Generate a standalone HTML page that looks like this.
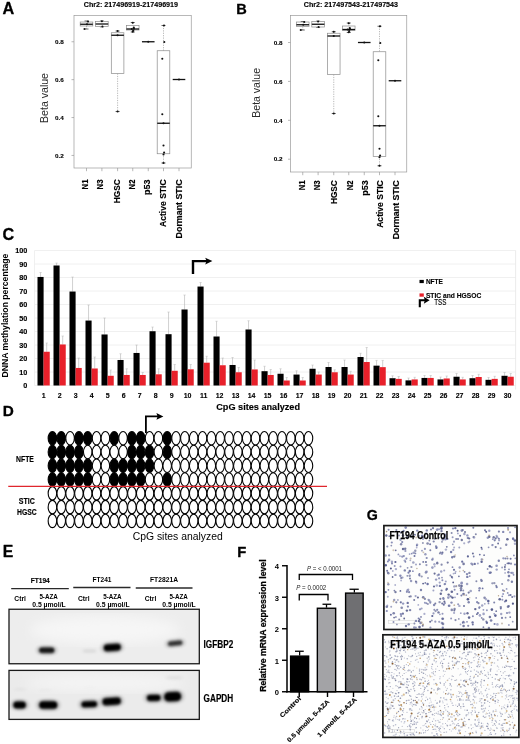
<!DOCTYPE html>
<html lang="en"><head><meta charset="utf-8"><title>Figure</title>
<style>html,body{margin:0;padding:0;background:#fff}svg{display:block}text{font-family:"Liberation Sans",sans-serif}</style></head><body>
<svg width="520" height="744" viewBox="0 0 520 744">
<defs>
<filter id="b1" x="-30%" y="-100%" width="160%" height="300%"><feGaussianBlur stdDeviation="1.1 0.9"/></filter>
<filter id="b2" x="-30%" y="-100%" width="160%" height="300%"><feGaussianBlur stdDeviation="2 1.5"/></filter>
<filter id="b3" x="-10%" y="-10%" width="120%" height="120%"><feGaussianBlur stdDeviation="6"/></filter>
</defs>
<rect width="520" height="744" fill="#fff"/>
<text x="2.60" y="14.45" font-size="16.2" font-weight="bold" text-anchor="start" fill="#000" stroke="#000" stroke-width="0.3" stroke-linejoin="round">A</text>
<text x="236.30" y="13.50" font-size="14.6" font-weight="bold" text-anchor="start" fill="#000" stroke="#000" stroke-width="0.3" stroke-linejoin="round">B</text>
<text x="2.60" y="239.80" font-size="16.2" font-weight="bold" text-anchor="start" fill="#000" stroke="#000" stroke-width="0.3" stroke-linejoin="round">C</text>
<text x="2.75" y="415.90" font-size="15.3" font-weight="bold" text-anchor="start" fill="#000" stroke="#000" stroke-width="0.3" stroke-linejoin="round">D</text>
<text x="2.70" y="557.20" font-size="15.8" font-weight="bold" text-anchor="start" fill="#000" stroke="#000" stroke-width="0.3" stroke-linejoin="round">E</text>
<text x="237.30" y="556.90" font-size="14.8" font-weight="bold" text-anchor="start" fill="#000" stroke="#000" stroke-width="0.3" stroke-linejoin="round">F</text>
<text x="366.70" y="519.50" font-size="14.2" font-weight="bold" text-anchor="start" fill="#000" stroke="#000" stroke-width="0.3" stroke-linejoin="round">G</text>
<rect x="74.00" y="15.50" width="117.25" height="152.50" fill="none" stroke="#9a9a9a" stroke-width="0.7" />
<text x="83.75" y="6.51" font-size="7.0" font-weight="bold" text-anchor="start" fill="#000" textLength="94.25" lengthAdjust="spacingAndGlyphs" stroke="#000" stroke-width="0.12" stroke-linejoin="round">Chr2: 217496919-217496919</text>
<line x1="71.50" y1="41.75" x2="74.00" y2="41.75" stroke="#9a9a9a" stroke-width="0.7" />
<text x="63.90" y="43.97" font-size="6.2" font-weight="bold" text-anchor="end" fill="#000" textLength="8.8" lengthAdjust="spacingAndGlyphs" stroke="#000" stroke-width="0.12" stroke-linejoin="round">0.8</text>
<line x1="71.50" y1="79.65" x2="74.00" y2="79.65" stroke="#9a9a9a" stroke-width="0.7" />
<text x="63.90" y="81.87" font-size="6.2" font-weight="bold" text-anchor="end" fill="#000" textLength="8.8" lengthAdjust="spacingAndGlyphs" stroke="#000" stroke-width="0.12" stroke-linejoin="round">0.6</text>
<line x1="71.50" y1="117.55" x2="74.00" y2="117.55" stroke="#9a9a9a" stroke-width="0.7" />
<text x="63.90" y="119.77" font-size="6.2" font-weight="bold" text-anchor="end" fill="#000" textLength="8.8" lengthAdjust="spacingAndGlyphs" stroke="#000" stroke-width="0.12" stroke-linejoin="round">0.4</text>
<line x1="71.50" y1="155.45" x2="74.00" y2="155.45" stroke="#9a9a9a" stroke-width="0.7" />
<text x="63.90" y="157.67" font-size="6.2" font-weight="bold" text-anchor="end" fill="#000" textLength="8.8" lengthAdjust="spacingAndGlyphs" stroke="#000" stroke-width="0.12" stroke-linejoin="round">0.2</text>
<text transform="translate(44.70 98.00) rotate(-90)" x="0" y="3.79" font-size="10.6" font-weight="normal" text-anchor="middle" fill="#2a2a2a" textLength="50" lengthAdjust="spacingAndGlyphs">Beta value</text>
<line x1="86.50" y1="168.00" x2="86.50" y2="171.20" stroke="#9a9a9a" stroke-width="0.7" />
<text transform="translate(85.20 179.40) rotate(-90)" x="0" y="2.94" font-size="8.2" font-weight="bold" text-anchor="end" fill="#000" textLength="10" lengthAdjust="spacingAndGlyphs" stroke="#000" stroke-width="0.15" stroke-linejoin="round">N1</text>
<line x1="101.90" y1="168.00" x2="101.90" y2="171.20" stroke="#9a9a9a" stroke-width="0.7" />
<text transform="translate(100.40 179.40) rotate(-90)" x="0" y="2.94" font-size="8.2" font-weight="bold" text-anchor="end" fill="#000" textLength="10" lengthAdjust="spacingAndGlyphs" stroke="#000" stroke-width="0.15" stroke-linejoin="round">N3</text>
<line x1="117.60" y1="168.00" x2="117.60" y2="171.20" stroke="#9a9a9a" stroke-width="0.7" />
<text transform="translate(116.80 179.40) rotate(-90)" x="0" y="2.94" font-size="8.2" font-weight="bold" text-anchor="end" fill="#000" textLength="23.75" lengthAdjust="spacingAndGlyphs" stroke="#000" stroke-width="0.15" stroke-linejoin="round">HGSC</text>
<line x1="132.75" y1="168.00" x2="132.75" y2="171.20" stroke="#9a9a9a" stroke-width="0.7" />
<text transform="translate(131.95 179.40) rotate(-90)" x="0" y="2.94" font-size="8.2" font-weight="bold" text-anchor="end" fill="#000" textLength="10" lengthAdjust="spacingAndGlyphs" stroke="#000" stroke-width="0.15" stroke-linejoin="round">N2</text>
<line x1="148.25" y1="168.00" x2="148.25" y2="171.20" stroke="#9a9a9a" stroke-width="0.7" />
<text transform="translate(147.25 179.40) rotate(-90)" x="0" y="2.94" font-size="8.2" font-weight="bold" text-anchor="end" fill="#000" textLength="15.5" lengthAdjust="spacingAndGlyphs" stroke="#000" stroke-width="0.15" stroke-linejoin="round">p53</text>
<line x1="163.50" y1="168.00" x2="163.50" y2="171.20" stroke="#9a9a9a" stroke-width="0.7" />
<text transform="translate(163.20 179.40) rotate(-90)" x="0" y="2.94" font-size="8.2" font-weight="bold" text-anchor="end" fill="#000" textLength="47.5" lengthAdjust="spacingAndGlyphs" stroke="#000" stroke-width="0.15" stroke-linejoin="round">Active STIC</text>
<line x1="179.00" y1="168.00" x2="179.00" y2="171.20" stroke="#9a9a9a" stroke-width="0.7" />
<text transform="translate(179.00 179.40) rotate(-90)" x="0" y="2.94" font-size="8.2" font-weight="bold" text-anchor="end" fill="#000" textLength="59" lengthAdjust="spacingAndGlyphs" stroke="#000" stroke-width="0.15" stroke-linejoin="round">Dormant STIC</text>
<line x1="86.50" y1="21.00" x2="86.50" y2="22.00" stroke="#888" stroke-width="0.6" stroke-dasharray="1.2 1.2"/>
<line x1="84.50" y1="21.00" x2="88.50" y2="21.00" stroke="#222" stroke-width="0.7" />
<line x1="86.50" y1="26.00" x2="86.50" y2="29.00" stroke="#888" stroke-width="0.6" stroke-dasharray="1.2 1.2"/>
<line x1="84.50" y1="29.00" x2="88.50" y2="29.00" stroke="#222" stroke-width="0.7" />
<rect x="80.20" y="22.00" width="12.60" height="4.00" fill="#fff" stroke="#8a8a8a" stroke-width="0.7" />
<line x1="80.20" y1="24.25" x2="92.80" y2="24.25" stroke="#111" stroke-width="1.3" />
<circle cx="88.00" cy="21.50" r="1.05" fill="#111"/>
<circle cx="87.00" cy="24.20" r="1.05" fill="#111"/>
<circle cx="84.50" cy="29.00" r="1.05" fill="#111"/>
<line x1="101.90" y1="21.00" x2="101.90" y2="21.50" stroke="#888" stroke-width="0.6" stroke-dasharray="1.2 1.2"/>
<line x1="99.90" y1="21.00" x2="103.90" y2="21.00" stroke="#222" stroke-width="0.7" />
<line x1="101.90" y1="26.50" x2="101.90" y2="26.80" stroke="#888" stroke-width="0.6" stroke-dasharray="1.2 1.2"/>
<line x1="99.90" y1="26.80" x2="103.90" y2="26.80" stroke="#222" stroke-width="0.7" />
<rect x="95.60" y="21.50" width="12.60" height="5.00" fill="#fff" stroke="#8a8a8a" stroke-width="0.7" />
<line x1="95.60" y1="24.00" x2="108.20" y2="24.00" stroke="#111" stroke-width="1.3" />
<circle cx="101.90" cy="21.20" r="1.05" fill="#111"/>
<circle cx="102.40" cy="26.50" r="1.05" fill="#111"/>
<line x1="117.60" y1="31.00" x2="117.60" y2="32.75" stroke="#888" stroke-width="0.6" stroke-dasharray="1.2 1.2"/>
<line x1="115.60" y1="31.00" x2="119.60" y2="31.00" stroke="#222" stroke-width="0.7" />
<line x1="117.60" y1="73.50" x2="117.60" y2="111.50" stroke="#888" stroke-width="0.6" stroke-dasharray="1.2 1.2"/>
<line x1="115.60" y1="111.50" x2="119.60" y2="111.50" stroke="#222" stroke-width="0.7" />
<rect x="111.30" y="32.75" width="12.60" height="40.75" fill="#fff" stroke="#8a8a8a" stroke-width="0.7" />
<line x1="111.30" y1="35.25" x2="123.90" y2="35.25" stroke="#111" stroke-width="1.3" />
<circle cx="117.60" cy="31.00" r="1.05" fill="#111"/>
<circle cx="117.60" cy="35.30" r="1.05" fill="#111"/>
<circle cx="117.60" cy="111.50" r="1.05" fill="#111"/>
<line x1="132.75" y1="22.50" x2="132.75" y2="25.50" stroke="#888" stroke-width="0.6" stroke-dasharray="1.2 1.2"/>
<line x1="130.75" y1="22.50" x2="134.75" y2="22.50" stroke="#222" stroke-width="0.7" />
<line x1="132.75" y1="30.00" x2="132.75" y2="32.00" stroke="#888" stroke-width="0.6" stroke-dasharray="1.2 1.2"/>
<line x1="130.75" y1="32.00" x2="134.75" y2="32.00" stroke="#222" stroke-width="0.7" />
<rect x="126.45" y="25.50" width="12.60" height="4.50" fill="#fff" stroke="#8a8a8a" stroke-width="0.7" />
<line x1="126.45" y1="29.00" x2="139.05" y2="29.00" stroke="#111" stroke-width="1.3" />
<circle cx="132.75" cy="22.80" r="1.05" fill="#111"/>
<circle cx="133.75" cy="27.50" r="1.05" fill="#111"/>
<circle cx="131.75" cy="29.00" r="1.05" fill="#111"/>
<circle cx="133.25" cy="30.50" r="1.05" fill="#111"/>
<circle cx="132.75" cy="31.80" r="1.05" fill="#111"/>
<circle cx="133.95" cy="28.60" r="1.05" fill="#111"/>
<line x1="141.95" y1="41.75" x2="154.55" y2="41.75" stroke="#111" stroke-width="1.3" />
<circle cx="148.25" cy="41.75" r="1.05" fill="#111"/>
<line x1="163.50" y1="25.50" x2="163.50" y2="50.75" stroke="#888" stroke-width="0.6" stroke-dasharray="1.2 1.2"/>
<line x1="161.50" y1="25.50" x2="165.50" y2="25.50" stroke="#222" stroke-width="0.7" />
<line x1="163.50" y1="153.75" x2="163.50" y2="163.00" stroke="#888" stroke-width="0.6" stroke-dasharray="1.2 1.2"/>
<line x1="161.50" y1="163.00" x2="165.50" y2="163.00" stroke="#222" stroke-width="0.7" />
<rect x="157.20" y="50.75" width="12.60" height="103.00" fill="#fff" stroke="#8a8a8a" stroke-width="0.7" />
<line x1="157.20" y1="123.25" x2="169.80" y2="123.25" stroke="#111" stroke-width="1.3" />
<circle cx="164.00" cy="25.50" r="1.05" fill="#111"/>
<circle cx="164.30" cy="42.00" r="1.05" fill="#111"/>
<circle cx="162.30" cy="58.75" r="1.05" fill="#111"/>
<circle cx="162.30" cy="114.25" r="1.05" fill="#111"/>
<circle cx="163.50" cy="123.25" r="1.05" fill="#111"/>
<circle cx="163.50" cy="145.50" r="1.05" fill="#111"/>
<circle cx="164.10" cy="152.50" r="1.05" fill="#111"/>
<circle cx="163.50" cy="154.50" r="1.05" fill="#111"/>
<circle cx="163.50" cy="163.00" r="1.05" fill="#111"/>
<line x1="172.70" y1="79.50" x2="185.30" y2="79.50" stroke="#111" stroke-width="1.3" />
<circle cx="179.00" cy="79.50" r="1.05" fill="#111"/>
<rect x="290.50" y="15.50" width="116.25" height="156.50" fill="none" stroke="#9a9a9a" stroke-width="0.7" />
<text x="303.75" y="6.61" font-size="7.0" font-weight="bold" text-anchor="start" fill="#000" textLength="94.25" lengthAdjust="spacingAndGlyphs" stroke="#000" stroke-width="0.12" stroke-linejoin="round">Chr2: 217497543-217497543</text>
<line x1="288.00" y1="42.50" x2="290.50" y2="42.50" stroke="#9a9a9a" stroke-width="0.7" />
<text x="282.50" y="44.72" font-size="6.2" font-weight="bold" text-anchor="end" fill="#000" textLength="8.8" lengthAdjust="spacingAndGlyphs" stroke="#000" stroke-width="0.12" stroke-linejoin="round">0.8</text>
<line x1="288.00" y1="81.40" x2="290.50" y2="81.40" stroke="#9a9a9a" stroke-width="0.7" />
<text x="282.50" y="83.62" font-size="6.2" font-weight="bold" text-anchor="end" fill="#000" textLength="8.8" lengthAdjust="spacingAndGlyphs" stroke="#000" stroke-width="0.12" stroke-linejoin="round">0.6</text>
<line x1="288.00" y1="120.30" x2="290.50" y2="120.30" stroke="#9a9a9a" stroke-width="0.7" />
<text x="282.50" y="122.52" font-size="6.2" font-weight="bold" text-anchor="end" fill="#000" textLength="8.8" lengthAdjust="spacingAndGlyphs" stroke="#000" stroke-width="0.12" stroke-linejoin="round">0.4</text>
<line x1="288.00" y1="159.20" x2="290.50" y2="159.20" stroke="#9a9a9a" stroke-width="0.7" />
<text x="282.50" y="161.42" font-size="6.2" font-weight="bold" text-anchor="end" fill="#000" textLength="8.8" lengthAdjust="spacingAndGlyphs" stroke="#000" stroke-width="0.12" stroke-linejoin="round">0.2</text>
<text transform="translate(256.40 92.85) rotate(-90)" x="0" y="3.79" font-size="10.6" font-weight="normal" text-anchor="middle" fill="#2a2a2a" textLength="49.7" lengthAdjust="spacingAndGlyphs">Beta value</text>
<line x1="302.75" y1="172.00" x2="302.75" y2="175.20" stroke="#9a9a9a" stroke-width="0.7" />
<text transform="translate(302.50 180.30) rotate(-90)" x="0" y="2.94" font-size="8.2" font-weight="bold" text-anchor="end" fill="#000" textLength="10" lengthAdjust="spacingAndGlyphs" stroke="#000" stroke-width="0.15" stroke-linejoin="round">N1</text>
<line x1="318.10" y1="172.00" x2="318.10" y2="175.20" stroke="#9a9a9a" stroke-width="0.7" />
<text transform="translate(317.35 180.30) rotate(-90)" x="0" y="2.94" font-size="8.2" font-weight="bold" text-anchor="end" fill="#000" textLength="10" lengthAdjust="spacingAndGlyphs" stroke="#000" stroke-width="0.15" stroke-linejoin="round">N3</text>
<line x1="333.75" y1="172.00" x2="333.75" y2="175.20" stroke="#9a9a9a" stroke-width="0.7" />
<text transform="translate(334.25 180.30) rotate(-90)" x="0" y="2.94" font-size="8.2" font-weight="bold" text-anchor="end" fill="#000" textLength="23.75" lengthAdjust="spacingAndGlyphs" stroke="#000" stroke-width="0.15" stroke-linejoin="round">HGSC</text>
<line x1="348.75" y1="172.00" x2="348.75" y2="175.20" stroke="#9a9a9a" stroke-width="0.7" />
<text transform="translate(349.75 180.30) rotate(-90)" x="0" y="2.94" font-size="8.2" font-weight="bold" text-anchor="end" fill="#000" textLength="10" lengthAdjust="spacingAndGlyphs" stroke="#000" stroke-width="0.15" stroke-linejoin="round">N2</text>
<line x1="364.25" y1="172.00" x2="364.25" y2="175.20" stroke="#9a9a9a" stroke-width="0.7" />
<text transform="translate(365.00 180.30) rotate(-90)" x="0" y="2.94" font-size="8.2" font-weight="bold" text-anchor="end" fill="#000" textLength="15.5" lengthAdjust="spacingAndGlyphs" stroke="#000" stroke-width="0.15" stroke-linejoin="round">p53</text>
<line x1="379.50" y1="172.00" x2="379.50" y2="175.20" stroke="#9a9a9a" stroke-width="0.7" />
<text transform="translate(380.25 180.30) rotate(-90)" x="0" y="2.94" font-size="8.2" font-weight="bold" text-anchor="end" fill="#000" textLength="47.5" lengthAdjust="spacingAndGlyphs" stroke="#000" stroke-width="0.15" stroke-linejoin="round">Active STIC</text>
<line x1="395.00" y1="172.00" x2="395.00" y2="175.20" stroke="#9a9a9a" stroke-width="0.7" />
<text transform="translate(396.25 180.30) rotate(-90)" x="0" y="2.94" font-size="8.2" font-weight="bold" text-anchor="end" fill="#000" textLength="59" lengthAdjust="spacingAndGlyphs" stroke="#000" stroke-width="0.15" stroke-linejoin="round">Dormant STIC</text>
<line x1="302.75" y1="21.50" x2="302.75" y2="22.00" stroke="#888" stroke-width="0.6" stroke-dasharray="1.2 1.2"/>
<line x1="300.75" y1="21.50" x2="304.75" y2="21.50" stroke="#222" stroke-width="0.7" />
<line x1="302.75" y1="26.50" x2="302.75" y2="30.00" stroke="#888" stroke-width="0.6" stroke-dasharray="1.2 1.2"/>
<line x1="300.75" y1="30.00" x2="304.75" y2="30.00" stroke="#222" stroke-width="0.7" />
<rect x="296.45" y="22.00" width="12.60" height="4.50" fill="#fff" stroke="#8a8a8a" stroke-width="0.7" />
<line x1="296.45" y1="24.75" x2="309.05" y2="24.75" stroke="#111" stroke-width="1.3" />
<circle cx="304.25" cy="22.00" r="1.05" fill="#111"/>
<circle cx="303.25" cy="24.70" r="1.05" fill="#111"/>
<circle cx="300.75" cy="30.00" r="1.05" fill="#111"/>
<line x1="318.10" y1="21.20" x2="318.10" y2="21.50" stroke="#888" stroke-width="0.6" stroke-dasharray="1.2 1.2"/>
<line x1="316.10" y1="21.20" x2="320.10" y2="21.20" stroke="#222" stroke-width="0.7" />
<line x1="318.10" y1="27.00" x2="318.10" y2="27.30" stroke="#888" stroke-width="0.6" stroke-dasharray="1.2 1.2"/>
<line x1="316.10" y1="27.30" x2="320.10" y2="27.30" stroke="#222" stroke-width="0.7" />
<rect x="311.80" y="21.50" width="12.60" height="5.50" fill="#fff" stroke="#8a8a8a" stroke-width="0.7" />
<line x1="311.80" y1="24.25" x2="324.40" y2="24.25" stroke="#111" stroke-width="1.3" />
<circle cx="318.10" cy="21.50" r="1.05" fill="#111"/>
<circle cx="318.60" cy="27.00" r="1.05" fill="#111"/>
<line x1="333.75" y1="31.75" x2="333.75" y2="33.25" stroke="#888" stroke-width="0.6" stroke-dasharray="1.2 1.2"/>
<line x1="331.75" y1="31.75" x2="335.75" y2="31.75" stroke="#222" stroke-width="0.7" />
<line x1="333.75" y1="74.50" x2="333.75" y2="113.50" stroke="#888" stroke-width="0.6" stroke-dasharray="1.2 1.2"/>
<line x1="331.75" y1="113.50" x2="335.75" y2="113.50" stroke="#222" stroke-width="0.7" />
<rect x="327.45" y="33.25" width="12.60" height="41.25" fill="#fff" stroke="#8a8a8a" stroke-width="0.7" />
<line x1="327.45" y1="36.00" x2="340.05" y2="36.00" stroke="#111" stroke-width="1.3" />
<circle cx="333.75" cy="31.75" r="1.05" fill="#111"/>
<circle cx="333.75" cy="36.00" r="1.05" fill="#111"/>
<circle cx="333.75" cy="113.50" r="1.05" fill="#111"/>
<line x1="348.75" y1="23.00" x2="348.75" y2="26.00" stroke="#888" stroke-width="0.6" stroke-dasharray="1.2 1.2"/>
<line x1="346.75" y1="23.00" x2="350.75" y2="23.00" stroke="#222" stroke-width="0.7" />
<line x1="348.75" y1="30.50" x2="348.75" y2="32.50" stroke="#888" stroke-width="0.6" stroke-dasharray="1.2 1.2"/>
<line x1="346.75" y1="32.50" x2="350.75" y2="32.50" stroke="#222" stroke-width="0.7" />
<rect x="342.45" y="26.00" width="12.60" height="4.50" fill="#fff" stroke="#8a8a8a" stroke-width="0.7" />
<line x1="342.45" y1="29.50" x2="355.05" y2="29.50" stroke="#111" stroke-width="1.3" />
<circle cx="348.75" cy="23.30" r="1.05" fill="#111"/>
<circle cx="349.75" cy="28.00" r="1.05" fill="#111"/>
<circle cx="347.75" cy="29.50" r="1.05" fill="#111"/>
<circle cx="349.25" cy="31.00" r="1.05" fill="#111"/>
<circle cx="348.75" cy="32.30" r="1.05" fill="#111"/>
<circle cx="349.95" cy="29.00" r="1.05" fill="#111"/>
<line x1="357.95" y1="42.50" x2="370.55" y2="42.50" stroke="#111" stroke-width="1.3" />
<circle cx="364.25" cy="42.50" r="1.05" fill="#111"/>
<line x1="379.50" y1="26.25" x2="379.50" y2="51.75" stroke="#888" stroke-width="0.6" stroke-dasharray="1.2 1.2"/>
<line x1="377.50" y1="26.25" x2="381.50" y2="26.25" stroke="#222" stroke-width="0.7" />
<line x1="379.50" y1="156.50" x2="379.50" y2="165.75" stroke="#888" stroke-width="0.6" stroke-dasharray="1.2 1.2"/>
<line x1="377.50" y1="165.75" x2="381.50" y2="165.75" stroke="#222" stroke-width="0.7" />
<rect x="373.20" y="51.75" width="12.60" height="104.75" fill="#fff" stroke="#8a8a8a" stroke-width="0.7" />
<line x1="373.20" y1="125.75" x2="385.80" y2="125.75" stroke="#111" stroke-width="1.3" />
<circle cx="380.00" cy="26.25" r="1.05" fill="#111"/>
<circle cx="380.30" cy="43.00" r="1.05" fill="#111"/>
<circle cx="378.30" cy="60.25" r="1.05" fill="#111"/>
<circle cx="378.30" cy="116.25" r="1.05" fill="#111"/>
<circle cx="379.50" cy="125.75" r="1.05" fill="#111"/>
<circle cx="379.50" cy="148.75" r="1.05" fill="#111"/>
<circle cx="380.10" cy="155.50" r="1.05" fill="#111"/>
<circle cx="379.50" cy="157.30" r="1.05" fill="#111"/>
<circle cx="379.50" cy="165.75" r="1.05" fill="#111"/>
<line x1="388.70" y1="80.75" x2="401.30" y2="80.75" stroke="#111" stroke-width="1.3" />
<circle cx="395.00" cy="80.75" r="1.05" fill="#111"/>
<line x1="34.50" y1="385.50" x2="515.60" y2="385.50" stroke="#ececec" stroke-width="0.8" />
<line x1="34.50" y1="372.00" x2="515.60" y2="372.00" stroke="#ececec" stroke-width="0.8" />
<line x1="34.50" y1="358.50" x2="515.60" y2="358.50" stroke="#ececec" stroke-width="0.8" />
<line x1="34.50" y1="345.00" x2="515.60" y2="345.00" stroke="#ececec" stroke-width="0.8" />
<line x1="34.50" y1="331.50" x2="515.60" y2="331.50" stroke="#ececec" stroke-width="0.8" />
<line x1="34.50" y1="318.00" x2="515.60" y2="318.00" stroke="#ececec" stroke-width="0.8" />
<line x1="34.50" y1="304.50" x2="515.60" y2="304.50" stroke="#ececec" stroke-width="0.8" />
<line x1="34.50" y1="291.00" x2="515.60" y2="291.00" stroke="#ececec" stroke-width="0.8" />
<line x1="34.50" y1="277.50" x2="515.60" y2="277.50" stroke="#ececec" stroke-width="0.8" />
<line x1="34.50" y1="264.00" x2="515.60" y2="264.00" stroke="#ececec" stroke-width="0.8" />
<line x1="34.50" y1="250.50" x2="515.60" y2="250.50" stroke="#ececec" stroke-width="0.8" />
<line x1="34.50" y1="250.50" x2="34.50" y2="385.50" stroke="#ececec" stroke-width="0.8" />
<line x1="515.60" y1="250.50" x2="515.60" y2="389.50" stroke="#e6e6e6" stroke-width="0.8" />
<text x="27.30" y="388.17" font-size="6.9" font-weight="bold" text-anchor="end" fill="#000" textLength="4.05" lengthAdjust="spacingAndGlyphs" stroke="#000" stroke-width="0.12" stroke-linejoin="round">0</text>
<text x="27.30" y="374.67" font-size="6.9" font-weight="bold" text-anchor="end" fill="#000" textLength="8.1" lengthAdjust="spacingAndGlyphs" stroke="#000" stroke-width="0.12" stroke-linejoin="round">10</text>
<text x="27.30" y="361.17" font-size="6.9" font-weight="bold" text-anchor="end" fill="#000" textLength="8.1" lengthAdjust="spacingAndGlyphs" stroke="#000" stroke-width="0.12" stroke-linejoin="round">20</text>
<text x="27.30" y="347.67" font-size="6.9" font-weight="bold" text-anchor="end" fill="#000" textLength="8.1" lengthAdjust="spacingAndGlyphs" stroke="#000" stroke-width="0.12" stroke-linejoin="round">30</text>
<text x="27.30" y="334.17" font-size="6.9" font-weight="bold" text-anchor="end" fill="#000" textLength="8.1" lengthAdjust="spacingAndGlyphs" stroke="#000" stroke-width="0.12" stroke-linejoin="round">40</text>
<text x="27.30" y="320.67" font-size="6.9" font-weight="bold" text-anchor="end" fill="#000" textLength="8.1" lengthAdjust="spacingAndGlyphs" stroke="#000" stroke-width="0.12" stroke-linejoin="round">50</text>
<text x="27.30" y="307.17" font-size="6.9" font-weight="bold" text-anchor="end" fill="#000" textLength="8.1" lengthAdjust="spacingAndGlyphs" stroke="#000" stroke-width="0.12" stroke-linejoin="round">60</text>
<text x="27.30" y="293.67" font-size="6.9" font-weight="bold" text-anchor="end" fill="#000" textLength="8.1" lengthAdjust="spacingAndGlyphs" stroke="#000" stroke-width="0.12" stroke-linejoin="round">70</text>
<text x="27.30" y="280.17" font-size="6.9" font-weight="bold" text-anchor="end" fill="#000" textLength="8.1" lengthAdjust="spacingAndGlyphs" stroke="#000" stroke-width="0.12" stroke-linejoin="round">80</text>
<text x="27.30" y="266.67" font-size="6.9" font-weight="bold" text-anchor="end" fill="#000" textLength="8.1" lengthAdjust="spacingAndGlyphs" stroke="#000" stroke-width="0.12" stroke-linejoin="round">90</text>
<text x="27.30" y="253.17" font-size="6.9" font-weight="bold" text-anchor="end" fill="#000" textLength="12.15" lengthAdjust="spacingAndGlyphs" stroke="#000" stroke-width="0.12" stroke-linejoin="round">100</text>
<text transform="translate(4.90 315.60) rotate(-90)" x="0" y="3.04" font-size="8.5" font-weight="bold" text-anchor="middle" fill="#000" textLength="124" lengthAdjust="spacingAndGlyphs">DNNA methylation percentage</text>
<line x1="40.55" y1="272.50" x2="40.55" y2="276.96" stroke="#b0b0b0" stroke-width="0.6" />
<line x1="39.40" y1="272.50" x2="41.70" y2="272.50" stroke="#b8b8b8" stroke-width="0.5" />
<line x1="46.70" y1="343.00" x2="46.70" y2="351.75" stroke="#b0b0b0" stroke-width="0.6" />
<line x1="45.55" y1="343.00" x2="47.85" y2="343.00" stroke="#b8b8b8" stroke-width="0.5" />
<rect x="37.50" y="276.96" width="6.10" height="108.54" fill="#000" stroke="none" stroke-width="1" />
<rect x="43.60" y="351.75" width="6.15" height="33.75" fill="#e8202a" stroke="none" stroke-width="1" />
<text x="43.60" y="397.81" font-size="7.0" font-weight="bold" text-anchor="middle" fill="#000" stroke="#000" stroke-width="0.12" stroke-linejoin="round">1</text>
<line x1="56.55" y1="263.00" x2="56.55" y2="265.49" stroke="#b0b0b0" stroke-width="0.6" />
<line x1="55.40" y1="263.00" x2="57.70" y2="263.00" stroke="#b8b8b8" stroke-width="0.5" />
<line x1="62.70" y1="336.00" x2="62.70" y2="344.46" stroke="#b0b0b0" stroke-width="0.6" />
<line x1="61.55" y1="336.00" x2="63.85" y2="336.00" stroke="#b8b8b8" stroke-width="0.5" />
<rect x="53.50" y="265.49" width="6.10" height="120.02" fill="#000" stroke="none" stroke-width="1" />
<rect x="59.60" y="344.46" width="6.15" height="41.04" fill="#e8202a" stroke="none" stroke-width="1" />
<text x="59.60" y="397.81" font-size="7.0" font-weight="bold" text-anchor="middle" fill="#000" stroke="#000" stroke-width="0.12" stroke-linejoin="round">2</text>
<line x1="72.55" y1="277.00" x2="72.55" y2="291.54" stroke="#b0b0b0" stroke-width="0.6" />
<line x1="71.40" y1="277.00" x2="73.70" y2="277.00" stroke="#b8b8b8" stroke-width="0.5" />
<line x1="78.70" y1="358.00" x2="78.70" y2="367.95" stroke="#b0b0b0" stroke-width="0.6" />
<line x1="77.55" y1="358.00" x2="79.85" y2="358.00" stroke="#b8b8b8" stroke-width="0.5" />
<rect x="69.50" y="291.54" width="6.10" height="93.96" fill="#000" stroke="none" stroke-width="1" />
<rect x="75.60" y="367.95" width="6.15" height="17.55" fill="#e8202a" stroke="none" stroke-width="1" />
<text x="75.60" y="397.81" font-size="7.0" font-weight="bold" text-anchor="middle" fill="#000" stroke="#000" stroke-width="0.12" stroke-linejoin="round">3</text>
<line x1="88.55" y1="305.00" x2="88.55" y2="320.56" stroke="#b0b0b0" stroke-width="0.6" />
<line x1="87.40" y1="305.00" x2="89.70" y2="305.00" stroke="#b8b8b8" stroke-width="0.5" />
<line x1="94.70" y1="357.00" x2="94.70" y2="368.49" stroke="#b0b0b0" stroke-width="0.6" />
<line x1="93.55" y1="357.00" x2="95.85" y2="357.00" stroke="#b8b8b8" stroke-width="0.5" />
<rect x="85.50" y="320.56" width="6.10" height="64.94" fill="#000" stroke="none" stroke-width="1" />
<rect x="91.60" y="368.49" width="6.15" height="17.01" fill="#e8202a" stroke="none" stroke-width="1" />
<text x="91.60" y="397.81" font-size="7.0" font-weight="bold" text-anchor="middle" fill="#000" stroke="#000" stroke-width="0.12" stroke-linejoin="round">4</text>
<line x1="104.55" y1="318.00" x2="104.55" y2="334.47" stroke="#b0b0b0" stroke-width="0.6" />
<line x1="103.40" y1="318.00" x2="105.70" y2="318.00" stroke="#b8b8b8" stroke-width="0.5" />
<line x1="110.70" y1="370.00" x2="110.70" y2="375.78" stroke="#b0b0b0" stroke-width="0.6" />
<line x1="109.55" y1="370.00" x2="111.85" y2="370.00" stroke="#b8b8b8" stroke-width="0.5" />
<rect x="101.50" y="334.47" width="6.10" height="51.03" fill="#000" stroke="none" stroke-width="1" />
<rect x="107.60" y="375.78" width="6.15" height="9.72" fill="#e8202a" stroke="none" stroke-width="1" />
<text x="107.60" y="397.81" font-size="7.0" font-weight="bold" text-anchor="middle" fill="#000" stroke="#000" stroke-width="0.12" stroke-linejoin="round">5</text>
<line x1="120.55" y1="353.75" x2="120.55" y2="359.99" stroke="#b0b0b0" stroke-width="0.6" />
<line x1="119.40" y1="353.75" x2="121.70" y2="353.75" stroke="#b8b8b8" stroke-width="0.5" />
<line x1="126.70" y1="368.75" x2="126.70" y2="374.97" stroke="#b0b0b0" stroke-width="0.6" />
<line x1="125.55" y1="368.75" x2="127.85" y2="368.75" stroke="#b8b8b8" stroke-width="0.5" />
<rect x="117.50" y="359.99" width="6.10" height="25.52" fill="#000" stroke="none" stroke-width="1" />
<rect x="123.60" y="374.97" width="6.15" height="10.53" fill="#e8202a" stroke="none" stroke-width="1" />
<text x="123.60" y="397.81" font-size="7.0" font-weight="bold" text-anchor="middle" fill="#000" stroke="#000" stroke-width="0.12" stroke-linejoin="round">6</text>
<line x1="136.55" y1="345.00" x2="136.55" y2="352.96" stroke="#b0b0b0" stroke-width="0.6" />
<line x1="135.40" y1="345.00" x2="137.70" y2="345.00" stroke="#b8b8b8" stroke-width="0.5" />
<line x1="142.70" y1="372.50" x2="142.70" y2="374.97" stroke="#b0b0b0" stroke-width="0.6" />
<line x1="141.55" y1="372.50" x2="143.85" y2="372.50" stroke="#b8b8b8" stroke-width="0.5" />
<rect x="133.50" y="352.96" width="6.10" height="32.54" fill="#000" stroke="none" stroke-width="1" />
<rect x="139.60" y="374.97" width="6.15" height="10.53" fill="#e8202a" stroke="none" stroke-width="1" />
<text x="139.60" y="397.81" font-size="7.0" font-weight="bold" text-anchor="middle" fill="#000" stroke="#000" stroke-width="0.12" stroke-linejoin="round">7</text>
<line x1="152.55" y1="327.00" x2="152.55" y2="331.23" stroke="#b0b0b0" stroke-width="0.6" />
<line x1="151.40" y1="327.00" x2="153.70" y2="327.00" stroke="#b8b8b8" stroke-width="0.5" />
<line x1="158.70" y1="368.75" x2="158.70" y2="374.30" stroke="#b0b0b0" stroke-width="0.6" />
<line x1="157.55" y1="368.75" x2="159.85" y2="368.75" stroke="#b8b8b8" stroke-width="0.5" />
<rect x="149.50" y="331.23" width="6.10" height="54.27" fill="#000" stroke="none" stroke-width="1" />
<rect x="155.60" y="374.30" width="6.15" height="11.21" fill="#e8202a" stroke="none" stroke-width="1" />
<text x="155.60" y="397.81" font-size="7.0" font-weight="bold" text-anchor="middle" fill="#000" stroke="#000" stroke-width="0.12" stroke-linejoin="round">8</text>
<line x1="168.55" y1="312.00" x2="168.55" y2="334.20" stroke="#b0b0b0" stroke-width="0.6" />
<line x1="167.40" y1="312.00" x2="169.70" y2="312.00" stroke="#b8b8b8" stroke-width="0.5" />
<line x1="174.70" y1="364.50" x2="174.70" y2="370.79" stroke="#b0b0b0" stroke-width="0.6" />
<line x1="173.55" y1="364.50" x2="175.85" y2="364.50" stroke="#b8b8b8" stroke-width="0.5" />
<rect x="165.50" y="334.20" width="6.10" height="51.30" fill="#000" stroke="none" stroke-width="1" />
<rect x="171.60" y="370.79" width="6.15" height="14.72" fill="#e8202a" stroke="none" stroke-width="1" />
<text x="171.60" y="397.81" font-size="7.0" font-weight="bold" text-anchor="middle" fill="#000" stroke="#000" stroke-width="0.12" stroke-linejoin="round">9</text>
<line x1="184.55" y1="295.00" x2="184.55" y2="309.50" stroke="#b0b0b0" stroke-width="0.6" />
<line x1="183.40" y1="295.00" x2="185.70" y2="295.00" stroke="#b8b8b8" stroke-width="0.5" />
<line x1="190.70" y1="364.50" x2="190.70" y2="369.30" stroke="#b0b0b0" stroke-width="0.6" />
<line x1="189.55" y1="364.50" x2="191.85" y2="364.50" stroke="#b8b8b8" stroke-width="0.5" />
<rect x="181.50" y="309.50" width="6.10" height="76.00" fill="#000" stroke="none" stroke-width="1" />
<rect x="187.60" y="369.30" width="6.15" height="16.20" fill="#e8202a" stroke="none" stroke-width="1" />
<text x="187.60" y="397.81" font-size="7.0" font-weight="bold" text-anchor="middle" fill="#000" stroke="#000" stroke-width="0.12" stroke-linejoin="round">10</text>
<line x1="200.55" y1="282.50" x2="200.55" y2="286.55" stroke="#b0b0b0" stroke-width="0.6" />
<line x1="199.40" y1="282.50" x2="201.70" y2="282.50" stroke="#b8b8b8" stroke-width="0.5" />
<line x1="206.70" y1="356.25" x2="206.70" y2="362.69" stroke="#b0b0b0" stroke-width="0.6" />
<line x1="205.55" y1="356.25" x2="207.85" y2="356.25" stroke="#b8b8b8" stroke-width="0.5" />
<rect x="197.50" y="286.55" width="6.10" height="98.95" fill="#000" stroke="none" stroke-width="1" />
<rect x="203.60" y="362.69" width="6.15" height="22.82" fill="#e8202a" stroke="none" stroke-width="1" />
<text x="203.60" y="397.81" font-size="7.0" font-weight="bold" text-anchor="middle" fill="#000" stroke="#000" stroke-width="0.12" stroke-linejoin="round">11</text>
<line x1="216.55" y1="321.25" x2="216.55" y2="336.50" stroke="#b0b0b0" stroke-width="0.6" />
<line x1="215.40" y1="321.25" x2="217.70" y2="321.25" stroke="#b8b8b8" stroke-width="0.5" />
<line x1="222.70" y1="358.00" x2="222.70" y2="365.25" stroke="#b0b0b0" stroke-width="0.6" />
<line x1="221.55" y1="358.00" x2="223.85" y2="358.00" stroke="#b8b8b8" stroke-width="0.5" />
<rect x="213.50" y="336.50" width="6.10" height="49.01" fill="#000" stroke="none" stroke-width="1" />
<rect x="219.60" y="365.25" width="6.15" height="20.25" fill="#e8202a" stroke="none" stroke-width="1" />
<text x="219.60" y="397.81" font-size="7.0" font-weight="bold" text-anchor="middle" fill="#000" stroke="#000" stroke-width="0.12" stroke-linejoin="round">12</text>
<line x1="232.55" y1="357.50" x2="232.55" y2="364.98" stroke="#b0b0b0" stroke-width="0.6" />
<line x1="231.40" y1="357.50" x2="233.70" y2="357.50" stroke="#b8b8b8" stroke-width="0.5" />
<line x1="238.70" y1="367.50" x2="238.70" y2="372.27" stroke="#b0b0b0" stroke-width="0.6" />
<line x1="237.55" y1="367.50" x2="239.85" y2="367.50" stroke="#b8b8b8" stroke-width="0.5" />
<rect x="229.50" y="364.98" width="6.10" height="20.52" fill="#000" stroke="none" stroke-width="1" />
<rect x="235.60" y="372.27" width="6.15" height="13.23" fill="#e8202a" stroke="none" stroke-width="1" />
<text x="235.60" y="397.81" font-size="7.0" font-weight="bold" text-anchor="middle" fill="#000" stroke="#000" stroke-width="0.12" stroke-linejoin="round">13</text>
<line x1="248.55" y1="320.75" x2="248.55" y2="329.48" stroke="#b0b0b0" stroke-width="0.6" />
<line x1="247.40" y1="320.75" x2="249.70" y2="320.75" stroke="#b8b8b8" stroke-width="0.5" />
<line x1="254.70" y1="360.00" x2="254.70" y2="369.44" stroke="#b0b0b0" stroke-width="0.6" />
<line x1="253.55" y1="360.00" x2="255.85" y2="360.00" stroke="#b8b8b8" stroke-width="0.5" />
<rect x="245.50" y="329.48" width="6.10" height="56.03" fill="#000" stroke="none" stroke-width="1" />
<rect x="251.60" y="369.44" width="6.15" height="16.07" fill="#e8202a" stroke="none" stroke-width="1" />
<text x="251.60" y="397.81" font-size="7.0" font-weight="bold" text-anchor="middle" fill="#000" stroke="#000" stroke-width="0.12" stroke-linejoin="round">14</text>
<line x1="264.55" y1="366.25" x2="264.55" y2="371.19" stroke="#b0b0b0" stroke-width="0.6" />
<line x1="263.40" y1="366.25" x2="265.70" y2="366.25" stroke="#b8b8b8" stroke-width="0.5" />
<line x1="270.70" y1="369.50" x2="270.70" y2="374.97" stroke="#b0b0b0" stroke-width="0.6" />
<line x1="269.55" y1="369.50" x2="271.85" y2="369.50" stroke="#b8b8b8" stroke-width="0.5" />
<rect x="261.50" y="371.19" width="6.10" height="14.31" fill="#000" stroke="none" stroke-width="1" />
<rect x="267.60" y="374.97" width="6.15" height="10.53" fill="#e8202a" stroke="none" stroke-width="1" />
<text x="267.60" y="397.81" font-size="7.0" font-weight="bold" text-anchor="middle" fill="#000" stroke="#000" stroke-width="0.12" stroke-linejoin="round">15</text>
<line x1="280.55" y1="368.75" x2="280.55" y2="373.75" stroke="#b0b0b0" stroke-width="0.6" />
<line x1="279.40" y1="368.75" x2="281.70" y2="368.75" stroke="#b8b8b8" stroke-width="0.5" />
<line x1="286.70" y1="377.50" x2="286.70" y2="380.50" stroke="#b0b0b0" stroke-width="0.6" />
<line x1="285.55" y1="377.50" x2="287.85" y2="377.50" stroke="#b8b8b8" stroke-width="0.5" />
<rect x="277.50" y="373.75" width="6.10" height="11.74" fill="#000" stroke="none" stroke-width="1" />
<rect x="283.60" y="380.50" width="6.15" height="5.00" fill="#e8202a" stroke="none" stroke-width="1" />
<text x="283.60" y="397.81" font-size="7.0" font-weight="bold" text-anchor="middle" fill="#000" stroke="#000" stroke-width="0.12" stroke-linejoin="round">16</text>
<line x1="296.55" y1="370.75" x2="296.55" y2="374.56" stroke="#b0b0b0" stroke-width="0.6" />
<line x1="295.40" y1="370.75" x2="297.70" y2="370.75" stroke="#b8b8b8" stroke-width="0.5" />
<line x1="302.70" y1="377.50" x2="302.70" y2="380.50" stroke="#b0b0b0" stroke-width="0.6" />
<line x1="301.55" y1="377.50" x2="303.85" y2="377.50" stroke="#b8b8b8" stroke-width="0.5" />
<rect x="293.50" y="374.56" width="6.10" height="10.94" fill="#000" stroke="none" stroke-width="1" />
<rect x="299.60" y="380.50" width="6.15" height="5.00" fill="#e8202a" stroke="none" stroke-width="1" />
<text x="299.60" y="397.81" font-size="7.0" font-weight="bold" text-anchor="middle" fill="#000" stroke="#000" stroke-width="0.12" stroke-linejoin="round">17</text>
<line x1="312.55" y1="365.00" x2="312.55" y2="368.76" stroke="#b0b0b0" stroke-width="0.6" />
<line x1="311.40" y1="365.00" x2="313.70" y2="365.00" stroke="#b8b8b8" stroke-width="0.5" />
<line x1="318.70" y1="372.00" x2="318.70" y2="374.56" stroke="#b0b0b0" stroke-width="0.6" />
<line x1="317.55" y1="372.00" x2="319.85" y2="372.00" stroke="#b8b8b8" stroke-width="0.5" />
<rect x="309.50" y="368.76" width="6.10" height="16.74" fill="#000" stroke="none" stroke-width="1" />
<rect x="315.60" y="374.56" width="6.15" height="10.94" fill="#e8202a" stroke="none" stroke-width="1" />
<text x="315.60" y="397.81" font-size="7.0" font-weight="bold" text-anchor="middle" fill="#000" stroke="#000" stroke-width="0.12" stroke-linejoin="round">18</text>
<line x1="328.55" y1="362.50" x2="328.55" y2="367.00" stroke="#b0b0b0" stroke-width="0.6" />
<line x1="327.40" y1="362.50" x2="329.70" y2="362.50" stroke="#b8b8b8" stroke-width="0.5" />
<line x1="334.70" y1="369.75" x2="334.70" y2="372.27" stroke="#b0b0b0" stroke-width="0.6" />
<line x1="333.55" y1="369.75" x2="335.85" y2="369.75" stroke="#b8b8b8" stroke-width="0.5" />
<rect x="325.50" y="367.00" width="6.10" height="18.50" fill="#000" stroke="none" stroke-width="1" />
<rect x="331.60" y="372.27" width="6.15" height="13.23" fill="#e8202a" stroke="none" stroke-width="1" />
<text x="331.60" y="397.81" font-size="7.0" font-weight="bold" text-anchor="middle" fill="#000" stroke="#000" stroke-width="0.12" stroke-linejoin="round">19</text>
<line x1="344.55" y1="360.00" x2="344.55" y2="367.00" stroke="#b0b0b0" stroke-width="0.6" />
<line x1="343.40" y1="360.00" x2="345.70" y2="360.00" stroke="#b8b8b8" stroke-width="0.5" />
<line x1="350.70" y1="371.25" x2="350.70" y2="374.56" stroke="#b0b0b0" stroke-width="0.6" />
<line x1="349.55" y1="371.25" x2="351.85" y2="371.25" stroke="#b8b8b8" stroke-width="0.5" />
<rect x="341.50" y="367.00" width="6.10" height="18.50" fill="#000" stroke="none" stroke-width="1" />
<rect x="347.60" y="374.56" width="6.15" height="10.94" fill="#e8202a" stroke="none" stroke-width="1" />
<text x="347.60" y="397.81" font-size="7.0" font-weight="bold" text-anchor="middle" fill="#000" stroke="#000" stroke-width="0.12" stroke-linejoin="round">20</text>
<line x1="360.55" y1="353.25" x2="360.55" y2="357.01" stroke="#b0b0b0" stroke-width="0.6" />
<line x1="359.40" y1="353.25" x2="361.70" y2="353.25" stroke="#b8b8b8" stroke-width="0.5" />
<line x1="366.70" y1="347.50" x2="366.70" y2="362.01" stroke="#b0b0b0" stroke-width="0.6" />
<line x1="365.55" y1="347.50" x2="367.85" y2="347.50" stroke="#b8b8b8" stroke-width="0.5" />
<rect x="357.50" y="357.01" width="6.10" height="28.49" fill="#000" stroke="none" stroke-width="1" />
<rect x="363.60" y="362.01" width="6.15" height="23.49" fill="#e8202a" stroke="none" stroke-width="1" />
<text x="363.60" y="397.81" font-size="7.0" font-weight="bold" text-anchor="middle" fill="#000" stroke="#000" stroke-width="0.12" stroke-linejoin="round">21</text>
<line x1="376.55" y1="360.40" x2="376.55" y2="365.65" stroke="#b0b0b0" stroke-width="0.6" />
<line x1="375.40" y1="360.40" x2="377.70" y2="360.40" stroke="#b8b8b8" stroke-width="0.5" />
<line x1="382.70" y1="360.40" x2="382.70" y2="367.14" stroke="#b0b0b0" stroke-width="0.6" />
<line x1="381.55" y1="360.40" x2="383.85" y2="360.40" stroke="#b8b8b8" stroke-width="0.5" />
<rect x="373.50" y="365.65" width="6.10" height="19.84" fill="#000" stroke="none" stroke-width="1" />
<rect x="379.60" y="367.14" width="6.15" height="18.36" fill="#e8202a" stroke="none" stroke-width="1" />
<text x="379.60" y="397.81" font-size="7.0" font-weight="bold" text-anchor="middle" fill="#000" stroke="#000" stroke-width="0.12" stroke-linejoin="round">22</text>
<line x1="392.55" y1="375.80" x2="392.55" y2="378.21" stroke="#b0b0b0" stroke-width="0.6" />
<line x1="391.40" y1="375.80" x2="393.70" y2="375.80" stroke="#b8b8b8" stroke-width="0.5" />
<line x1="398.70" y1="376.50" x2="398.70" y2="378.88" stroke="#b0b0b0" stroke-width="0.6" />
<line x1="397.55" y1="376.50" x2="399.85" y2="376.50" stroke="#b8b8b8" stroke-width="0.5" />
<rect x="389.50" y="378.21" width="6.10" height="7.29" fill="#000" stroke="none" stroke-width="1" />
<rect x="395.60" y="378.88" width="6.15" height="6.62" fill="#e8202a" stroke="none" stroke-width="1" />
<text x="395.60" y="397.81" font-size="7.0" font-weight="bold" text-anchor="middle" fill="#000" stroke="#000" stroke-width="0.12" stroke-linejoin="round">23</text>
<line x1="408.55" y1="378.00" x2="408.55" y2="380.37" stroke="#b0b0b0" stroke-width="0.6" />
<line x1="407.40" y1="378.00" x2="409.70" y2="378.00" stroke="#b8b8b8" stroke-width="0.5" />
<line x1="414.70" y1="377.30" x2="414.70" y2="379.43" stroke="#b0b0b0" stroke-width="0.6" />
<line x1="413.55" y1="377.30" x2="415.85" y2="377.30" stroke="#b8b8b8" stroke-width="0.5" />
<rect x="405.50" y="380.37" width="6.10" height="5.13" fill="#000" stroke="none" stroke-width="1" />
<rect x="411.60" y="379.43" width="6.15" height="6.08" fill="#e8202a" stroke="none" stroke-width="1" />
<text x="411.60" y="397.81" font-size="7.0" font-weight="bold" text-anchor="middle" fill="#000" stroke="#000" stroke-width="0.12" stroke-linejoin="round">24</text>
<line x1="424.55" y1="375.50" x2="424.55" y2="377.94" stroke="#b0b0b0" stroke-width="0.6" />
<line x1="423.40" y1="375.50" x2="425.70" y2="375.50" stroke="#b8b8b8" stroke-width="0.5" />
<line x1="430.70" y1="375.50" x2="430.70" y2="377.94" stroke="#b0b0b0" stroke-width="0.6" />
<line x1="429.55" y1="375.50" x2="431.85" y2="375.50" stroke="#b8b8b8" stroke-width="0.5" />
<rect x="421.50" y="377.94" width="6.10" height="7.56" fill="#000" stroke="none" stroke-width="1" />
<rect x="427.60" y="377.94" width="6.15" height="7.56" fill="#e8202a" stroke="none" stroke-width="1" />
<text x="427.60" y="397.81" font-size="7.0" font-weight="bold" text-anchor="middle" fill="#000" stroke="#000" stroke-width="0.12" stroke-linejoin="round">25</text>
<line x1="440.55" y1="377.00" x2="440.55" y2="379.43" stroke="#b0b0b0" stroke-width="0.6" />
<line x1="439.40" y1="377.00" x2="441.70" y2="377.00" stroke="#b8b8b8" stroke-width="0.5" />
<line x1="446.70" y1="376.00" x2="446.70" y2="378.48" stroke="#b0b0b0" stroke-width="0.6" />
<line x1="445.55" y1="376.00" x2="447.85" y2="376.00" stroke="#b8b8b8" stroke-width="0.5" />
<rect x="437.50" y="379.43" width="6.10" height="6.08" fill="#000" stroke="none" stroke-width="1" />
<rect x="443.60" y="378.48" width="6.15" height="7.02" fill="#e8202a" stroke="none" stroke-width="1" />
<text x="443.60" y="397.81" font-size="7.0" font-weight="bold" text-anchor="middle" fill="#000" stroke="#000" stroke-width="0.12" stroke-linejoin="round">26</text>
<line x1="456.55" y1="373.50" x2="456.55" y2="376.73" stroke="#b0b0b0" stroke-width="0.6" />
<line x1="455.40" y1="373.50" x2="457.70" y2="373.50" stroke="#b8b8b8" stroke-width="0.5" />
<line x1="462.70" y1="377.30" x2="462.70" y2="379.43" stroke="#b0b0b0" stroke-width="0.6" />
<line x1="461.55" y1="377.30" x2="463.85" y2="377.30" stroke="#b8b8b8" stroke-width="0.5" />
<rect x="453.50" y="376.73" width="6.10" height="8.78" fill="#000" stroke="none" stroke-width="1" />
<rect x="459.60" y="379.43" width="6.15" height="6.08" fill="#e8202a" stroke="none" stroke-width="1" />
<text x="459.60" y="397.81" font-size="7.0" font-weight="bold" text-anchor="middle" fill="#000" stroke="#000" stroke-width="0.12" stroke-linejoin="round">27</text>
<line x1="472.55" y1="375.50" x2="472.55" y2="378.21" stroke="#b0b0b0" stroke-width="0.6" />
<line x1="471.40" y1="375.50" x2="473.70" y2="375.50" stroke="#b8b8b8" stroke-width="0.5" />
<line x1="478.70" y1="374.30" x2="478.70" y2="377.00" stroke="#b0b0b0" stroke-width="0.6" />
<line x1="477.55" y1="374.30" x2="479.85" y2="374.30" stroke="#b8b8b8" stroke-width="0.5" />
<rect x="469.50" y="378.21" width="6.10" height="7.29" fill="#000" stroke="none" stroke-width="1" />
<rect x="475.60" y="377.00" width="6.15" height="8.51" fill="#e8202a" stroke="none" stroke-width="1" />
<text x="475.60" y="397.81" font-size="7.0" font-weight="bold" text-anchor="middle" fill="#000" stroke="#000" stroke-width="0.12" stroke-linejoin="round">28</text>
<line x1="488.55" y1="377.50" x2="488.55" y2="379.83" stroke="#b0b0b0" stroke-width="0.6" />
<line x1="487.40" y1="377.50" x2="489.70" y2="377.50" stroke="#b8b8b8" stroke-width="0.5" />
<line x1="494.70" y1="376.30" x2="494.70" y2="378.88" stroke="#b0b0b0" stroke-width="0.6" />
<line x1="493.55" y1="376.30" x2="495.85" y2="376.30" stroke="#b8b8b8" stroke-width="0.5" />
<rect x="485.50" y="379.83" width="6.10" height="5.67" fill="#000" stroke="none" stroke-width="1" />
<rect x="491.60" y="378.88" width="6.15" height="6.62" fill="#e8202a" stroke="none" stroke-width="1" />
<text x="491.60" y="397.81" font-size="7.0" font-weight="bold" text-anchor="middle" fill="#000" stroke="#000" stroke-width="0.12" stroke-linejoin="round">29</text>
<line x1="504.55" y1="372.50" x2="504.55" y2="375.78" stroke="#b0b0b0" stroke-width="0.6" />
<line x1="503.40" y1="372.50" x2="505.70" y2="372.50" stroke="#b8b8b8" stroke-width="0.5" />
<line x1="510.70" y1="373.50" x2="510.70" y2="376.73" stroke="#b0b0b0" stroke-width="0.6" />
<line x1="509.55" y1="373.50" x2="511.85" y2="373.50" stroke="#b8b8b8" stroke-width="0.5" />
<rect x="501.50" y="375.78" width="6.10" height="9.72" fill="#000" stroke="none" stroke-width="1" />
<rect x="507.60" y="376.73" width="6.15" height="8.78" fill="#e8202a" stroke="none" stroke-width="1" />
<text x="507.60" y="397.81" font-size="7.0" font-weight="bold" text-anchor="middle" fill="#000" stroke="#000" stroke-width="0.12" stroke-linejoin="round">30</text>
<text x="216.25" y="410.13" font-size="9.3" font-weight="bold" text-anchor="start" fill="#000" textLength="83.75" lengthAdjust="spacingAndGlyphs" stroke="#000" stroke-width="0.15" stroke-linejoin="round">CpG sites analyzed</text>
<path d="M193 274 V261.1 H207" fill="none" stroke="#000" stroke-width="2.4"/>
<path d="M205.2 257.7 L212.4 261.1 L205.2 264.5 L206.6 261.1 Z" fill="#000"/>
<rect x="419.50" y="279.90" width="4.30" height="3.20" fill="#000" stroke="none" stroke-width="1" />
<text x="425.90" y="283.93" font-size="6.8" font-weight="bold" text-anchor="start" fill="#000" textLength="17" lengthAdjust="spacingAndGlyphs" stroke="#000" stroke-width="0.12" stroke-linejoin="round">NFTE</text>
<rect x="419.50" y="293.40" width="4.30" height="3.30" fill="#e8202a" stroke="none" stroke-width="1" />
<text x="425.90" y="297.61" font-size="7.0" font-weight="bold" text-anchor="start" fill="#000" textLength="55.4" lengthAdjust="spacingAndGlyphs" stroke="#000" stroke-width="0.12" stroke-linejoin="round">STIC and HGSOC</text>
<path d="M419.8 307.2 V300.3 H425" fill="none" stroke="#000" stroke-width="2.1"/>
<path d="M423.8 296.8 L429.6 300.3 L423.8 303.8 L424.8 300.3 Z" fill="#000"/>
<text x="434.20" y="305.38" font-size="8.6" font-weight="normal" text-anchor="start" fill="#000" textLength="12.2" lengthAdjust="spacingAndGlyphs" stroke="#000" stroke-width="0.15" stroke-linejoin="round">TSS</text>
<ellipse cx="52.41" cy="438.19" rx="4.26" ry="6.74" fill="#000" stroke="#000" stroke-width="1.1"/>
<ellipse cx="61.25" cy="438.19" rx="4.26" ry="6.74" fill="#000" stroke="#000" stroke-width="1.1"/>
<ellipse cx="70.08" cy="438.19" rx="4.26" ry="6.74" fill="#fff" stroke="#000" stroke-width="1.1"/>
<ellipse cx="78.91" cy="438.19" rx="4.26" ry="6.74" fill="#000" stroke="#000" stroke-width="1.1"/>
<ellipse cx="87.73" cy="438.19" rx="4.26" ry="6.74" fill="#000" stroke="#000" stroke-width="1.1"/>
<ellipse cx="96.56" cy="438.19" rx="4.26" ry="6.74" fill="#fff" stroke="#000" stroke-width="1.1"/>
<ellipse cx="105.40" cy="438.19" rx="4.26" ry="6.74" fill="#fff" stroke="#000" stroke-width="1.1"/>
<ellipse cx="114.22" cy="438.19" rx="4.26" ry="6.74" fill="#000" stroke="#000" stroke-width="1.1"/>
<ellipse cx="123.06" cy="438.19" rx="4.26" ry="6.74" fill="#fff" stroke="#000" stroke-width="1.1"/>
<ellipse cx="131.88" cy="438.19" rx="4.26" ry="6.74" fill="#000" stroke="#000" stroke-width="1.1"/>
<ellipse cx="140.72" cy="438.19" rx="4.26" ry="6.74" fill="#000" stroke="#000" stroke-width="1.1"/>
<ellipse cx="149.55" cy="438.19" rx="4.26" ry="6.74" fill="#fff" stroke="#000" stroke-width="1.1"/>
<ellipse cx="158.38" cy="438.19" rx="4.26" ry="6.74" fill="#fff" stroke="#000" stroke-width="1.1"/>
<ellipse cx="167.20" cy="438.19" rx="4.26" ry="6.74" fill="#000" stroke="#000" stroke-width="1.1"/>
<ellipse cx="176.03" cy="438.19" rx="4.26" ry="6.74" fill="#fff" stroke="#000" stroke-width="1.1"/>
<ellipse cx="184.87" cy="438.19" rx="4.26" ry="6.74" fill="#fff" stroke="#000" stroke-width="1.1"/>
<ellipse cx="193.69" cy="438.19" rx="4.26" ry="6.74" fill="#fff" stroke="#000" stroke-width="1.1"/>
<ellipse cx="202.53" cy="438.19" rx="4.26" ry="6.74" fill="#fff" stroke="#000" stroke-width="1.1"/>
<ellipse cx="211.35" cy="438.19" rx="4.26" ry="6.74" fill="#fff" stroke="#000" stroke-width="1.1"/>
<ellipse cx="220.19" cy="438.19" rx="4.26" ry="6.74" fill="#fff" stroke="#000" stroke-width="1.1"/>
<ellipse cx="229.02" cy="438.19" rx="4.26" ry="6.74" fill="#fff" stroke="#000" stroke-width="1.1"/>
<ellipse cx="237.84" cy="438.19" rx="4.26" ry="6.74" fill="#fff" stroke="#000" stroke-width="1.1"/>
<ellipse cx="246.68" cy="438.19" rx="4.26" ry="6.74" fill="#fff" stroke="#000" stroke-width="1.1"/>
<ellipse cx="255.50" cy="438.19" rx="4.26" ry="6.74" fill="#fff" stroke="#000" stroke-width="1.1"/>
<ellipse cx="264.34" cy="438.19" rx="4.26" ry="6.74" fill="#fff" stroke="#000" stroke-width="1.1"/>
<ellipse cx="273.16" cy="438.19" rx="4.26" ry="6.74" fill="#fff" stroke="#000" stroke-width="1.1"/>
<ellipse cx="282.00" cy="438.19" rx="4.26" ry="6.74" fill="#fff" stroke="#000" stroke-width="1.1"/>
<ellipse cx="290.82" cy="438.19" rx="4.26" ry="6.74" fill="#fff" stroke="#000" stroke-width="1.1"/>
<ellipse cx="299.65" cy="438.19" rx="4.26" ry="6.74" fill="#fff" stroke="#000" stroke-width="1.1"/>
<ellipse cx="308.49" cy="438.19" rx="4.26" ry="6.74" fill="#fff" stroke="#000" stroke-width="1.1"/>
<ellipse cx="52.41" cy="451.99" rx="4.26" ry="6.74" fill="#000" stroke="#000" stroke-width="1.1"/>
<ellipse cx="61.25" cy="451.99" rx="4.26" ry="6.74" fill="#000" stroke="#000" stroke-width="1.1"/>
<ellipse cx="70.08" cy="451.99" rx="4.26" ry="6.74" fill="#000" stroke="#000" stroke-width="1.1"/>
<ellipse cx="78.91" cy="451.99" rx="4.26" ry="6.74" fill="#000" stroke="#000" stroke-width="1.1"/>
<ellipse cx="87.73" cy="451.99" rx="4.26" ry="6.74" fill="#fff" stroke="#000" stroke-width="1.1"/>
<ellipse cx="96.56" cy="451.99" rx="4.26" ry="6.74" fill="#fff" stroke="#000" stroke-width="1.1"/>
<ellipse cx="105.40" cy="451.99" rx="4.26" ry="6.74" fill="#fff" stroke="#000" stroke-width="1.1"/>
<ellipse cx="114.22" cy="451.99" rx="4.26" ry="6.74" fill="#fff" stroke="#000" stroke-width="1.1"/>
<ellipse cx="123.06" cy="451.99" rx="4.26" ry="6.74" fill="#fff" stroke="#000" stroke-width="1.1"/>
<ellipse cx="131.88" cy="451.99" rx="4.26" ry="6.74" fill="#000" stroke="#000" stroke-width="1.1"/>
<ellipse cx="140.72" cy="451.99" rx="4.26" ry="6.74" fill="#000" stroke="#000" stroke-width="1.1"/>
<ellipse cx="149.55" cy="451.99" rx="4.26" ry="6.74" fill="#000" stroke="#000" stroke-width="1.1"/>
<ellipse cx="158.38" cy="451.99" rx="4.26" ry="6.74" fill="#fff" stroke="#000" stroke-width="1.1"/>
<ellipse cx="167.20" cy="451.99" rx="4.26" ry="6.74" fill="#000" stroke="#000" stroke-width="1.1"/>
<ellipse cx="176.03" cy="451.99" rx="4.26" ry="6.74" fill="#fff" stroke="#000" stroke-width="1.1"/>
<ellipse cx="184.87" cy="451.99" rx="4.26" ry="6.74" fill="#fff" stroke="#000" stroke-width="1.1"/>
<ellipse cx="193.69" cy="451.99" rx="4.26" ry="6.74" fill="#fff" stroke="#000" stroke-width="1.1"/>
<ellipse cx="202.53" cy="451.99" rx="4.26" ry="6.74" fill="#fff" stroke="#000" stroke-width="1.1"/>
<ellipse cx="211.35" cy="451.99" rx="4.26" ry="6.74" fill="#fff" stroke="#000" stroke-width="1.1"/>
<ellipse cx="220.19" cy="451.99" rx="4.26" ry="6.74" fill="#fff" stroke="#000" stroke-width="1.1"/>
<ellipse cx="229.02" cy="451.99" rx="4.26" ry="6.74" fill="#fff" stroke="#000" stroke-width="1.1"/>
<ellipse cx="237.84" cy="451.99" rx="4.26" ry="6.74" fill="#fff" stroke="#000" stroke-width="1.1"/>
<ellipse cx="246.68" cy="451.99" rx="4.26" ry="6.74" fill="#fff" stroke="#000" stroke-width="1.1"/>
<ellipse cx="255.50" cy="451.99" rx="4.26" ry="6.74" fill="#fff" stroke="#000" stroke-width="1.1"/>
<ellipse cx="264.34" cy="451.99" rx="4.26" ry="6.74" fill="#fff" stroke="#000" stroke-width="1.1"/>
<ellipse cx="273.16" cy="451.99" rx="4.26" ry="6.74" fill="#fff" stroke="#000" stroke-width="1.1"/>
<ellipse cx="282.00" cy="451.99" rx="4.26" ry="6.74" fill="#fff" stroke="#000" stroke-width="1.1"/>
<ellipse cx="290.82" cy="451.99" rx="4.26" ry="6.74" fill="#fff" stroke="#000" stroke-width="1.1"/>
<ellipse cx="299.65" cy="451.99" rx="4.26" ry="6.74" fill="#fff" stroke="#000" stroke-width="1.1"/>
<ellipse cx="308.49" cy="451.99" rx="4.26" ry="6.74" fill="#fff" stroke="#000" stroke-width="1.1"/>
<ellipse cx="52.41" cy="465.77" rx="4.26" ry="6.74" fill="#000" stroke="#000" stroke-width="1.1"/>
<ellipse cx="61.25" cy="465.77" rx="4.26" ry="6.74" fill="#000" stroke="#000" stroke-width="1.1"/>
<ellipse cx="70.08" cy="465.77" rx="4.26" ry="6.74" fill="#000" stroke="#000" stroke-width="1.1"/>
<ellipse cx="78.91" cy="465.77" rx="4.26" ry="6.74" fill="#000" stroke="#000" stroke-width="1.1"/>
<ellipse cx="87.73" cy="465.77" rx="4.26" ry="6.74" fill="#000" stroke="#000" stroke-width="1.1"/>
<ellipse cx="96.56" cy="465.77" rx="4.26" ry="6.74" fill="#fff" stroke="#000" stroke-width="1.1"/>
<ellipse cx="105.40" cy="465.77" rx="4.26" ry="6.74" fill="#fff" stroke="#000" stroke-width="1.1"/>
<ellipse cx="114.22" cy="465.77" rx="4.26" ry="6.74" fill="#000" stroke="#000" stroke-width="1.1"/>
<ellipse cx="123.06" cy="465.77" rx="4.26" ry="6.74" fill="#000" stroke="#000" stroke-width="1.1"/>
<ellipse cx="131.88" cy="465.77" rx="4.26" ry="6.74" fill="#000" stroke="#000" stroke-width="1.1"/>
<ellipse cx="140.72" cy="465.77" rx="4.26" ry="6.74" fill="#000" stroke="#000" stroke-width="1.1"/>
<ellipse cx="149.55" cy="465.77" rx="4.26" ry="6.74" fill="#000" stroke="#000" stroke-width="1.1"/>
<ellipse cx="158.38" cy="465.77" rx="4.26" ry="6.74" fill="#fff" stroke="#000" stroke-width="1.1"/>
<ellipse cx="167.20" cy="465.77" rx="4.26" ry="6.74" fill="#fff" stroke="#000" stroke-width="1.1"/>
<ellipse cx="176.03" cy="465.77" rx="4.26" ry="6.74" fill="#fff" stroke="#000" stroke-width="1.1"/>
<ellipse cx="184.87" cy="465.77" rx="4.26" ry="6.74" fill="#fff" stroke="#000" stroke-width="1.1"/>
<ellipse cx="193.69" cy="465.77" rx="4.26" ry="6.74" fill="#fff" stroke="#000" stroke-width="1.1"/>
<ellipse cx="202.53" cy="465.77" rx="4.26" ry="6.74" fill="#fff" stroke="#000" stroke-width="1.1"/>
<ellipse cx="211.35" cy="465.77" rx="4.26" ry="6.74" fill="#fff" stroke="#000" stroke-width="1.1"/>
<ellipse cx="220.19" cy="465.77" rx="4.26" ry="6.74" fill="#fff" stroke="#000" stroke-width="1.1"/>
<ellipse cx="229.02" cy="465.77" rx="4.26" ry="6.74" fill="#fff" stroke="#000" stroke-width="1.1"/>
<ellipse cx="237.84" cy="465.77" rx="4.26" ry="6.74" fill="#fff" stroke="#000" stroke-width="1.1"/>
<ellipse cx="246.68" cy="465.77" rx="4.26" ry="6.74" fill="#fff" stroke="#000" stroke-width="1.1"/>
<ellipse cx="255.50" cy="465.77" rx="4.26" ry="6.74" fill="#fff" stroke="#000" stroke-width="1.1"/>
<ellipse cx="264.34" cy="465.77" rx="4.26" ry="6.74" fill="#fff" stroke="#000" stroke-width="1.1"/>
<ellipse cx="273.16" cy="465.77" rx="4.26" ry="6.74" fill="#fff" stroke="#000" stroke-width="1.1"/>
<ellipse cx="282.00" cy="465.77" rx="4.26" ry="6.74" fill="#fff" stroke="#000" stroke-width="1.1"/>
<ellipse cx="290.82" cy="465.77" rx="4.26" ry="6.74" fill="#fff" stroke="#000" stroke-width="1.1"/>
<ellipse cx="299.65" cy="465.77" rx="4.26" ry="6.74" fill="#fff" stroke="#000" stroke-width="1.1"/>
<ellipse cx="308.49" cy="465.77" rx="4.26" ry="6.74" fill="#fff" stroke="#000" stroke-width="1.1"/>
<ellipse cx="52.41" cy="479.56" rx="4.26" ry="6.74" fill="#000" stroke="#000" stroke-width="1.1"/>
<ellipse cx="61.25" cy="479.56" rx="4.26" ry="6.74" fill="#000" stroke="#000" stroke-width="1.1"/>
<ellipse cx="70.08" cy="479.56" rx="4.26" ry="6.74" fill="#000" stroke="#000" stroke-width="1.1"/>
<ellipse cx="78.91" cy="479.56" rx="4.26" ry="6.74" fill="#000" stroke="#000" stroke-width="1.1"/>
<ellipse cx="87.73" cy="479.56" rx="4.26" ry="6.74" fill="#000" stroke="#000" stroke-width="1.1"/>
<ellipse cx="96.56" cy="479.56" rx="4.26" ry="6.74" fill="#fff" stroke="#000" stroke-width="1.1"/>
<ellipse cx="105.40" cy="479.56" rx="4.26" ry="6.74" fill="#fff" stroke="#000" stroke-width="1.1"/>
<ellipse cx="114.22" cy="479.56" rx="4.26" ry="6.74" fill="#000" stroke="#000" stroke-width="1.1"/>
<ellipse cx="123.06" cy="479.56" rx="4.26" ry="6.74" fill="#000" stroke="#000" stroke-width="1.1"/>
<ellipse cx="131.88" cy="479.56" rx="4.26" ry="6.74" fill="#000" stroke="#000" stroke-width="1.1"/>
<ellipse cx="140.72" cy="479.56" rx="4.26" ry="6.74" fill="#000" stroke="#000" stroke-width="1.1"/>
<ellipse cx="149.55" cy="479.56" rx="4.26" ry="6.74" fill="#fff" stroke="#000" stroke-width="1.1"/>
<ellipse cx="158.38" cy="479.56" rx="4.26" ry="6.74" fill="#fff" stroke="#000" stroke-width="1.1"/>
<ellipse cx="167.20" cy="479.56" rx="4.26" ry="6.74" fill="#000" stroke="#000" stroke-width="1.1"/>
<ellipse cx="176.03" cy="479.56" rx="4.26" ry="6.74" fill="#fff" stroke="#000" stroke-width="1.1"/>
<ellipse cx="184.87" cy="479.56" rx="4.26" ry="6.74" fill="#fff" stroke="#000" stroke-width="1.1"/>
<ellipse cx="193.69" cy="479.56" rx="4.26" ry="6.74" fill="#fff" stroke="#000" stroke-width="1.1"/>
<ellipse cx="202.53" cy="479.56" rx="4.26" ry="6.74" fill="#fff" stroke="#000" stroke-width="1.1"/>
<ellipse cx="211.35" cy="479.56" rx="4.26" ry="6.74" fill="#fff" stroke="#000" stroke-width="1.1"/>
<ellipse cx="220.19" cy="479.56" rx="4.26" ry="6.74" fill="#fff" stroke="#000" stroke-width="1.1"/>
<ellipse cx="229.02" cy="479.56" rx="4.26" ry="6.74" fill="#fff" stroke="#000" stroke-width="1.1"/>
<ellipse cx="237.84" cy="479.56" rx="4.26" ry="6.74" fill="#fff" stroke="#000" stroke-width="1.1"/>
<ellipse cx="246.68" cy="479.56" rx="4.26" ry="6.74" fill="#fff" stroke="#000" stroke-width="1.1"/>
<ellipse cx="255.50" cy="479.56" rx="4.26" ry="6.74" fill="#fff" stroke="#000" stroke-width="1.1"/>
<ellipse cx="264.34" cy="479.56" rx="4.26" ry="6.74" fill="#fff" stroke="#000" stroke-width="1.1"/>
<ellipse cx="273.16" cy="479.56" rx="4.26" ry="6.74" fill="#fff" stroke="#000" stroke-width="1.1"/>
<ellipse cx="282.00" cy="479.56" rx="4.26" ry="6.74" fill="#fff" stroke="#000" stroke-width="1.1"/>
<ellipse cx="290.82" cy="479.56" rx="4.26" ry="6.74" fill="#fff" stroke="#000" stroke-width="1.1"/>
<ellipse cx="299.65" cy="479.56" rx="4.26" ry="6.74" fill="#fff" stroke="#000" stroke-width="1.1"/>
<ellipse cx="308.49" cy="479.56" rx="4.26" ry="6.74" fill="#fff" stroke="#000" stroke-width="1.1"/>
<ellipse cx="52.41" cy="493.36" rx="4.26" ry="6.74" fill="#fff" stroke="#000" stroke-width="1.1"/>
<ellipse cx="61.25" cy="493.36" rx="4.26" ry="6.74" fill="#fff" stroke="#000" stroke-width="1.1"/>
<ellipse cx="70.08" cy="493.36" rx="4.26" ry="6.74" fill="#fff" stroke="#000" stroke-width="1.1"/>
<ellipse cx="78.91" cy="493.36" rx="4.26" ry="6.74" fill="#fff" stroke="#000" stroke-width="1.1"/>
<ellipse cx="87.73" cy="493.36" rx="4.26" ry="6.74" fill="#fff" stroke="#000" stroke-width="1.1"/>
<ellipse cx="96.56" cy="493.36" rx="4.26" ry="6.74" fill="#fff" stroke="#000" stroke-width="1.1"/>
<ellipse cx="105.40" cy="493.36" rx="4.26" ry="6.74" fill="#fff" stroke="#000" stroke-width="1.1"/>
<ellipse cx="114.22" cy="493.36" rx="4.26" ry="6.74" fill="#fff" stroke="#000" stroke-width="1.1"/>
<ellipse cx="123.06" cy="493.36" rx="4.26" ry="6.74" fill="#fff" stroke="#000" stroke-width="1.1"/>
<ellipse cx="131.88" cy="493.36" rx="4.26" ry="6.74" fill="#fff" stroke="#000" stroke-width="1.1"/>
<ellipse cx="140.72" cy="493.36" rx="4.26" ry="6.74" fill="#fff" stroke="#000" stroke-width="1.1"/>
<ellipse cx="149.55" cy="493.36" rx="4.26" ry="6.74" fill="#fff" stroke="#000" stroke-width="1.1"/>
<ellipse cx="158.38" cy="493.36" rx="4.26" ry="6.74" fill="#fff" stroke="#000" stroke-width="1.1"/>
<ellipse cx="167.20" cy="493.36" rx="4.26" ry="6.74" fill="#fff" stroke="#000" stroke-width="1.1"/>
<ellipse cx="176.03" cy="493.36" rx="4.26" ry="6.74" fill="#fff" stroke="#000" stroke-width="1.1"/>
<ellipse cx="184.87" cy="493.36" rx="4.26" ry="6.74" fill="#fff" stroke="#000" stroke-width="1.1"/>
<ellipse cx="193.69" cy="493.36" rx="4.26" ry="6.74" fill="#fff" stroke="#000" stroke-width="1.1"/>
<ellipse cx="202.53" cy="493.36" rx="4.26" ry="6.74" fill="#fff" stroke="#000" stroke-width="1.1"/>
<ellipse cx="211.35" cy="493.36" rx="4.26" ry="6.74" fill="#fff" stroke="#000" stroke-width="1.1"/>
<ellipse cx="220.19" cy="493.36" rx="4.26" ry="6.74" fill="#fff" stroke="#000" stroke-width="1.1"/>
<ellipse cx="229.02" cy="493.36" rx="4.26" ry="6.74" fill="#fff" stroke="#000" stroke-width="1.1"/>
<ellipse cx="237.84" cy="493.36" rx="4.26" ry="6.74" fill="#fff" stroke="#000" stroke-width="1.1"/>
<ellipse cx="246.68" cy="493.36" rx="4.26" ry="6.74" fill="#fff" stroke="#000" stroke-width="1.1"/>
<ellipse cx="255.50" cy="493.36" rx="4.26" ry="6.74" fill="#fff" stroke="#000" stroke-width="1.1"/>
<ellipse cx="264.34" cy="493.36" rx="4.26" ry="6.74" fill="#fff" stroke="#000" stroke-width="1.1"/>
<ellipse cx="273.16" cy="493.36" rx="4.26" ry="6.74" fill="#fff" stroke="#000" stroke-width="1.1"/>
<ellipse cx="282.00" cy="493.36" rx="4.26" ry="6.74" fill="#fff" stroke="#000" stroke-width="1.1"/>
<ellipse cx="290.82" cy="493.36" rx="4.26" ry="6.74" fill="#fff" stroke="#000" stroke-width="1.1"/>
<ellipse cx="299.65" cy="493.36" rx="4.26" ry="6.74" fill="#fff" stroke="#000" stroke-width="1.1"/>
<ellipse cx="308.49" cy="493.36" rx="4.26" ry="6.74" fill="#fff" stroke="#000" stroke-width="1.1"/>
<ellipse cx="52.41" cy="507.14" rx="4.26" ry="6.74" fill="#fff" stroke="#000" stroke-width="1.1"/>
<ellipse cx="61.25" cy="507.14" rx="4.26" ry="6.74" fill="#fff" stroke="#000" stroke-width="1.1"/>
<ellipse cx="70.08" cy="507.14" rx="4.26" ry="6.74" fill="#fff" stroke="#000" stroke-width="1.1"/>
<ellipse cx="78.91" cy="507.14" rx="4.26" ry="6.74" fill="#fff" stroke="#000" stroke-width="1.1"/>
<ellipse cx="87.73" cy="507.14" rx="4.26" ry="6.74" fill="#fff" stroke="#000" stroke-width="1.1"/>
<ellipse cx="96.56" cy="507.14" rx="4.26" ry="6.74" fill="#fff" stroke="#000" stroke-width="1.1"/>
<ellipse cx="105.40" cy="507.14" rx="4.26" ry="6.74" fill="#fff" stroke="#000" stroke-width="1.1"/>
<ellipse cx="114.22" cy="507.14" rx="4.26" ry="6.74" fill="#fff" stroke="#000" stroke-width="1.1"/>
<ellipse cx="123.06" cy="507.14" rx="4.26" ry="6.74" fill="#fff" stroke="#000" stroke-width="1.1"/>
<ellipse cx="131.88" cy="507.14" rx="4.26" ry="6.74" fill="#fff" stroke="#000" stroke-width="1.1"/>
<ellipse cx="140.72" cy="507.14" rx="4.26" ry="6.74" fill="#fff" stroke="#000" stroke-width="1.1"/>
<ellipse cx="149.55" cy="507.14" rx="4.26" ry="6.74" fill="#fff" stroke="#000" stroke-width="1.1"/>
<ellipse cx="158.38" cy="507.14" rx="4.26" ry="6.74" fill="#fff" stroke="#000" stroke-width="1.1"/>
<ellipse cx="167.20" cy="507.14" rx="4.26" ry="6.74" fill="#fff" stroke="#000" stroke-width="1.1"/>
<ellipse cx="176.03" cy="507.14" rx="4.26" ry="6.74" fill="#fff" stroke="#000" stroke-width="1.1"/>
<ellipse cx="184.87" cy="507.14" rx="4.26" ry="6.74" fill="#fff" stroke="#000" stroke-width="1.1"/>
<ellipse cx="193.69" cy="507.14" rx="4.26" ry="6.74" fill="#fff" stroke="#000" stroke-width="1.1"/>
<ellipse cx="202.53" cy="507.14" rx="4.26" ry="6.74" fill="#fff" stroke="#000" stroke-width="1.1"/>
<ellipse cx="211.35" cy="507.14" rx="4.26" ry="6.74" fill="#fff" stroke="#000" stroke-width="1.1"/>
<ellipse cx="220.19" cy="507.14" rx="4.26" ry="6.74" fill="#fff" stroke="#000" stroke-width="1.1"/>
<ellipse cx="229.02" cy="507.14" rx="4.26" ry="6.74" fill="#fff" stroke="#000" stroke-width="1.1"/>
<ellipse cx="237.84" cy="507.14" rx="4.26" ry="6.74" fill="#fff" stroke="#000" stroke-width="1.1"/>
<ellipse cx="246.68" cy="507.14" rx="4.26" ry="6.74" fill="#fff" stroke="#000" stroke-width="1.1"/>
<ellipse cx="255.50" cy="507.14" rx="4.26" ry="6.74" fill="#fff" stroke="#000" stroke-width="1.1"/>
<ellipse cx="264.34" cy="507.14" rx="4.26" ry="6.74" fill="#fff" stroke="#000" stroke-width="1.1"/>
<ellipse cx="273.16" cy="507.14" rx="4.26" ry="6.74" fill="#fff" stroke="#000" stroke-width="1.1"/>
<ellipse cx="282.00" cy="507.14" rx="4.26" ry="6.74" fill="#fff" stroke="#000" stroke-width="1.1"/>
<ellipse cx="290.82" cy="507.14" rx="4.26" ry="6.74" fill="#fff" stroke="#000" stroke-width="1.1"/>
<ellipse cx="299.65" cy="507.14" rx="4.26" ry="6.74" fill="#fff" stroke="#000" stroke-width="1.1"/>
<ellipse cx="308.49" cy="507.14" rx="4.26" ry="6.74" fill="#fff" stroke="#000" stroke-width="1.1"/>
<ellipse cx="52.41" cy="520.93" rx="4.26" ry="6.74" fill="#fff" stroke="#000" stroke-width="1.1"/>
<ellipse cx="61.25" cy="520.93" rx="4.26" ry="6.74" fill="#fff" stroke="#000" stroke-width="1.1"/>
<ellipse cx="70.08" cy="520.93" rx="4.26" ry="6.74" fill="#fff" stroke="#000" stroke-width="1.1"/>
<ellipse cx="78.91" cy="520.93" rx="4.26" ry="6.74" fill="#fff" stroke="#000" stroke-width="1.1"/>
<ellipse cx="87.73" cy="520.93" rx="4.26" ry="6.74" fill="#fff" stroke="#000" stroke-width="1.1"/>
<ellipse cx="96.56" cy="520.93" rx="4.26" ry="6.74" fill="#fff" stroke="#000" stroke-width="1.1"/>
<ellipse cx="105.40" cy="520.93" rx="4.26" ry="6.74" fill="#fff" stroke="#000" stroke-width="1.1"/>
<ellipse cx="114.22" cy="520.93" rx="4.26" ry="6.74" fill="#fff" stroke="#000" stroke-width="1.1"/>
<ellipse cx="123.06" cy="520.93" rx="4.26" ry="6.74" fill="#fff" stroke="#000" stroke-width="1.1"/>
<ellipse cx="131.88" cy="520.93" rx="4.26" ry="6.74" fill="#fff" stroke="#000" stroke-width="1.1"/>
<ellipse cx="140.72" cy="520.93" rx="4.26" ry="6.74" fill="#fff" stroke="#000" stroke-width="1.1"/>
<ellipse cx="149.55" cy="520.93" rx="4.26" ry="6.74" fill="#fff" stroke="#000" stroke-width="1.1"/>
<ellipse cx="158.38" cy="520.93" rx="4.26" ry="6.74" fill="#fff" stroke="#000" stroke-width="1.1"/>
<ellipse cx="167.20" cy="520.93" rx="4.26" ry="6.74" fill="#fff" stroke="#000" stroke-width="1.1"/>
<ellipse cx="176.03" cy="520.93" rx="4.26" ry="6.74" fill="#fff" stroke="#000" stroke-width="1.1"/>
<ellipse cx="184.87" cy="520.93" rx="4.26" ry="6.74" fill="#fff" stroke="#000" stroke-width="1.1"/>
<ellipse cx="193.69" cy="520.93" rx="4.26" ry="6.74" fill="#fff" stroke="#000" stroke-width="1.1"/>
<ellipse cx="202.53" cy="520.93" rx="4.26" ry="6.74" fill="#fff" stroke="#000" stroke-width="1.1"/>
<ellipse cx="211.35" cy="520.93" rx="4.26" ry="6.74" fill="#fff" stroke="#000" stroke-width="1.1"/>
<ellipse cx="220.19" cy="520.93" rx="4.26" ry="6.74" fill="#fff" stroke="#000" stroke-width="1.1"/>
<ellipse cx="229.02" cy="520.93" rx="4.26" ry="6.74" fill="#fff" stroke="#000" stroke-width="1.1"/>
<ellipse cx="237.84" cy="520.93" rx="4.26" ry="6.74" fill="#fff" stroke="#000" stroke-width="1.1"/>
<ellipse cx="246.68" cy="520.93" rx="4.26" ry="6.74" fill="#fff" stroke="#000" stroke-width="1.1"/>
<ellipse cx="255.50" cy="520.93" rx="4.26" ry="6.74" fill="#fff" stroke="#000" stroke-width="1.1"/>
<ellipse cx="264.34" cy="520.93" rx="4.26" ry="6.74" fill="#fff" stroke="#000" stroke-width="1.1"/>
<ellipse cx="273.16" cy="520.93" rx="4.26" ry="6.74" fill="#fff" stroke="#000" stroke-width="1.1"/>
<ellipse cx="282.00" cy="520.93" rx="4.26" ry="6.74" fill="#fff" stroke="#000" stroke-width="1.1"/>
<ellipse cx="290.82" cy="520.93" rx="4.26" ry="6.74" fill="#fff" stroke="#000" stroke-width="1.1"/>
<ellipse cx="299.65" cy="520.93" rx="4.26" ry="6.74" fill="#fff" stroke="#000" stroke-width="1.1"/>
<ellipse cx="308.49" cy="520.93" rx="4.26" ry="6.74" fill="#fff" stroke="#000" stroke-width="1.1"/>
<line x1="8.25" y1="486.30" x2="327.00" y2="486.30" stroke="#e0262d" stroke-width="1.2" />
<text x="16.00" y="462.19" font-size="9.2" font-weight="bold" text-anchor="start" fill="#000" textLength="17.9" lengthAdjust="spacingAndGlyphs" stroke="#000" stroke-width="0.15" stroke-linejoin="round">NFTE</text>
<text x="18.80" y="503.89" font-size="9.2" font-weight="bold" text-anchor="start" fill="#000" textLength="16.1" lengthAdjust="spacingAndGlyphs" stroke="#000" stroke-width="0.15" stroke-linejoin="round">STIC</text>
<text x="17.10" y="515.39" font-size="9.2" font-weight="bold" text-anchor="start" fill="#000" textLength="19.7" lengthAdjust="spacingAndGlyphs" stroke="#000" stroke-width="0.15" stroke-linejoin="round">HGSC</text>
<path d="M145.9 433 V416.4 H158" fill="none" stroke="#000" stroke-width="1.8"/>
<path d="M156.4 413.1 L163.4 416.4 L156.4 419.7 L157.6 416.4 Z" fill="#000"/>
<text x="132.70" y="539.89" font-size="10.6" font-weight="normal" text-anchor="start" fill="#000" textLength="90" lengthAdjust="spacingAndGlyphs">CpG sites analyzed</text>
<text x="40.20" y="582.90" font-size="6.7" font-weight="bold" text-anchor="middle" fill="#000" textLength="19" lengthAdjust="spacingAndGlyphs" stroke="#000" stroke-width="0.12" stroke-linejoin="round">FT194</text>
<text x="102.00" y="581.70" font-size="6.7" font-weight="bold" text-anchor="middle" fill="#000" textLength="19" lengthAdjust="spacingAndGlyphs">FT241</text>
<text x="164.00" y="581.70" font-size="6.7" font-weight="bold" text-anchor="middle" fill="#000" textLength="28" lengthAdjust="spacingAndGlyphs">FT2821A</text>
<line x1="11.20" y1="588.65" x2="68.80" y2="588.65" stroke="#2a2a2a" stroke-width="1.4" />
<line x1="73.25" y1="587.50" x2="130.50" y2="587.50" stroke="#2a2a2a" stroke-width="1.4" />
<line x1="135.75" y1="588.00" x2="192.50" y2="588.00" stroke="#2a2a2a" stroke-width="1.4" />
<text x="20.10" y="601.07" font-size="6.9" font-weight="bold" text-anchor="middle" fill="#000" textLength="11.6" lengthAdjust="spacingAndGlyphs">Ctrl</text>
<text x="48.60" y="598.53" font-size="6.8" font-weight="bold" text-anchor="middle" fill="#000" textLength="18.4" lengthAdjust="spacingAndGlyphs">5-AZA</text>
<text x="49.00" y="606.73" font-size="6.8" font-weight="bold" text-anchor="middle" fill="#000" textLength="33.6" lengthAdjust="spacingAndGlyphs">0.5 µmol/L</text>
<text x="83.75" y="601.07" font-size="6.9" font-weight="bold" text-anchor="middle" fill="#000" textLength="11.6" lengthAdjust="spacingAndGlyphs">Ctrl</text>
<text x="112.40" y="598.53" font-size="6.8" font-weight="bold" text-anchor="middle" fill="#000" textLength="18.4" lengthAdjust="spacingAndGlyphs">5-AZA</text>
<text x="112.80" y="606.73" font-size="6.8" font-weight="bold" text-anchor="middle" fill="#000" textLength="33.6" lengthAdjust="spacingAndGlyphs">0.5 µmol/L</text>
<text x="150.50" y="601.07" font-size="6.9" font-weight="bold" text-anchor="middle" fill="#000" textLength="11.6" lengthAdjust="spacingAndGlyphs">Ctrl</text>
<text x="178.60" y="598.53" font-size="6.8" font-weight="bold" text-anchor="middle" fill="#000" textLength="18.4" lengthAdjust="spacingAndGlyphs">5-AZA</text>
<text x="179.00" y="606.73" font-size="6.8" font-weight="bold" text-anchor="middle" fill="#000" textLength="33.6" lengthAdjust="spacingAndGlyphs">0.5 µmol/L</text>
<clipPath id="c1"><rect x="9" y="609.25" width="190.3" height="54.5"/></clipPath>
<clipPath id="c2"><rect x="9" y="670.4" width="190.3" height="49"/></clipPath>
<rect x="9.00" y="609.25" width="190.30" height="54.50" fill="#ededed" stroke="none" stroke-width="1" />
<rect x="9.00" y="670.40" width="190.30" height="49.00" fill="#ebebeb" stroke="none" stroke-width="1" />
<g clip-path="url(#c1)">
<ellipse cx="105" cy="630" rx="75" ry="14" fill="#f6f6f6" filter="url(#b3)"/>
<g transform="rotate(0 46.8 650.2)" opacity="0.9">
<rect x="37.70" y="645.90" width="18.10" height="8.60" rx="4.80" fill="#000" opacity="0.4" filter="url(#b2)"/>
<rect x="39.30" y="647.70" width="14.90" height="5.00" rx="2.50" fill="#000" filter="url(#b1)"/>
</g>
<g transform="rotate(0 89.5 651.0)" opacity="0.1">
<rect x="82.00" y="648.50" width="15.00" height="5.00" rx="3.00" fill="#000" opacity="0.3" filter="url(#b2)"/>
<rect x="83.60" y="650.30" width="11.80" height="1.40" rx="0.70" fill="#000" filter="url(#b1)"/>
</g>
<g transform="rotate(-4 112.3 647.5)" opacity="1.0">
<rect x="102.30" y="642.50" width="20.00" height="10.00" rx="5.50" fill="#000" opacity="0.4" filter="url(#b2)"/>
<rect x="103.90" y="644.30" width="16.80" height="6.40" rx="3.20" fill="#000" filter="url(#b1)"/>
</g>
<g transform="rotate(-6 175.2 643.3)" opacity="0.8">
<rect x="166.50" y="639.50" width="17.30" height="7.60" rx="4.30" fill="#000" opacity="0.4" filter="url(#b2)"/>
<rect x="168.10" y="641.30" width="14.10" height="4.00" rx="2.00" fill="#000" filter="url(#b1)"/>
</g>
</g>
<g clip-path="url(#c2)">
<ellipse cx="105" cy="683" rx="80" ry="9" fill="#f4f4f4" filter="url(#b3)"/>
<g transform="rotate(0 19.6 705.0)" opacity="1.0">
<rect x="11.90" y="699.90" width="15.40" height="10.20" rx="5.60" fill="#000" opacity="0.4" filter="url(#b2)"/>
<rect x="13.50" y="701.70" width="12.20" height="6.60" rx="3.30" fill="#000" filter="url(#b1)"/>
</g>
<g transform="rotate(0 48.2 705.0)" opacity="1.0">
<rect x="37.70" y="699.70" width="21.10" height="10.60" rx="5.80" fill="#000" opacity="0.4" filter="url(#b2)"/>
<rect x="39.30" y="701.50" width="17.90" height="7.00" rx="3.50" fill="#000" filter="url(#b1)"/>
</g>
<g transform="rotate(-2 89.2 704.2)" opacity="1.0">
<rect x="80.00" y="699.70" width="18.50" height="9.00" rx="5.00" fill="#000" opacity="0.4" filter="url(#b2)"/>
<rect x="81.60" y="701.50" width="15.30" height="5.40" rx="2.70" fill="#000" filter="url(#b1)"/>
</g>
<g transform="rotate(-4 111.7 701.4)" opacity="1.0">
<rect x="101.00" y="696.30" width="21.30" height="10.20" rx="5.60" fill="#000" opacity="0.4" filter="url(#b2)"/>
<rect x="102.60" y="698.10" width="18.10" height="6.60" rx="3.30" fill="#000" filter="url(#b1)"/>
</g>
<g transform="rotate(-1 153.7 697.9)" opacity="1.0">
<rect x="145.40" y="693.20" width="16.60" height="9.30" rx="5.15" fill="#000" opacity="0.4" filter="url(#b2)"/>
<rect x="147.00" y="695.00" width="13.40" height="5.70" rx="2.85" fill="#000" filter="url(#b1)"/>
</g>
<g transform="rotate(-3 172.7 696.7)" opacity="1.0">
<rect x="162.70" y="690.50" width="20.00" height="12.40" rx="6.70" fill="#000" opacity="0.4" filter="url(#b2)"/>
<rect x="164.30" y="692.30" width="16.80" height="8.80" rx="4.40" fill="#000" filter="url(#b1)"/>
</g>
<g transform="rotate(0 20.0 689.2)" opacity="0.13">
<rect x="14.00" y="688.00" width="12.00" height="2.50" rx="1.75" fill="#000" opacity="0.3" filter="url(#b2)"/>
<rect x="15.60" y="689.80" width="8.80" height="-1.10" rx="-0.55" fill="#000" filter="url(#b1)"/>
</g>
<g transform="rotate(0 45.0 690.2)" opacity="0.08">
<rect x="38.00" y="689.00" width="14.00" height="2.50" rx="1.75" fill="#000" opacity="0.3" filter="url(#b2)"/>
<rect x="39.60" y="690.80" width="10.80" height="-1.10" rx="-0.55" fill="#000" filter="url(#b1)"/>
</g>
<g transform="rotate(0 90.0 687.5)" opacity="0.06">
<rect x="84.00" y="686.50" width="12.00" height="2.00" rx="1.50" fill="#000" opacity="0.3" filter="url(#b2)"/>
<rect x="85.60" y="688.30" width="8.80" height="-1.60" rx="-0.80" fill="#000" filter="url(#b1)"/>
</g>
<g transform="rotate(0 174.0 677.8)" opacity="0.2">
<rect x="166.00" y="676.00" width="16.00" height="3.50" rx="2.25" fill="#000" opacity="0.3" filter="url(#b2)"/>
<rect x="167.60" y="677.80" width="12.80" height="-0.10" rx="-0.05" fill="#000" filter="url(#b1)"/>
</g>
</g>
<rect x="9.00" y="609.25" width="190.30" height="54.50" fill="none" stroke="#1a1a1a" stroke-width="1.3" />
<rect x="9.00" y="670.40" width="190.30" height="49.00" fill="none" stroke="#1a1a1a" stroke-width="1.3" />
<text x="203.60" y="648.34" font-size="11" font-weight="bold" text-anchor="start" fill="#000" textLength="29.6" lengthAdjust="spacingAndGlyphs" stroke="#000" stroke-width="0.2" stroke-linejoin="round">IGFBP2</text>
<text x="203.60" y="701.54" font-size="11" font-weight="bold" text-anchor="start" fill="#000" textLength="29.6" lengthAdjust="spacingAndGlyphs" stroke="#000" stroke-width="0.2" stroke-linejoin="round">GAPDH</text>
<line x1="287.00" y1="565.00" x2="287.00" y2="692.45" stroke="#000" stroke-width="1.5" />
<line x1="286.30" y1="691.75" x2="367.50" y2="691.75" stroke="#000" stroke-width="1.5" />
<line x1="282.00" y1="691.75" x2="287.00" y2="691.75" stroke="#000" stroke-width="1.4" />
<text x="279.00" y="695.17" font-size="7.6" font-weight="bold" text-anchor="end" fill="#000">0</text>
<line x1="282.00" y1="660.25" x2="287.00" y2="660.25" stroke="#000" stroke-width="1.4" />
<text x="279.00" y="663.67" font-size="7.6" font-weight="bold" text-anchor="end" fill="#000">1</text>
<line x1="282.00" y1="628.75" x2="287.00" y2="628.75" stroke="#000" stroke-width="1.4" />
<text x="279.00" y="632.17" font-size="7.6" font-weight="bold" text-anchor="end" fill="#000">2</text>
<line x1="282.00" y1="597.25" x2="287.00" y2="597.25" stroke="#000" stroke-width="1.4" />
<text x="279.00" y="600.67" font-size="7.6" font-weight="bold" text-anchor="end" fill="#000">3</text>
<line x1="282.00" y1="565.75" x2="287.00" y2="565.75" stroke="#000" stroke-width="1.4" />
<text x="279.00" y="569.17" font-size="7.6" font-weight="bold" text-anchor="end" fill="#000">4</text>
<line x1="299.25" y1="691.75" x2="299.25" y2="697.00" stroke="#000" stroke-width="1.4" />
<line x1="327.50" y1="691.75" x2="327.50" y2="697.00" stroke="#000" stroke-width="1.4" />
<line x1="353.50" y1="691.75" x2="353.50" y2="697.00" stroke="#000" stroke-width="1.4" />
<text transform="translate(262.90 625.60) rotate(-90)" x="0" y="3.13" font-size="8.73" font-weight="bold" text-anchor="middle" fill="#000" stroke="#000" stroke-width="0.25" stroke-linejoin="round">Relative mRNA expression level</text>
<line x1="299.62" y1="651.25" x2="299.62" y2="655.52" stroke="#000" stroke-width="1.3" />
<line x1="295.00" y1="651.25" x2="303.75" y2="651.25" stroke="#000" stroke-width="1.3" />
<rect x="290.60" y="656.12" width="18.05" height="35.63" fill="#000" stroke="#000" stroke-width="1.4" />
<line x1="326.50" y1="604.25" x2="326.50" y2="607.64" stroke="#000" stroke-width="1.3" />
<line x1="322.50" y1="604.25" x2="331.25" y2="604.25" stroke="#000" stroke-width="1.3" />
<rect x="317.35" y="608.25" width="18.30" height="83.51" fill="#a3a3a6" stroke="#000" stroke-width="1.4" />
<line x1="354.38" y1="589.25" x2="354.38" y2="592.52" stroke="#000" stroke-width="1.3" />
<line x1="349.50" y1="589.25" x2="358.75" y2="589.25" stroke="#000" stroke-width="1.3" />
<rect x="345.60" y="593.12" width="17.55" height="98.63" fill="#6f6f72" stroke="#000" stroke-width="1.4" />
<path d="M299.25 580 V574.5 H352.5 V580" fill="none" stroke="#000" stroke-width="1.3"/>
<path d="M299.25 600.5 V594.5 H328 V600.5" fill="none" stroke="#000" stroke-width="1.3"/>
<text x="307" y="570.51" font-size="7.0" fill="#222" textLength="35" lengthAdjust="spacingAndGlyphs"><tspan font-style="italic">P</tspan> = &lt; 0.0001</text>
<text x="296.25" y="589.71" font-size="7.0" fill="#222" textLength="30" lengthAdjust="spacingAndGlyphs"><tspan font-style="italic">P</tspan> = 0.0002</text>
<text transform="translate(301.4 699) rotate(-45)" x="0" y="0" font-size="6.3" font-weight="bold" stroke="#000" stroke-width="0.15" text-anchor="end" textLength="27" lengthAdjust="spacingAndGlyphs">Control</text>
<text transform="translate(329.9 702.2) rotate(-45)" x="0" y="0" font-size="6.3" font-weight="bold" stroke="#000" stroke-width="0.15" text-anchor="end" textLength="57" lengthAdjust="spacingAndGlyphs">0.5 µmol/L 5-AZA</text>
<text transform="translate(357.2 700) rotate(-45)" x="0" y="0" font-size="6.3" font-weight="bold" stroke="#000" stroke-width="0.15" text-anchor="end" textLength="53" lengthAdjust="spacingAndGlyphs">1 µmol/L 5-AZA</text>
<rect x="383.90" y="525.60" width="133.10" height="103.90" fill="#fdfdfc" stroke="none" stroke-width="1" />
<circle cx="416.4" cy="582.0" r="1.0" fill="#8a8fb8" opacity="0.8"/><circle cx="461.0" cy="588.2" r="1.3" fill="#555b8a" opacity="0.7"/><circle cx="415.9" cy="627.6" r="1.1" fill="#8a8fb8" opacity="0.8"/><circle cx="468.5" cy="542.3" r="1.1" fill="#8a8fb8" opacity="0.8"/><circle cx="387.4" cy="605.5" r="0.9" fill="#8a8fb8" opacity="0.7"/><circle cx="486.9" cy="610.2" r="1.0" fill="#8a8fb8" opacity="0.9"/><circle cx="499.7" cy="599.2" r="1.3" fill="#555b8a" opacity="0.9"/><circle cx="460.5" cy="624.4" r="0.9" fill="#7a80ac" opacity="0.7"/><circle cx="403.1" cy="549.0" r="1.3" fill="#555b8a" opacity="0.9"/><circle cx="496.7" cy="569.6" r="1.2" fill="#8a8fb8" opacity="0.8"/><circle cx="461.5" cy="586.1" r="1.3" fill="#6a6f98" opacity="1.0"/><circle cx="389.1" cy="555.3" r="1.1" fill="#6a6f98" opacity="0.7"/><circle cx="497.4" cy="624.4" r="1.3" fill="#8a8fb8" opacity="0.7"/><circle cx="470.7" cy="591.0" r="1.3" fill="#7a80ac" opacity="0.7"/><circle cx="393.7" cy="613.3" r="1.3" fill="#5f6596" opacity="0.8"/><circle cx="394.1" cy="617.6" r="0.9" fill="#555b8a" opacity="0.9"/><circle cx="498.9" cy="531.6" r="1.1" fill="#5f6596" opacity="0.8"/><circle cx="461.7" cy="582.7" r="1.3" fill="#7a80ac" opacity="0.8"/><circle cx="515.3" cy="558.3" r="0.9" fill="#8a8fb8" opacity="0.8"/><circle cx="508.9" cy="625.1" r="1.0" fill="#7a80ac" opacity="0.7"/><circle cx="390.9" cy="614.7" r="1.0" fill="#6c72a2" opacity="1.0"/><circle cx="434.6" cy="573.6" r="1.1" fill="#6a6f98" opacity="1.0"/><circle cx="474.0" cy="537.4" r="1.3" fill="#8a8fb8" opacity="0.7"/><circle cx="467.9" cy="599.3" r="1.3" fill="#555b8a" opacity="1.0"/><circle cx="453.2" cy="582.4" r="0.9" fill="#555b8a" opacity="1.0"/><circle cx="426.4" cy="565.1" r="1.1" fill="#6c72a2" opacity="0.7"/><circle cx="467.0" cy="574.1" r="1.2" fill="#7a80ac" opacity="0.9"/><circle cx="421.7" cy="576.5" r="1.1" fill="#6a6f98" opacity="0.7"/><circle cx="433.4" cy="590.5" r="1.0" fill="#8a8fb8" opacity="0.8"/><circle cx="432.8" cy="558.6" r="1.0" fill="#8a8fb8" opacity="0.7"/><circle cx="487.8" cy="537.7" r="1.2" fill="#8a8fb8" opacity="0.9"/><circle cx="402.5" cy="577.6" r="1.1" fill="#7a80ac" opacity="0.7"/><circle cx="409.8" cy="571.0" r="1.2" fill="#5f6596" opacity="0.9"/><circle cx="508.9" cy="595.2" r="1.0" fill="#6c72a2" opacity="0.7"/><circle cx="481.9" cy="549.1" r="1.1" fill="#7a80ac" opacity="0.7"/><circle cx="401.1" cy="580.5" r="0.9" fill="#8a8fb8" opacity="0.7"/><circle cx="421.6" cy="608.5" r="1.1" fill="#8a8fb8" opacity="0.8"/><circle cx="402.3" cy="556.6" r="1.2" fill="#7a80ac" opacity="0.8"/><circle cx="467.9" cy="556.4" r="1.1" fill="#5f6596" opacity="1.0"/><circle cx="405.7" cy="527.6" r="1.3" fill="#8a8fb8" opacity="1.0"/><circle cx="441.9" cy="623.0" r="1.3" fill="#6c72a2" opacity="0.7"/><circle cx="444.8" cy="603.1" r="1.2" fill="#7a80ac" opacity="0.8"/><circle cx="501.2" cy="614.0" r="1.2" fill="#7a80ac" opacity="0.7"/><circle cx="417.2" cy="530.6" r="1.2" fill="#8a8fb8" opacity="1.0"/><circle cx="502.0" cy="617.9" r="1.1" fill="#5f6596" opacity="0.8"/><circle cx="401.1" cy="577.9" r="1.0" fill="#5f6596" opacity="0.8"/><circle cx="439.2" cy="621.8" r="1.1" fill="#7a80ac" opacity="0.7"/><circle cx="511.9" cy="581.7" r="1.2" fill="#5f6596" opacity="0.8"/><circle cx="411.1" cy="581.0" r="1.2" fill="#6c72a2" opacity="0.7"/><circle cx="421.0" cy="616.9" r="0.9" fill="#5f6596" opacity="0.8"/><circle cx="459.7" cy="567.5" r="1.2" fill="#6c72a2" opacity="0.7"/><circle cx="454.0" cy="569.8" r="1.1" fill="#5f6596" opacity="0.9"/><circle cx="486.3" cy="531.8" r="0.9" fill="#555b8a" opacity="1.0"/><circle cx="496.6" cy="535.8" r="1.1" fill="#7a80ac" opacity="0.7"/><circle cx="394.7" cy="566.0" r="1.0" fill="#7a80ac" opacity="0.8"/><circle cx="410.3" cy="560.3" r="0.9" fill="#8a8fb8" opacity="0.7"/><circle cx="479.5" cy="607.3" r="1.1" fill="#5f6596" opacity="0.8"/><circle cx="464.0" cy="606.1" r="1.0" fill="#5f6596" opacity="0.9"/><circle cx="441.6" cy="564.7" r="1.1" fill="#6a6f98" opacity="0.8"/><circle cx="509.0" cy="569.3" r="0.9" fill="#6c72a2" opacity="0.8"/><circle cx="475.8" cy="534.3" r="1.0" fill="#555b8a" opacity="0.7"/><circle cx="389.1" cy="559.9" r="1.3" fill="#8a8fb8" opacity="0.9"/><circle cx="419.5" cy="573.9" r="0.9" fill="#6a6f98" opacity="0.9"/><circle cx="500.8" cy="607.1" r="1.2" fill="#6a6f98" opacity="0.8"/><circle cx="454.6" cy="609.0" r="1.2" fill="#555b8a" opacity="0.7"/><circle cx="486.1" cy="531.6" r="0.9" fill="#5f6596" opacity="0.9"/><circle cx="434.3" cy="609.8" r="1.0" fill="#5f6596" opacity="0.7"/><circle cx="400.4" cy="575.7" r="1.2" fill="#7a80ac" opacity="0.9"/><circle cx="489.3" cy="530.8" r="1.2" fill="#8a8fb8" opacity="0.8"/><circle cx="416.4" cy="583.0" r="0.9" fill="#8a8fb8" opacity="0.7"/><circle cx="427.6" cy="584.0" r="1.2" fill="#6c72a2" opacity="1.0"/><circle cx="469.4" cy="572.9" r="1.2" fill="#555b8a" opacity="0.7"/><circle cx="463.4" cy="621.8" r="1.1" fill="#5f6596" opacity="0.8"/><circle cx="416.0" cy="620.9" r="1.2" fill="#6c72a2" opacity="0.8"/><circle cx="459.3" cy="585.6" r="1.3" fill="#6a6f98" opacity="0.8"/><circle cx="469.0" cy="617.6" r="0.9" fill="#5f6596" opacity="0.8"/><circle cx="448.3" cy="597.6" r="1.3" fill="#8a8fb8" opacity="0.9"/><circle cx="409.6" cy="554.1" r="0.9" fill="#8a8fb8" opacity="0.8"/><circle cx="507.0" cy="613.0" r="1.1" fill="#7a80ac" opacity="0.9"/><circle cx="496.7" cy="587.2" r="1.1" fill="#7a80ac" opacity="1.0"/><circle cx="425.4" cy="554.2" r="1.2" fill="#6c72a2" opacity="0.7"/><circle cx="432.3" cy="559.6" r="1.2" fill="#6c72a2" opacity="0.8"/><circle cx="476.2" cy="597.9" r="0.9" fill="#8a8fb8" opacity="0.9"/><circle cx="492.3" cy="583.3" r="1.1" fill="#6a6f98" opacity="0.7"/><circle cx="508.7" cy="606.1" r="1.2" fill="#5f6596" opacity="0.8"/><circle cx="415.3" cy="550.8" r="1.2" fill="#6a6f98" opacity="0.7"/><circle cx="413.7" cy="552.7" r="1.3" fill="#7a80ac" opacity="0.7"/><circle cx="466.3" cy="595.2" r="0.9" fill="#7a80ac" opacity="0.7"/><circle cx="391.3" cy="545.6" r="0.9" fill="#5f6596" opacity="0.7"/><circle cx="419.8" cy="619.3" r="0.9" fill="#555b8a" opacity="0.9"/><circle cx="473.3" cy="527.8" r="1.0" fill="#555b8a" opacity="0.8"/><circle cx="395.5" cy="592.1" r="1.2" fill="#555b8a" opacity="0.8"/><circle cx="456.2" cy="539.1" r="1.0" fill="#6a6f98" opacity="0.8"/><circle cx="442.4" cy="580.3" r="1.0" fill="#8a8fb8" opacity="1.0"/><circle cx="434.1" cy="605.0" r="1.2" fill="#7a80ac" opacity="0.9"/><circle cx="472.6" cy="622.4" r="1.2" fill="#5f6596" opacity="0.9"/><circle cx="510.5" cy="595.0" r="1.1" fill="#5f6596" opacity="0.9"/><circle cx="451.6" cy="533.1" r="1.0" fill="#6a6f98" opacity="0.8"/><circle cx="409.1" cy="592.2" r="1.1" fill="#6c72a2" opacity="0.8"/><circle cx="505.1" cy="572.9" r="0.9" fill="#8a8fb8" opacity="0.7"/><circle cx="428.5" cy="599.8" r="1.1" fill="#8a8fb8" opacity="0.8"/><circle cx="409.7" cy="575.8" r="1.2" fill="#6a6f98" opacity="0.7"/><circle cx="478.5" cy="603.2" r="1.1" fill="#6a6f98" opacity="0.8"/><circle cx="398.4" cy="554.4" r="0.9" fill="#6c72a2" opacity="0.7"/><circle cx="451.1" cy="552.0" r="1.2" fill="#7a80ac" opacity="1.0"/><circle cx="508.4" cy="572.3" r="1.2" fill="#5f6596" opacity="0.8"/><circle cx="495.6" cy="538.4" r="1.0" fill="#5f6596" opacity="0.9"/><circle cx="458.8" cy="618.9" r="0.9" fill="#6a6f98" opacity="0.7"/><circle cx="439.6" cy="602.1" r="1.2" fill="#6a6f98" opacity="0.7"/><circle cx="464.5" cy="613.8" r="1.2" fill="#8a8fb8" opacity="0.8"/><circle cx="459.3" cy="547.5" r="1.0" fill="#7a80ac" opacity="0.7"/><circle cx="489.9" cy="617.0" r="1.3" fill="#555b8a" opacity="0.8"/><circle cx="503.3" cy="558.3" r="1.1" fill="#8a8fb8" opacity="0.9"/><circle cx="424.4" cy="613.9" r="1.1" fill="#8a8fb8" opacity="0.7"/><circle cx="467.9" cy="537.9" r="1.2" fill="#6c72a2" opacity="0.8"/><circle cx="453.5" cy="573.6" r="0.9" fill="#8a8fb8" opacity="0.7"/><circle cx="491.1" cy="620.5" r="1.3" fill="#5f6596" opacity="0.8"/><circle cx="510.2" cy="617.1" r="0.9" fill="#5f6596" opacity="0.9"/><circle cx="392.0" cy="563.4" r="1.0" fill="#5f6596" opacity="0.8"/><circle cx="387.9" cy="561.4" r="1.0" fill="#7a80ac" opacity="0.9"/><circle cx="402.9" cy="613.7" r="1.1" fill="#5f6596" opacity="0.9"/><circle cx="481.6" cy="561.8" r="1.2" fill="#5f6596" opacity="1.0"/><circle cx="442.3" cy="603.5" r="1.1" fill="#5f6596" opacity="0.9"/><circle cx="438.5" cy="612.4" r="1.2" fill="#555b8a" opacity="0.8"/><circle cx="476.4" cy="581.3" r="1.0" fill="#6a6f98" opacity="0.8"/><circle cx="388.4" cy="573.3" r="1.2" fill="#555b8a" opacity="0.7"/><circle cx="502.4" cy="599.7" r="1.0" fill="#7a80ac" opacity="0.8"/><circle cx="432.4" cy="567.6" r="1.3" fill="#6c72a2" opacity="0.7"/><circle cx="433.5" cy="613.4" r="1.1" fill="#6c72a2" opacity="0.7"/><circle cx="407.6" cy="567.8" r="0.9" fill="#5f6596" opacity="0.7"/><circle cx="464.6" cy="571.8" r="0.9" fill="#5f6596" opacity="0.8"/><circle cx="426.8" cy="530.4" r="1.2" fill="#6c72a2" opacity="0.8"/><circle cx="437.0" cy="529.8" r="1.3" fill="#6c72a2" opacity="0.7"/><circle cx="436.0" cy="546.3" r="1.0" fill="#5f6596" opacity="0.8"/><circle cx="401.5" cy="532.3" r="1.2" fill="#7a80ac" opacity="1.0"/><circle cx="508.0" cy="606.7" r="1.3" fill="#555b8a" opacity="0.7"/><circle cx="420.0" cy="609.3" r="1.1" fill="#7a80ac" opacity="0.8"/><circle cx="392.8" cy="571.0" r="0.9" fill="#8a8fb8" opacity="0.7"/><circle cx="389.3" cy="536.2" r="0.9" fill="#5f6596" opacity="0.8"/><circle cx="410.0" cy="578.5" r="1.0" fill="#555b8a" opacity="0.8"/><circle cx="447.7" cy="562.6" r="1.1" fill="#555b8a" opacity="0.8"/><circle cx="464.4" cy="622.6" r="0.9" fill="#7a80ac" opacity="0.7"/><circle cx="439.1" cy="578.3" r="1.1" fill="#8a8fb8" opacity="0.9"/><circle cx="506.2" cy="544.7" r="1.2" fill="#6a6f98" opacity="0.8"/><circle cx="507.4" cy="563.3" r="0.9" fill="#555b8a" opacity="0.8"/><circle cx="443.2" cy="598.0" r="1.0" fill="#6c72a2" opacity="0.8"/><circle cx="483.3" cy="619.4" r="1.2" fill="#555b8a" opacity="0.7"/><circle cx="407.7" cy="602.9" r="1.2" fill="#5f6596" opacity="0.9"/><circle cx="473.5" cy="536.9" r="1.0" fill="#6a6f98" opacity="0.7"/><circle cx="465.0" cy="532.0" r="1.1" fill="#6a6f98" opacity="0.9"/><circle cx="515.1" cy="527.3" r="0.9" fill="#5f6596" opacity="0.8"/><circle cx="425.9" cy="572.5" r="1.2" fill="#6c72a2" opacity="0.7"/><circle cx="391.8" cy="542.5" r="1.1" fill="#8a8fb8" opacity="1.0"/><circle cx="400.0" cy="556.1" r="0.9" fill="#8a8fb8" opacity="0.8"/><circle cx="451.1" cy="618.6" r="1.0" fill="#8a8fb8" opacity="0.9"/><circle cx="446.2" cy="589.9" r="0.9" fill="#5f6596" opacity="0.9"/><circle cx="497.1" cy="537.3" r="1.3" fill="#7a80ac" opacity="0.7"/><circle cx="445.9" cy="549.6" r="1.2" fill="#8a8fb8" opacity="0.7"/><circle cx="448.6" cy="594.6" r="1.2" fill="#555b8a" opacity="0.9"/><circle cx="443.4" cy="538.3" r="1.2" fill="#8a8fb8" opacity="0.8"/><circle cx="434.8" cy="538.9" r="0.9" fill="#7a80ac" opacity="0.9"/><circle cx="395.4" cy="562.0" r="1.1" fill="#5f6596" opacity="1.0"/><circle cx="474.7" cy="563.9" r="1.2" fill="#5f6596" opacity="0.9"/><circle cx="413.3" cy="562.5" r="1.3" fill="#7a80ac" opacity="0.7"/><circle cx="442.5" cy="552.4" r="1.0" fill="#6a6f98" opacity="1.0"/><circle cx="479.9" cy="615.4" r="1.3" fill="#8a8fb8" opacity="0.8"/><circle cx="477.9" cy="613.1" r="1.0" fill="#6c72a2" opacity="1.0"/><circle cx="508.9" cy="576.0" r="1.2" fill="#555b8a" opacity="0.8"/><circle cx="461.8" cy="530.6" r="1.3" fill="#5f6596" opacity="0.7"/><circle cx="397.9" cy="600.0" r="1.0" fill="#8a8fb8" opacity="0.7"/><circle cx="446.8" cy="546.8" r="0.9" fill="#555b8a" opacity="0.8"/><circle cx="430.3" cy="602.0" r="1.2" fill="#7a80ac" opacity="0.7"/><circle cx="443.2" cy="618.8" r="1.0" fill="#6c72a2" opacity="0.7"/><circle cx="484.6" cy="597.8" r="1.3" fill="#6a6f98" opacity="0.8"/><circle cx="406.4" cy="558.6" r="1.1" fill="#8a8fb8" opacity="1.0"/><circle cx="414.4" cy="623.6" r="1.0" fill="#5f6596" opacity="0.8"/><circle cx="500.8" cy="608.5" r="1.0" fill="#6c72a2" opacity="1.0"/><circle cx="453.0" cy="528.5" r="1.1" fill="#6c72a2" opacity="0.8"/><circle cx="407.0" cy="532.2" r="0.9" fill="#555b8a" opacity="0.8"/><circle cx="511.0" cy="563.7" r="1.1" fill="#555b8a" opacity="0.7"/><circle cx="387.1" cy="570.7" r="1.0" fill="#5f6596" opacity="0.9"/><circle cx="490.9" cy="572.5" r="1.0" fill="#6a6f98" opacity="0.9"/><circle cx="439.8" cy="553.4" r="0.9" fill="#555b8a" opacity="0.7"/><circle cx="515.0" cy="543.8" r="1.2" fill="#8a8fb8" opacity="0.7"/><circle cx="403.1" cy="603.6" r="1.2" fill="#8a8fb8" opacity="0.9"/><circle cx="429.3" cy="540.6" r="0.9" fill="#5f6596" opacity="0.7"/><circle cx="469.1" cy="617.6" r="1.3" fill="#555b8a" opacity="0.8"/><circle cx="483.6" cy="613.9" r="1.3" fill="#8a8fb8" opacity="0.8"/><circle cx="452.8" cy="544.3" r="0.9" fill="#6a6f98" opacity="0.7"/><circle cx="493.7" cy="537.3" r="1.2" fill="#555b8a" opacity="0.8"/><circle cx="489.9" cy="572.8" r="1.3" fill="#6c72a2" opacity="0.9"/><circle cx="403.6" cy="530.9" r="1.1" fill="#6c72a2" opacity="0.9"/><circle cx="506.6" cy="588.9" r="0.9" fill="#8a8fb8" opacity="0.9"/><circle cx="400.5" cy="539.7" r="1.2" fill="#7a80ac" opacity="0.7"/><circle cx="472.4" cy="564.6" r="1.1" fill="#6a6f98" opacity="0.8"/><circle cx="425.9" cy="562.0" r="1.1" fill="#555b8a" opacity="0.8"/><circle cx="420.6" cy="622.9" r="1.3" fill="#7a80ac" opacity="0.9"/><circle cx="457.6" cy="530.7" r="1.0" fill="#555b8a" opacity="1.0"/><circle cx="395.7" cy="550.3" r="0.9" fill="#5f6596" opacity="0.9"/><circle cx="400.4" cy="590.9" r="0.9" fill="#5f6596" opacity="1.0"/><circle cx="512.2" cy="596.9" r="1.0" fill="#555b8a" opacity="0.8"/><circle cx="423.1" cy="583.6" r="0.9" fill="#555b8a" opacity="1.0"/><circle cx="404.2" cy="618.5" r="0.9" fill="#555b8a" opacity="0.9"/><circle cx="469.6" cy="541.4" r="0.9" fill="#6a6f98" opacity="0.7"/><circle cx="410.1" cy="610.1" r="1.2" fill="#5f6596" opacity="0.8"/><circle cx="405.2" cy="548.7" r="1.2" fill="#555b8a" opacity="0.8"/><circle cx="513.9" cy="555.4" r="0.9" fill="#6c72a2" opacity="0.8"/><circle cx="435.3" cy="621.7" r="1.1" fill="#6c72a2" opacity="0.7"/><circle cx="433.7" cy="541.5" r="1.1" fill="#5f6596" opacity="0.8"/><circle cx="509.1" cy="576.0" r="1.2" fill="#7a80ac" opacity="0.8"/><circle cx="481.6" cy="580.7" r="1.2" fill="#555b8a" opacity="0.8"/><circle cx="445.8" cy="581.4" r="1.0" fill="#8a8fb8" opacity="0.8"/><circle cx="435.3" cy="603.4" r="1.0" fill="#6a6f98" opacity="0.9"/><circle cx="408.7" cy="624.3" r="1.2" fill="#6c72a2" opacity="0.8"/><circle cx="494.7" cy="540.3" r="1.1" fill="#5f6596" opacity="0.8"/><circle cx="498.9" cy="538.7" r="0.9" fill="#5f6596" opacity="0.9"/><circle cx="514.4" cy="596.3" r="1.1" fill="#7a80ac" opacity="0.7"/><circle cx="455.7" cy="571.6" r="0.9" fill="#8a8fb8" opacity="0.7"/><circle cx="444.8" cy="584.0" r="1.1" fill="#8a8fb8" opacity="0.8"/><circle cx="463.6" cy="626.0" r="1.3" fill="#6a6f98" opacity="0.9"/><circle cx="422.7" cy="625.7" r="1.0" fill="#5f6596" opacity="0.9"/><circle cx="414.2" cy="627.5" r="1.2" fill="#6c72a2" opacity="0.7"/><circle cx="511.2" cy="572.8" r="1.1" fill="#8a8fb8" opacity="0.9"/><circle cx="408.3" cy="589.7" r="1.1" fill="#8a8fb8" opacity="0.7"/><circle cx="439.7" cy="582.6" r="1.1" fill="#7a80ac" opacity="0.7"/><circle cx="496.6" cy="565.8" r="1.3" fill="#7a80ac" opacity="0.8"/><circle cx="392.6" cy="577.0" r="0.9" fill="#6a6f98" opacity="1.0"/><circle cx="477.9" cy="563.6" r="1.0" fill="#8a8fb8" opacity="0.8"/><circle cx="442.5" cy="618.7" r="1.2" fill="#5f6596" opacity="0.9"/><circle cx="404.4" cy="549.3" r="1.0" fill="#8a8fb8" opacity="0.7"/><circle cx="500.6" cy="548.2" r="1.0" fill="#6c72a2" opacity="0.7"/><circle cx="455.5" cy="620.1" r="1.1" fill="#6a6f98" opacity="0.8"/><circle cx="479.2" cy="607.9" r="0.9" fill="#7a80ac" opacity="0.9"/><circle cx="401.1" cy="615.9" r="1.0" fill="#555b8a" opacity="0.7"/><circle cx="425.3" cy="582.9" r="0.9" fill="#6c72a2" opacity="0.9"/><circle cx="396.4" cy="529.9" r="1.0" fill="#5f6596" opacity="0.8"/><circle cx="513.6" cy="574.8" r="0.9" fill="#6c72a2" opacity="0.8"/><circle cx="441.6" cy="590.5" r="1.1" fill="#555b8a" opacity="0.8"/><circle cx="468.7" cy="602.3" r="1.2" fill="#5f6596" opacity="0.8"/><circle cx="483.4" cy="627.2" r="0.9" fill="#5f6596" opacity="0.8"/><circle cx="504.1" cy="590.8" r="0.9" fill="#6a6f98" opacity="0.8"/><circle cx="439.9" cy="585.9" r="1.2" fill="#6c72a2" opacity="0.9"/><circle cx="510.0" cy="532.3" r="1.1" fill="#8a8fb8" opacity="0.8"/><circle cx="460.1" cy="535.7" r="1.0" fill="#555b8a" opacity="0.9"/><circle cx="504.9" cy="567.1" r="1.0" fill="#555b8a" opacity="0.9"/><circle cx="454.1" cy="547.5" r="1.0" fill="#8a8fb8" opacity="0.7"/><circle cx="454.6" cy="589.7" r="1.0" fill="#8a8fb8" opacity="1.0"/><circle cx="481.4" cy="547.6" r="0.9" fill="#555b8a" opacity="1.0"/><circle cx="467.3" cy="576.9" r="1.2" fill="#6c72a2" opacity="0.9"/><circle cx="507.4" cy="539.2" r="1.3" fill="#555b8a" opacity="0.9"/><circle cx="426.4" cy="603.3" r="1.0" fill="#6c72a2" opacity="0.8"/><circle cx="496.2" cy="611.2" r="0.9" fill="#555b8a" opacity="0.8"/><circle cx="414.5" cy="555.9" r="1.0" fill="#5f6596" opacity="0.9"/><circle cx="429.7" cy="538.3" r="0.9" fill="#555b8a" opacity="0.7"/><circle cx="407.3" cy="575.8" r="0.9" fill="#6a6f98" opacity="0.8"/><circle cx="415.6" cy="596.1" r="1.1" fill="#8a8fb8" opacity="0.8"/><circle cx="463.2" cy="590.5" r="1.0" fill="#5f6596" opacity="0.7"/><circle cx="455.2" cy="573.2" r="0.9" fill="#6c72a2" opacity="0.7"/><circle cx="502.3" cy="596.3" r="0.9" fill="#8a8fb8" opacity="1.0"/><circle cx="430.4" cy="627.5" r="1.1" fill="#6c72a2" opacity="0.7"/><circle cx="439.9" cy="614.3" r="0.9" fill="#7a80ac" opacity="0.7"/><circle cx="454.1" cy="612.9" r="1.1" fill="#8a8fb8" opacity="0.7"/><circle cx="505.3" cy="564.9" r="0.9" fill="#7a80ac" opacity="0.9"/><circle cx="411.8" cy="536.5" r="1.2" fill="#8a8fb8" opacity="0.9"/><circle cx="461.4" cy="595.5" r="1.0" fill="#7a80ac" opacity="1.0"/><circle cx="494.2" cy="602.6" r="1.0" fill="#5f6596" opacity="0.8"/><circle cx="458.1" cy="604.2" r="1.0" fill="#7a80ac" opacity="0.8"/><circle cx="417.9" cy="597.5" r="1.1" fill="#555b8a" opacity="0.9"/><circle cx="427.6" cy="543.5" r="1.3" fill="#555b8a" opacity="0.7"/><circle cx="436.7" cy="546.9" r="1.0" fill="#8a8fb8" opacity="0.8"/><circle cx="479.6" cy="588.3" r="1.2" fill="#6c72a2" opacity="0.8"/><circle cx="407.1" cy="537.3" r="1.1" fill="#555b8a" opacity="1.0"/><circle cx="452.5" cy="567.2" r="0.9" fill="#7a80ac" opacity="0.9"/><circle cx="415.4" cy="553.4" r="0.9" fill="#5f6596" opacity="0.8"/><circle cx="441.9" cy="553.6" r="1.3" fill="#6c72a2" opacity="0.7"/><circle cx="486.9" cy="622.7" r="1.2" fill="#6c72a2" opacity="1.0"/><circle cx="488.3" cy="601.1" r="1.3" fill="#5f6596" opacity="1.0"/><circle cx="403.0" cy="535.5" r="1.3" fill="#7a80ac" opacity="1.0"/><circle cx="427.9" cy="604.0" r="0.9" fill="#6a6f98" opacity="0.8"/><circle cx="514.9" cy="540.5" r="1.3" fill="#555b8a" opacity="0.9"/><circle cx="451.0" cy="596.4" r="1.0" fill="#555b8a" opacity="0.7"/><circle cx="456.2" cy="586.2" r="1.0" fill="#5f6596" opacity="0.7"/><circle cx="441.5" cy="527.2" r="1.2" fill="#6c72a2" opacity="0.8"/><circle cx="509.4" cy="612.6" r="1.2" fill="#7a80ac" opacity="0.7"/><circle cx="467.1" cy="584.0" r="1.3" fill="#7a80ac" opacity="0.7"/><circle cx="406.0" cy="626.0" r="1.2" fill="#555b8a" opacity="0.8"/><circle cx="423.0" cy="538.9" r="1.0" fill="#8a8fb8" opacity="0.9"/><circle cx="419.1" cy="535.9" r="0.9" fill="#6a6f98" opacity="0.7"/><circle cx="386.3" cy="535.5" r="1.2" fill="#555b8a" opacity="0.9"/><circle cx="457.3" cy="594.0" r="1.0" fill="#6c72a2" opacity="0.9"/><circle cx="385.7" cy="555.5" r="1.2" fill="#6c72a2" opacity="0.7"/><circle cx="429.2" cy="600.4" r="1.2" fill="#7a80ac" opacity="0.7"/><circle cx="489.8" cy="566.3" r="1.2" fill="#555b8a" opacity="1.0"/><circle cx="479.2" cy="590.4" r="1.0" fill="#6c72a2" opacity="0.9"/><circle cx="430.3" cy="550.3" r="1.0" fill="#5f6596" opacity="0.8"/><circle cx="513.1" cy="538.7" r="1.1" fill="#6c72a2" opacity="0.8"/><circle cx="388.6" cy="529.8" r="1.0" fill="#6c72a2" opacity="0.8"/><circle cx="451.8" cy="591.7" r="1.3" fill="#555b8a" opacity="0.9"/><circle cx="481.1" cy="579.7" r="1.0" fill="#7a80ac" opacity="0.9"/><circle cx="408.5" cy="572.7" r="1.1" fill="#7a80ac" opacity="1.0"/><circle cx="461.1" cy="590.0" r="1.0" fill="#6c72a2" opacity="0.8"/><circle cx="453.3" cy="549.9" r="1.1" fill="#7a80ac" opacity="0.7"/><circle cx="450.4" cy="575.5" r="1.0" fill="#555b8a" opacity="0.7"/><circle cx="388.4" cy="589.8" r="0.9" fill="#8a8fb8" opacity="1.0"/><circle cx="503.2" cy="531.9" r="1.2" fill="#7a80ac" opacity="0.9"/><circle cx="449.3" cy="605.7" r="1.2" fill="#7a80ac" opacity="0.9"/><circle cx="396.9" cy="624.4" r="0.9" fill="#6a6f98" opacity="0.7"/><circle cx="396.3" cy="602.3" r="1.1" fill="#6a6f98" opacity="0.8"/><circle cx="467.4" cy="535.4" r="1.2" fill="#8a8fb8" opacity="0.9"/><circle cx="451.9" cy="577.1" r="1.0" fill="#555b8a" opacity="1.0"/><circle cx="440.3" cy="598.8" r="1.1" fill="#555b8a" opacity="0.8"/><circle cx="430.1" cy="621.7" r="1.0" fill="#555b8a" opacity="0.9"/><circle cx="419.0" cy="574.8" r="1.0" fill="#7a80ac" opacity="0.7"/><circle cx="419.5" cy="575.4" r="1.0" fill="#6c72a2" opacity="0.9"/><circle cx="463.5" cy="594.0" r="1.3" fill="#5f6596" opacity="0.9"/><circle cx="416.8" cy="545.4" r="0.9" fill="#6c72a2" opacity="1.0"/><circle cx="444.2" cy="570.6" r="1.0" fill="#8a8fb8" opacity="0.8"/><circle cx="441.5" cy="531.1" r="1.2" fill="#555b8a" opacity="0.8"/><circle cx="479.8" cy="554.6" r="0.9" fill="#6c72a2" opacity="1.0"/><circle cx="485.0" cy="530.2" r="1.0" fill="#5f6596" opacity="0.9"/><circle cx="437.6" cy="575.3" r="1.1" fill="#8a8fb8" opacity="0.8"/><circle cx="411.4" cy="567.0" r="1.1" fill="#6a6f98" opacity="0.7"/><circle cx="388.3" cy="584.3" r="1.2" fill="#6a6f98" opacity="0.7"/><circle cx="491.6" cy="567.1" r="1.1" fill="#5f6596" opacity="0.7"/><circle cx="462.8" cy="622.7" r="1.0" fill="#6c72a2" opacity="1.0"/><circle cx="442.0" cy="541.8" r="0.9" fill="#6a6f98" opacity="0.8"/><circle cx="426.5" cy="571.8" r="1.3" fill="#7a80ac" opacity="0.8"/><circle cx="462.2" cy="561.7" r="1.1" fill="#6c72a2" opacity="1.0"/><circle cx="422.1" cy="535.8" r="1.2" fill="#6c72a2" opacity="0.9"/><circle cx="498.8" cy="560.8" r="1.2" fill="#5f6596" opacity="0.8"/><circle cx="424.9" cy="548.9" r="1.1" fill="#8a8fb8" opacity="0.9"/><circle cx="385.6" cy="592.1" r="1.2" fill="#6c72a2" opacity="1.0"/><circle cx="483.4" cy="609.8" r="0.9" fill="#7a80ac" opacity="0.8"/><circle cx="423.2" cy="561.9" r="0.9" fill="#6c72a2" opacity="1.0"/><circle cx="458.0" cy="538.9" r="1.0" fill="#5f6596" opacity="0.8"/><circle cx="436.8" cy="585.5" r="1.2" fill="#8a8fb8" opacity="0.7"/><circle cx="505.4" cy="558.5" r="1.1" fill="#5f6596" opacity="0.8"/><circle cx="486.0" cy="599.3" r="1.2" fill="#8a8fb8" opacity="0.7"/><circle cx="482.6" cy="588.4" r="0.9" fill="#6c72a2" opacity="1.0"/><circle cx="430.1" cy="544.2" r="1.0" fill="#5f6596" opacity="0.9"/><circle cx="464.4" cy="534.0" r="1.3" fill="#8a8fb8" opacity="0.8"/><circle cx="448.7" cy="605.7" r="1.0" fill="#6c72a2" opacity="0.8"/><circle cx="401.1" cy="544.3" r="1.2" fill="#555b8a" opacity="0.7"/><circle cx="495.7" cy="547.1" r="1.1" fill="#555b8a" opacity="0.8"/><circle cx="433.0" cy="528.2" r="1.1" fill="#555b8a" opacity="0.8"/><circle cx="455.1" cy="528.1" r="0.9" fill="#7a80ac" opacity="0.7"/><circle cx="513.1" cy="538.7" r="1.2" fill="#6c72a2" opacity="0.9"/><circle cx="510.6" cy="558.8" r="1.0" fill="#5f6596" opacity="0.9"/><circle cx="495.4" cy="615.6" r="1.3" fill="#5f6596" opacity="1.0"/><circle cx="406.9" cy="591.8" r="1.1" fill="#7a80ac" opacity="0.9"/><circle cx="488.9" cy="627.9" r="1.2" fill="#6a6f98" opacity="0.8"/><circle cx="395.9" cy="617.0" r="0.9" fill="#5f6596" opacity="0.7"/><circle cx="399.0" cy="535.5" r="1.0" fill="#6c72a2" opacity="0.7"/><circle cx="442.7" cy="539.5" r="1.3" fill="#6a6f98" opacity="0.7"/><circle cx="477.1" cy="602.2" r="1.1" fill="#7a80ac" opacity="0.9"/><circle cx="387.3" cy="546.5" r="1.1" fill="#5f6596" opacity="0.7"/><circle cx="461.8" cy="540.0" r="1.2" fill="#555b8a" opacity="0.8"/><circle cx="438.8" cy="574.7" r="1.1" fill="#7a80ac" opacity="1.0"/><circle cx="422.0" cy="550.7" r="0.9" fill="#7a80ac" opacity="0.8"/><circle cx="436.1" cy="579.6" r="1.2" fill="#7a80ac" opacity="0.8"/><circle cx="430.3" cy="602.9" r="0.9" fill="#7a80ac" opacity="0.7"/><circle cx="506.1" cy="600.7" r="1.1" fill="#555b8a" opacity="1.0"/><circle cx="451.8" cy="609.9" r="1.3" fill="#6a6f98" opacity="0.8"/><circle cx="463.6" cy="563.9" r="1.3" fill="#6a6f98" opacity="0.9"/><circle cx="454.3" cy="610.4" r="1.0" fill="#555b8a" opacity="0.8"/><circle cx="482.2" cy="605.5" r="1.2" fill="#7a80ac" opacity="0.7"/><circle cx="475.3" cy="609.1" r="1.2" fill="#555b8a" opacity="0.9"/><circle cx="411.7" cy="553.6" r="0.9" fill="#8a8fb8" opacity="1.0"/><circle cx="419.5" cy="627.1" r="1.3" fill="#6a6f98" opacity="1.0"/><circle cx="444.6" cy="584.2" r="1.0" fill="#6a6f98" opacity="0.7"/><circle cx="452.6" cy="537.3" r="1.0" fill="#7a80ac" opacity="0.8"/><circle cx="391.2" cy="606.8" r="1.0" fill="#7a80ac" opacity="0.7"/><circle cx="445.2" cy="584.1" r="1.0" fill="#8a8fb8" opacity="0.8"/><circle cx="416.7" cy="547.5" r="0.9" fill="#8a8fb8" opacity="0.7"/><circle cx="492.3" cy="545.2" r="1.1" fill="#7a80ac" opacity="0.7"/><circle cx="496.2" cy="585.7" r="1.0" fill="#6a6f98" opacity="0.8"/><circle cx="455.4" cy="528.2" r="1.1" fill="#6a6f98" opacity="1.0"/><circle cx="403.9" cy="555.9" r="1.0" fill="#7a80ac" opacity="0.9"/><circle cx="404.8" cy="570.4" r="1.2" fill="#5f6596" opacity="0.8"/><circle cx="437.8" cy="529.4" r="1.1" fill="#8a8fb8" opacity="0.7"/><circle cx="504.9" cy="569.4" r="1.0" fill="#5f6596" opacity="0.7"/><circle cx="489.3" cy="536.7" r="1.2" fill="#555b8a" opacity="0.9"/><circle cx="440.5" cy="552.3" r="0.9" fill="#555b8a" opacity="0.7"/><circle cx="419.9" cy="564.3" r="1.0" fill="#6a6f98" opacity="0.8"/><circle cx="439.2" cy="529.2" r="1.0" fill="#8a8fb8" opacity="0.8"/><circle cx="451.5" cy="602.6" r="1.2" fill="#7a80ac" opacity="0.9"/><circle cx="422.9" cy="543.1" r="1.0" fill="#6a6f98" opacity="0.7"/><circle cx="469.8" cy="576.1" r="0.9" fill="#8a8fb8" opacity="1.0"/><circle cx="512.9" cy="603.7" r="1.1" fill="#555b8a" opacity="1.0"/><circle cx="406.9" cy="610.6" r="1.2" fill="#555b8a" opacity="0.9"/><circle cx="436.4" cy="547.9" r="1.1" fill="#6c72a2" opacity="1.0"/><circle cx="471.5" cy="563.6" r="1.2" fill="#7a80ac" opacity="0.8"/><circle cx="503.1" cy="593.9" r="1.0" fill="#8a8fb8" opacity="0.9"/><circle cx="405.4" cy="561.8" r="0.9" fill="#7a80ac" opacity="1.0"/><circle cx="484.1" cy="555.2" r="0.9" fill="#6a6f98" opacity="0.9"/><circle cx="437.2" cy="609.8" r="1.1" fill="#6c72a2" opacity="0.8"/><circle cx="434.0" cy="586.5" r="1.1" fill="#6a6f98" opacity="1.0"/><circle cx="400.8" cy="602.3" r="1.1" fill="#5f6596" opacity="0.9"/><circle cx="460.8" cy="613.2" r="0.9" fill="#8a8fb8" opacity="0.8"/><circle cx="507.5" cy="558.6" r="1.0" fill="#6a6f98" opacity="0.8"/><circle cx="418.9" cy="621.1" r="1.2" fill="#555b8a" opacity="0.9"/><circle cx="472.9" cy="553.4" r="1.0" fill="#6a6f98" opacity="1.0"/><circle cx="484.8" cy="603.8" r="0.9" fill="#7a80ac" opacity="0.7"/><circle cx="458.9" cy="576.3" r="0.9" fill="#555b8a" opacity="0.8"/><circle cx="400.5" cy="566.6" r="1.0" fill="#7a80ac" opacity="0.8"/><circle cx="502.1" cy="567.5" r="0.9" fill="#6c72a2" opacity="0.7"/><circle cx="418.3" cy="604.9" r="0.9" fill="#8a8fb8" opacity="0.7"/><circle cx="415.9" cy="581.6" r="1.0" fill="#6a6f98" opacity="0.9"/><circle cx="460.8" cy="590.4" r="1.0" fill="#555b8a" opacity="0.7"/><circle cx="395.2" cy="585.0" r="0.9" fill="#8a8fb8" opacity="0.7"/><circle cx="488.6" cy="547.3" r="0.9" fill="#5f6596" opacity="0.7"/><circle cx="512.6" cy="573.0" r="1.3" fill="#7a80ac" opacity="0.7"/><circle cx="487.6" cy="569.0" r="0.9" fill="#5f6596" opacity="0.7"/><circle cx="394.2" cy="599.9" r="1.2" fill="#6c72a2" opacity="0.7"/><circle cx="409.3" cy="596.6" r="0.9" fill="#555b8a" opacity="0.8"/><circle cx="405.4" cy="551.0" r="1.1" fill="#7a80ac" opacity="0.8"/><circle cx="472.9" cy="616.3" r="1.0" fill="#7a80ac" opacity="0.9"/><circle cx="431.5" cy="534.1" r="0.9" fill="#6a6f98" opacity="0.9"/><circle cx="443.8" cy="604.8" r="1.0" fill="#5f6596" opacity="0.9"/><circle cx="494.3" cy="583.1" r="1.2" fill="#6a6f98" opacity="0.7"/><circle cx="486.3" cy="621.6" r="1.0" fill="#555b8a" opacity="0.7"/><circle cx="445.4" cy="539.3" r="1.3" fill="#8a8fb8" opacity="0.9"/><circle cx="464.2" cy="543.3" r="1.1" fill="#8a8fb8" opacity="0.7"/><circle cx="401.7" cy="607.8" r="1.3" fill="#555b8a" opacity="0.7"/><circle cx="435.6" cy="611.1" r="1.1" fill="#6a6f98" opacity="0.7"/><circle cx="395.4" cy="574.9" r="1.2" fill="#6c72a2" opacity="0.7"/><circle cx="491.9" cy="609.6" r="1.3" fill="#555b8a" opacity="1.0"/><circle cx="445.1" cy="534.8" r="1.3" fill="#7a80ac" opacity="0.9"/><circle cx="393.5" cy="622.1" r="1.0" fill="#5f6596" opacity="0.7"/><circle cx="400.9" cy="614.1" r="1.2" fill="#8a8fb8" opacity="1.0"/><circle cx="467.5" cy="613.3" r="1.2" fill="#6a6f98" opacity="1.0"/><circle cx="391.9" cy="561.8" r="1.2" fill="#7a80ac" opacity="0.7"/><circle cx="481.7" cy="559.4" r="1.1" fill="#8a8fb8" opacity="0.9"/><circle cx="434.7" cy="566.4" r="0.9" fill="#8a8fb8" opacity="0.7"/><circle cx="472.8" cy="624.5" r="1.0" fill="#5f6596" opacity="0.9"/><circle cx="508.3" cy="580.2" r="1.2" fill="#6a6f98" opacity="0.7"/><circle cx="414.2" cy="600.1" r="1.0" fill="#6a6f98" opacity="0.9"/><circle cx="423.2" cy="597.2" r="1.3" fill="#6c72a2" opacity="0.9"/><circle cx="467.0" cy="621.8" r="0.9" fill="#6c72a2" opacity="0.8"/><circle cx="444.4" cy="601.5" r="1.0" fill="#555b8a" opacity="0.9"/><circle cx="452.2" cy="557.5" r="1.0" fill="#555b8a" opacity="0.9"/><circle cx="424.9" cy="598.9" r="1.1" fill="#6a6f98" opacity="0.8"/><circle cx="399.2" cy="619.6" r="1.0" fill="#555b8a" opacity="0.7"/><circle cx="445.8" cy="536.9" r="1.0" fill="#8a8fb8" opacity="0.9"/><circle cx="498.1" cy="543.5" r="0.9" fill="#555b8a" opacity="0.9"/><circle cx="412.9" cy="571.2" r="0.9" fill="#8a8fb8" opacity="1.0"/><circle cx="473.7" cy="556.5" r="0.9" fill="#6c72a2" opacity="0.9"/><circle cx="390.9" cy="568.6" r="1.0" fill="#555b8a" opacity="1.0"/><circle cx="441.4" cy="528.6" r="1.2" fill="#555b8a" opacity="1.0"/><circle cx="438.9" cy="537.7" r="0.9" fill="#6a6f98" opacity="0.9"/><circle cx="469.2" cy="538.5" r="1.1" fill="#6a6f98" opacity="1.0"/><circle cx="504.9" cy="601.4" r="1.0" fill="#5f6596" opacity="0.8"/><circle cx="468.7" cy="592.6" r="1.1" fill="#555b8a" opacity="0.8"/><circle cx="385.8" cy="565.3" r="1.2" fill="#5f6596" opacity="1.0"/><circle cx="508.0" cy="527.9" r="1.0" fill="#7a80ac" opacity="0.9"/><circle cx="394.4" cy="590.6" r="0.9" fill="#5f6596" opacity="0.8"/><circle cx="505.6" cy="617.7" r="0.9" fill="#555b8a" opacity="0.7"/><circle cx="442.0" cy="577.6" r="0.9" fill="#5f6596" opacity="0.7"/><circle cx="387.8" cy="596.8" r="1.0" fill="#8a8fb8" opacity="0.7"/><circle cx="414.9" cy="534.7" r="0.9" fill="#6a6f98" opacity="1.0"/><circle cx="417.1" cy="544.7" r="1.2" fill="#7a80ac" opacity="0.7"/><circle cx="508.9" cy="563.3" r="1.1" fill="#5f6596" opacity="1.0"/><circle cx="408.7" cy="535.6" r="1.2" fill="#7a80ac" opacity="0.7"/><circle cx="499.1" cy="540.3" r="1.1" fill="#8a8fb8" opacity="0.8"/><circle cx="423.2" cy="537.1" r="0.9" fill="#5f6596" opacity="0.9"/><circle cx="502.1" cy="584.0" r="1.0" fill="#6a6f98" opacity="0.7"/><circle cx="407.6" cy="590.2" r="1.2" fill="#8a8fb8" opacity="0.8"/><circle cx="476.9" cy="614.2" r="0.9" fill="#6a6f98" opacity="1.0"/><circle cx="488.5" cy="603.4" r="0.9" fill="#6c72a2" opacity="0.8"/><circle cx="386.8" cy="606.7" r="1.3" fill="#5f6596" opacity="0.8"/><circle cx="515.0" cy="564.5" r="1.1" fill="#7a80ac" opacity="0.9"/><circle cx="442.8" cy="627.8" r="1.2" fill="#7a80ac" opacity="0.9"/><circle cx="410.7" cy="596.4" r="1.1" fill="#555b8a" opacity="0.7"/><circle cx="443.5" cy="598.8" r="1.2" fill="#7a80ac" opacity="0.9"/><circle cx="447.4" cy="538.9" r="1.1" fill="#6c72a2" opacity="0.8"/><circle cx="404.8" cy="560.6" r="1.2" fill="#7a80ac" opacity="0.7"/><circle cx="416.0" cy="564.4" r="1.0" fill="#8a8fb8" opacity="0.8"/><circle cx="402.2" cy="542.1" r="1.1" fill="#7a80ac" opacity="0.9"/><circle cx="452.5" cy="597.6" r="1.2" fill="#555b8a" opacity="1.0"/><circle cx="395.9" cy="569.1" r="1.2" fill="#8a8fb8" opacity="0.7"/><circle cx="459.4" cy="605.9" r="1.2" fill="#8a8fb8" opacity="0.7"/><circle cx="442.5" cy="613.7" r="1.0" fill="#7a80ac" opacity="0.8"/><circle cx="481.7" cy="617.9" r="0.9" fill="#555b8a" opacity="0.7"/><circle cx="454.0" cy="541.7" r="1.1" fill="#8a8fb8" opacity="0.8"/><circle cx="421.0" cy="590.0" r="1.2" fill="#5f6596" opacity="0.8"/><circle cx="386.8" cy="611.0" r="1.1" fill="#7a80ac" opacity="0.9"/><circle cx="418.6" cy="618.4" r="1.0" fill="#6c72a2" opacity="0.9"/><circle cx="407.9" cy="606.6" r="1.1" fill="#5f6596" opacity="0.8"/><circle cx="443.0" cy="623.9" r="1.3" fill="#555b8a" opacity="0.7"/><circle cx="428.0" cy="578.1" r="1.0" fill="#7a80ac" opacity="0.7"/><circle cx="461.5" cy="583.6" r="1.2" fill="#8a8fb8" opacity="0.8"/><circle cx="446.8" cy="589.0" r="1.2" fill="#5f6596" opacity="0.9"/><circle cx="450.2" cy="596.1" r="0.9" fill="#7a80ac" opacity="0.9"/><circle cx="431.0" cy="529.6" r="1.0" fill="#555b8a" opacity="0.8"/><circle cx="462.7" cy="530.1" r="1.1" fill="#6c72a2" opacity="0.9"/><circle cx="454.2" cy="556.6" r="1.2" fill="#555b8a" opacity="0.8"/><circle cx="452.2" cy="557.0" r="1.0" fill="#7a80ac" opacity="1.0"/><circle cx="507.7" cy="592.9" r="0.9" fill="#6c72a2" opacity="0.8"/><circle cx="457.9" cy="533.4" r="0.9" fill="#8a8fb8" opacity="0.8"/><circle cx="440.8" cy="593.8" r="1.2" fill="#555b8a" opacity="0.9"/><circle cx="434.4" cy="564.3" r="1.2" fill="#8a8fb8" opacity="0.7"/><circle cx="452.3" cy="577.8" r="0.9" fill="#6c72a2" opacity="0.7"/><circle cx="426.2" cy="533.5" r="1.3" fill="#8a8fb8" opacity="0.8"/><circle cx="437.3" cy="562.5" r="1.0" fill="#6c72a2" opacity="0.7"/><circle cx="387.8" cy="572.6" r="1.0" fill="#6a6f98" opacity="0.8"/><circle cx="512.7" cy="621.7" r="0.9" fill="#6a6f98" opacity="0.7"/><circle cx="492.7" cy="544.8" r="0.9" fill="#8a8fb8" opacity="0.9"/><circle cx="468.2" cy="625.8" r="1.1" fill="#6a6f98" opacity="0.8"/><circle cx="494.6" cy="624.0" r="1.1" fill="#6c72a2" opacity="0.9"/><circle cx="426.7" cy="558.0" r="1.1" fill="#7a80ac" opacity="0.9"/><circle cx="455.0" cy="597.3" r="0.9" fill="#7a80ac" opacity="0.7"/><circle cx="502.9" cy="590.2" r="1.0" fill="#6c72a2" opacity="0.8"/><circle cx="432.3" cy="616.0" r="1.1" fill="#5f6596" opacity="1.0"/><circle cx="441.2" cy="571.5" r="1.2" fill="#8a8fb8" opacity="0.8"/><circle cx="431.8" cy="620.4" r="1.0" fill="#6a6f98" opacity="0.7"/><circle cx="492.8" cy="539.2" r="0.9" fill="#7a80ac" opacity="0.8"/><circle cx="454.3" cy="586.4" r="1.2" fill="#7a80ac" opacity="0.7"/><circle cx="494.2" cy="613.8" r="0.9" fill="#8a8fb8" opacity="0.9"/><circle cx="424.9" cy="602.7" r="1.0" fill="#8a8fb8" opacity="0.9"/><circle cx="437.2" cy="563.3" r="1.2" fill="#6a6f98" opacity="0.9"/>
<circle cx="416.1" cy="537.5" r="0.9" fill="#b9a58a" opacity="0.6"/><circle cx="388.0" cy="582.5" r="0.8" fill="#b9a58a" opacity="0.7"/><circle cx="455.2" cy="555.0" r="0.8" fill="#b9a58a" opacity="0.7"/><circle cx="508.1" cy="529.7" r="1.0" fill="#a89880" opacity="0.9"/><circle cx="410.6" cy="558.4" r="1.0" fill="#a89880" opacity="0.6"/><circle cx="464.2" cy="594.9" r="0.9" fill="#b9a58a" opacity="0.7"/><circle cx="421.8" cy="622.4" r="1.0" fill="#a89880" opacity="0.6"/><circle cx="423.4" cy="598.2" r="0.8" fill="#b9a58a" opacity="0.8"/><circle cx="463.3" cy="570.6" r="0.8" fill="#a89880" opacity="0.7"/><circle cx="489.1" cy="535.3" r="0.9" fill="#a89880" opacity="0.8"/><circle cx="469.7" cy="597.8" r="0.8" fill="#b9a58a" opacity="0.6"/><circle cx="504.3" cy="591.2" r="0.9" fill="#b9a58a" opacity="0.7"/><circle cx="482.6" cy="559.5" r="0.9" fill="#a89880" opacity="0.6"/><circle cx="393.4" cy="550.2" r="1.0" fill="#b9a58a" opacity="0.6"/><circle cx="507.0" cy="556.5" r="0.7" fill="#a89880" opacity="0.9"/><circle cx="502.0" cy="623.4" r="1.0" fill="#a89880" opacity="0.6"/><circle cx="423.0" cy="624.6" r="1.0" fill="#a89880" opacity="0.9"/><circle cx="498.5" cy="595.7" r="0.7" fill="#b9a58a" opacity="1.0"/><circle cx="423.4" cy="552.3" r="0.9" fill="#b9a58a" opacity="0.7"/><circle cx="386.6" cy="531.6" r="0.8" fill="#a89880" opacity="1.0"/><circle cx="459.7" cy="571.4" r="0.8" fill="#b9a58a" opacity="0.6"/><circle cx="393.5" cy="601.5" r="0.9" fill="#b9a58a" opacity="0.8"/><circle cx="456.5" cy="585.9" r="0.8" fill="#b9a58a" opacity="0.6"/><circle cx="454.3" cy="605.2" r="0.9" fill="#b9a58a" opacity="0.8"/><circle cx="416.9" cy="568.5" r="0.7" fill="#a89880" opacity="0.8"/>
<rect x="383.90" y="525.60" width="133.10" height="103.90" fill="none" stroke="#1a1a1a" stroke-width="1.7" />
<rect x="388.80" y="620.40" width="26.00" height="2.80" fill="none" stroke="#c4c4c4" stroke-width="0.4" />
<text x="389.50" y="538.82" font-size="10.4" font-weight="bold" text-anchor="start" fill="#000" textLength="58.6" lengthAdjust="spacingAndGlyphs" stroke="#000" stroke-width="0.25" stroke-linejoin="round">FT194 Control</text>
<rect x="382.90" y="634.80" width="136.00" height="102.60" fill="#fdfdfc" stroke="none" stroke-width="1" />
<circle cx="467.2" cy="710.2" r="0.8" fill="#8286a2" opacity="0.9"/><circle cx="454.9" cy="720.0" r="0.8" fill="#a9aec4" opacity="0.9"/><circle cx="504.2" cy="647.6" r="0.6" fill="#a9aec4" opacity="0.8"/><circle cx="398.0" cy="661.1" r="0.7" fill="#b9bdd0" opacity="0.7"/><circle cx="506.3" cy="712.6" r="0.5" fill="#9aa1ba" opacity="0.7"/><circle cx="466.5" cy="648.9" r="0.5" fill="#9aa1ba" opacity="0.7"/><circle cx="413.1" cy="734.1" r="0.8" fill="#8a90ac" opacity="0.7"/><circle cx="410.9" cy="723.6" r="0.7" fill="#a9aec4" opacity="1.0"/><circle cx="476.3" cy="732.6" r="0.8" fill="#8a90ac" opacity="0.6"/><circle cx="439.6" cy="729.5" r="0.6" fill="#8a90ac" opacity="0.7"/><circle cx="464.6" cy="636.6" r="0.7" fill="#8a90ac" opacity="0.6"/><circle cx="431.7" cy="666.8" r="0.7" fill="#a9aec4" opacity="0.8"/><circle cx="478.1" cy="642.0" r="0.8" fill="#9aa1ba" opacity="1.0"/><circle cx="432.0" cy="676.6" r="0.7" fill="#b9bdd0" opacity="0.7"/><circle cx="461.3" cy="637.2" r="0.5" fill="#a9aec4" opacity="0.8"/><circle cx="511.3" cy="648.2" r="0.5" fill="#b9bdd0" opacity="0.7"/><circle cx="431.6" cy="688.6" r="0.8" fill="#9aa1ba" opacity="0.8"/><circle cx="488.3" cy="672.9" r="0.6" fill="#b9bdd0" opacity="1.0"/><circle cx="396.5" cy="670.2" r="0.7" fill="#a9aec4" opacity="0.7"/><circle cx="507.3" cy="690.6" r="0.6" fill="#8a90ac" opacity="0.7"/><circle cx="490.6" cy="698.7" r="0.7" fill="#8a90ac" opacity="1.0"/><circle cx="405.9" cy="641.1" r="0.8" fill="#a0a3b4" opacity="1.0"/><circle cx="388.6" cy="710.1" r="0.6" fill="#8a90ac" opacity="0.8"/><circle cx="440.5" cy="641.8" r="0.8" fill="#9aa1ba" opacity="0.9"/><circle cx="428.8" cy="656.9" r="0.8" fill="#a0a3b4" opacity="1.0"/><circle cx="468.2" cy="714.8" r="0.5" fill="#b9bdd0" opacity="0.7"/><circle cx="392.2" cy="678.2" r="0.5" fill="#a0a3b4" opacity="0.9"/><circle cx="514.2" cy="681.5" r="0.6" fill="#8286a2" opacity="0.7"/><circle cx="420.8" cy="683.1" r="0.8" fill="#9aa1ba" opacity="0.8"/><circle cx="515.9" cy="731.9" r="0.7" fill="#b9bdd0" opacity="0.9"/><circle cx="408.4" cy="685.3" r="0.7" fill="#a0a3b4" opacity="0.9"/><circle cx="432.5" cy="714.6" r="0.8" fill="#8286a2" opacity="0.8"/><circle cx="389.0" cy="666.7" r="0.7" fill="#8286a2" opacity="0.7"/><circle cx="449.0" cy="713.0" r="0.7" fill="#8a90ac" opacity="1.0"/><circle cx="429.6" cy="654.1" r="0.8" fill="#b9bdd0" opacity="0.8"/><circle cx="417.7" cy="703.2" r="0.6" fill="#a0a3b4" opacity="0.9"/><circle cx="490.5" cy="670.9" r="0.7" fill="#8286a2" opacity="1.0"/><circle cx="438.7" cy="728.2" r="0.5" fill="#8286a2" opacity="0.8"/><circle cx="432.8" cy="669.6" r="0.5" fill="#a9aec4" opacity="0.7"/><circle cx="432.5" cy="721.3" r="0.6" fill="#9aa1ba" opacity="0.9"/><circle cx="481.5" cy="653.4" r="0.8" fill="#a0a3b4" opacity="0.8"/><circle cx="508.9" cy="666.4" r="0.7" fill="#8286a2" opacity="0.7"/><circle cx="516.9" cy="655.8" r="0.7" fill="#a0a3b4" opacity="0.9"/><circle cx="413.5" cy="704.6" r="0.7" fill="#9aa1ba" opacity="1.0"/><circle cx="514.7" cy="652.8" r="0.8" fill="#9aa1ba" opacity="0.7"/><circle cx="408.5" cy="655.6" r="0.5" fill="#b9bdd0" opacity="0.7"/><circle cx="472.5" cy="643.5" r="0.5" fill="#8286a2" opacity="1.0"/><circle cx="384.5" cy="676.7" r="0.6" fill="#b9bdd0" opacity="0.9"/><circle cx="476.0" cy="690.8" r="0.8" fill="#a0a3b4" opacity="0.8"/><circle cx="397.0" cy="690.6" r="0.6" fill="#a0a3b4" opacity="0.7"/><circle cx="431.2" cy="649.2" r="0.6" fill="#a0a3b4" opacity="0.9"/><circle cx="433.5" cy="650.5" r="0.7" fill="#a0a3b4" opacity="0.8"/><circle cx="410.9" cy="649.5" r="0.5" fill="#8286a2" opacity="0.6"/><circle cx="398.8" cy="692.7" r="0.7" fill="#a9aec4" opacity="0.7"/><circle cx="501.0" cy="692.5" r="0.6" fill="#a9aec4" opacity="0.8"/><circle cx="448.2" cy="706.8" r="0.6" fill="#a9aec4" opacity="0.8"/><circle cx="419.0" cy="734.0" r="0.6" fill="#b9bdd0" opacity="0.6"/><circle cx="510.1" cy="666.9" r="0.8" fill="#a9aec4" opacity="0.8"/><circle cx="400.6" cy="698.2" r="0.6" fill="#8a90ac" opacity="0.6"/><circle cx="402.5" cy="675.4" r="0.6" fill="#a0a3b4" opacity="0.7"/><circle cx="508.8" cy="714.2" r="0.5" fill="#8a90ac" opacity="0.9"/><circle cx="480.4" cy="664.8" r="0.6" fill="#b9bdd0" opacity="0.8"/><circle cx="499.2" cy="724.0" r="0.8" fill="#9aa1ba" opacity="0.9"/><circle cx="424.4" cy="689.4" r="0.6" fill="#8a90ac" opacity="0.9"/><circle cx="387.9" cy="671.1" r="0.7" fill="#a0a3b4" opacity="0.7"/><circle cx="384.8" cy="691.4" r="0.7" fill="#9aa1ba" opacity="1.0"/><circle cx="457.0" cy="637.8" r="0.8" fill="#b9bdd0" opacity="0.8"/><circle cx="476.0" cy="731.2" r="0.7" fill="#b9bdd0" opacity="0.8"/><circle cx="475.1" cy="708.0" r="0.8" fill="#b9bdd0" opacity="0.9"/><circle cx="393.2" cy="719.6" r="0.7" fill="#b9bdd0" opacity="0.8"/><circle cx="470.6" cy="683.4" r="0.6" fill="#a9aec4" opacity="0.8"/><circle cx="457.4" cy="685.9" r="0.6" fill="#a9aec4" opacity="0.8"/><circle cx="456.4" cy="641.1" r="0.7" fill="#8a90ac" opacity="0.9"/><circle cx="489.7" cy="702.4" r="0.5" fill="#8286a2" opacity="0.8"/><circle cx="393.5" cy="676.7" r="0.6" fill="#9aa1ba" opacity="0.9"/><circle cx="413.6" cy="700.6" r="0.8" fill="#8286a2" opacity="1.0"/><circle cx="516.6" cy="706.6" r="0.6" fill="#a9aec4" opacity="0.8"/><circle cx="439.5" cy="652.4" r="0.7" fill="#9aa1ba" opacity="0.8"/><circle cx="472.2" cy="710.6" r="0.6" fill="#a0a3b4" opacity="0.8"/><circle cx="483.1" cy="723.8" r="0.5" fill="#b9bdd0" opacity="0.6"/><circle cx="475.6" cy="685.0" r="0.6" fill="#8286a2" opacity="0.7"/><circle cx="391.8" cy="705.8" r="0.5" fill="#8286a2" opacity="0.9"/><circle cx="423.0" cy="730.1" r="0.7" fill="#a9aec4" opacity="0.7"/><circle cx="457.8" cy="661.6" r="0.8" fill="#a0a3b4" opacity="1.0"/><circle cx="491.9" cy="722.3" r="0.6" fill="#b9bdd0" opacity="0.7"/><circle cx="479.3" cy="701.5" r="0.5" fill="#8286a2" opacity="0.6"/><circle cx="499.2" cy="686.7" r="0.6" fill="#b9bdd0" opacity="1.0"/><circle cx="448.3" cy="668.5" r="0.8" fill="#9aa1ba" opacity="0.8"/><circle cx="435.6" cy="720.8" r="0.8" fill="#b9bdd0" opacity="0.9"/><circle cx="414.1" cy="647.9" r="0.8" fill="#8286a2" opacity="0.8"/><circle cx="412.5" cy="706.2" r="0.6" fill="#a9aec4" opacity="0.7"/><circle cx="508.2" cy="706.6" r="0.8" fill="#b9bdd0" opacity="0.7"/><circle cx="494.9" cy="700.8" r="0.8" fill="#b9bdd0" opacity="1.0"/><circle cx="432.6" cy="639.9" r="0.8" fill="#a9aec4" opacity="0.9"/><circle cx="437.0" cy="646.0" r="0.5" fill="#a9aec4" opacity="0.7"/><circle cx="449.6" cy="729.6" r="0.7" fill="#8a90ac" opacity="0.6"/><circle cx="446.9" cy="724.9" r="0.7" fill="#b9bdd0" opacity="0.7"/><circle cx="445.8" cy="655.4" r="0.7" fill="#9aa1ba" opacity="0.7"/><circle cx="435.7" cy="724.0" r="0.5" fill="#8a90ac" opacity="0.6"/><circle cx="493.3" cy="711.0" r="0.7" fill="#9aa1ba" opacity="0.8"/><circle cx="388.7" cy="728.4" r="0.6" fill="#9aa1ba" opacity="0.9"/><circle cx="474.0" cy="683.3" r="0.8" fill="#9aa1ba" opacity="0.9"/><circle cx="427.5" cy="681.5" r="0.5" fill="#a9aec4" opacity="0.6"/><circle cx="479.5" cy="693.5" r="0.7" fill="#a0a3b4" opacity="0.8"/><circle cx="513.9" cy="672.6" r="0.6" fill="#b9bdd0" opacity="0.7"/><circle cx="393.3" cy="735.3" r="0.6" fill="#a9aec4" opacity="0.7"/><circle cx="412.2" cy="640.7" r="0.7" fill="#8286a2" opacity="1.0"/><circle cx="385.2" cy="642.4" r="0.8" fill="#b9bdd0" opacity="0.7"/><circle cx="388.8" cy="719.5" r="0.8" fill="#a0a3b4" opacity="0.7"/><circle cx="396.9" cy="643.4" r="0.8" fill="#b9bdd0" opacity="0.6"/><circle cx="447.1" cy="704.3" r="0.7" fill="#b9bdd0" opacity="0.8"/><circle cx="392.4" cy="661.7" r="0.6" fill="#8a90ac" opacity="0.9"/><circle cx="500.8" cy="730.9" r="0.5" fill="#8286a2" opacity="0.8"/><circle cx="437.9" cy="689.2" r="0.5" fill="#8a90ac" opacity="0.9"/><circle cx="395.9" cy="734.4" r="0.5" fill="#9aa1ba" opacity="0.9"/><circle cx="412.9" cy="638.0" r="0.7" fill="#b9bdd0" opacity="0.8"/><circle cx="486.6" cy="688.3" r="0.5" fill="#9aa1ba" opacity="1.0"/><circle cx="425.3" cy="681.0" r="0.8" fill="#a9aec4" opacity="0.8"/><circle cx="402.8" cy="684.4" r="0.8" fill="#8a90ac" opacity="0.9"/><circle cx="426.0" cy="649.2" r="0.5" fill="#a9aec4" opacity="0.9"/><circle cx="490.6" cy="732.7" r="0.7" fill="#8a90ac" opacity="0.6"/><circle cx="477.6" cy="641.1" r="0.5" fill="#8a90ac" opacity="1.0"/><circle cx="502.2" cy="643.5" r="0.8" fill="#b9bdd0" opacity="0.9"/><circle cx="458.4" cy="725.6" r="0.7" fill="#a9aec4" opacity="0.8"/><circle cx="443.2" cy="717.7" r="0.7" fill="#9aa1ba" opacity="0.9"/><circle cx="477.7" cy="663.0" r="0.8" fill="#b9bdd0" opacity="0.8"/><circle cx="427.1" cy="666.8" r="0.5" fill="#b9bdd0" opacity="0.9"/><circle cx="422.4" cy="642.6" r="0.8" fill="#a0a3b4" opacity="0.6"/><circle cx="400.6" cy="732.9" r="0.8" fill="#b9bdd0" opacity="0.9"/><circle cx="510.6" cy="697.3" r="0.5" fill="#b9bdd0" opacity="0.7"/><circle cx="411.2" cy="672.0" r="0.5" fill="#a0a3b4" opacity="0.9"/><circle cx="481.1" cy="645.8" r="0.7" fill="#a9aec4" opacity="0.9"/><circle cx="403.6" cy="712.5" r="0.6" fill="#b9bdd0" opacity="0.6"/><circle cx="426.6" cy="727.4" r="0.6" fill="#b9bdd0" opacity="0.7"/><circle cx="390.8" cy="702.8" r="0.5" fill="#b9bdd0" opacity="1.0"/><circle cx="463.7" cy="646.6" r="0.8" fill="#b9bdd0" opacity="0.9"/><circle cx="412.0" cy="636.4" r="0.8" fill="#a9aec4" opacity="0.8"/><circle cx="501.7" cy="675.4" r="0.5" fill="#8a90ac" opacity="0.9"/><circle cx="424.7" cy="687.7" r="0.8" fill="#a9aec4" opacity="0.7"/><circle cx="492.0" cy="717.4" r="0.7" fill="#9aa1ba" opacity="0.8"/><circle cx="437.7" cy="650.5" r="0.8" fill="#b9bdd0" opacity="0.8"/><circle cx="396.9" cy="675.8" r="0.8" fill="#8a90ac" opacity="1.0"/><circle cx="410.9" cy="715.7" r="0.6" fill="#8286a2" opacity="0.8"/><circle cx="455.4" cy="645.4" r="0.5" fill="#8286a2" opacity="0.6"/><circle cx="452.5" cy="694.7" r="0.5" fill="#b9bdd0" opacity="0.6"/><circle cx="474.6" cy="697.1" r="0.7" fill="#a0a3b4" opacity="0.8"/><circle cx="477.9" cy="676.1" r="0.8" fill="#a0a3b4" opacity="1.0"/><circle cx="476.5" cy="703.0" r="0.7" fill="#b9bdd0" opacity="0.7"/><circle cx="463.3" cy="704.0" r="0.7" fill="#8a90ac" opacity="0.7"/><circle cx="388.0" cy="713.4" r="0.7" fill="#8286a2" opacity="0.8"/><circle cx="513.2" cy="637.7" r="0.8" fill="#a9aec4" opacity="0.6"/><circle cx="484.6" cy="703.0" r="0.8" fill="#8a90ac" opacity="0.9"/><circle cx="495.9" cy="709.9" r="0.7" fill="#a9aec4" opacity="0.8"/><circle cx="396.6" cy="648.4" r="0.6" fill="#a0a3b4" opacity="0.8"/><circle cx="513.3" cy="703.1" r="0.6" fill="#8286a2" opacity="0.8"/><circle cx="412.0" cy="703.8" r="0.6" fill="#8a90ac" opacity="0.6"/><circle cx="476.0" cy="691.4" r="0.7" fill="#8a90ac" opacity="0.7"/><circle cx="397.7" cy="665.6" r="0.8" fill="#a0a3b4" opacity="0.6"/><circle cx="510.8" cy="643.9" r="0.6" fill="#a9aec4" opacity="0.7"/><circle cx="392.7" cy="692.7" r="0.8" fill="#a0a3b4" opacity="0.9"/><circle cx="439.8" cy="678.7" r="0.7" fill="#a9aec4" opacity="0.7"/><circle cx="421.7" cy="696.6" r="0.8" fill="#a9aec4" opacity="0.8"/><circle cx="404.2" cy="665.7" r="0.7" fill="#a0a3b4" opacity="0.7"/><circle cx="409.7" cy="695.5" r="0.7" fill="#8286a2" opacity="0.7"/><circle cx="394.5" cy="731.1" r="0.5" fill="#a0a3b4" opacity="1.0"/><circle cx="426.8" cy="721.0" r="0.7" fill="#a9aec4" opacity="1.0"/><circle cx="466.2" cy="715.8" r="0.8" fill="#9aa1ba" opacity="0.7"/><circle cx="405.2" cy="645.5" r="0.5" fill="#a0a3b4" opacity="0.9"/><circle cx="460.9" cy="680.2" r="0.6" fill="#a9aec4" opacity="0.9"/><circle cx="507.3" cy="731.6" r="0.7" fill="#9aa1ba" opacity="0.7"/><circle cx="492.7" cy="655.8" r="0.6" fill="#a9aec4" opacity="0.8"/><circle cx="474.9" cy="710.3" r="0.5" fill="#b9bdd0" opacity="1.0"/><circle cx="446.4" cy="636.9" r="0.8" fill="#8a90ac" opacity="0.7"/><circle cx="384.8" cy="674.3" r="0.6" fill="#8286a2" opacity="0.6"/><circle cx="485.5" cy="708.1" r="0.6" fill="#9aa1ba" opacity="0.9"/><circle cx="517.3" cy="711.1" r="0.5" fill="#8a90ac" opacity="0.8"/><circle cx="423.0" cy="686.0" r="0.7" fill="#9aa1ba" opacity="0.8"/><circle cx="423.8" cy="669.9" r="0.8" fill="#a0a3b4" opacity="0.8"/><circle cx="413.7" cy="734.5" r="0.6" fill="#8286a2" opacity="0.6"/><circle cx="420.4" cy="645.9" r="0.6" fill="#a9aec4" opacity="0.8"/><circle cx="435.8" cy="729.3" r="0.5" fill="#8a90ac" opacity="0.7"/><circle cx="395.5" cy="717.8" r="0.5" fill="#9aa1ba" opacity="0.6"/><circle cx="459.2" cy="731.6" r="0.8" fill="#9aa1ba" opacity="0.6"/><circle cx="413.5" cy="733.3" r="0.6" fill="#b9bdd0" opacity="0.8"/><circle cx="511.6" cy="695.9" r="0.8" fill="#b9bdd0" opacity="0.8"/><circle cx="391.4" cy="675.4" r="0.8" fill="#b9bdd0" opacity="0.9"/><circle cx="509.4" cy="702.1" r="0.7" fill="#a0a3b4" opacity="0.6"/><circle cx="387.6" cy="712.9" r="0.6" fill="#b9bdd0" opacity="1.0"/><circle cx="434.7" cy="735.8" r="0.8" fill="#8a90ac" opacity="0.7"/><circle cx="488.3" cy="678.3" r="0.8" fill="#8a90ac" opacity="0.7"/><circle cx="440.4" cy="663.3" r="0.6" fill="#8a90ac" opacity="0.6"/><circle cx="468.6" cy="712.9" r="0.8" fill="#9aa1ba" opacity="0.6"/><circle cx="435.1" cy="725.7" r="0.8" fill="#a9aec4" opacity="0.9"/><circle cx="483.8" cy="685.5" r="0.6" fill="#b9bdd0" opacity="0.7"/><circle cx="415.9" cy="727.9" r="0.8" fill="#9aa1ba" opacity="0.6"/><circle cx="492.4" cy="644.8" r="0.5" fill="#8286a2" opacity="0.7"/><circle cx="487.5" cy="651.4" r="0.7" fill="#8286a2" opacity="0.8"/><circle cx="422.1" cy="646.8" r="0.6" fill="#8a90ac" opacity="0.7"/><circle cx="447.9" cy="694.2" r="0.8" fill="#a9aec4" opacity="1.0"/><circle cx="403.1" cy="638.0" r="0.5" fill="#b9bdd0" opacity="0.7"/><circle cx="448.4" cy="706.6" r="0.5" fill="#a9aec4" opacity="0.8"/><circle cx="451.5" cy="697.1" r="0.8" fill="#9aa1ba" opacity="0.9"/><circle cx="416.1" cy="705.2" r="0.8" fill="#9aa1ba" opacity="0.8"/><circle cx="442.9" cy="646.5" r="0.5" fill="#8a90ac" opacity="0.8"/><circle cx="421.1" cy="694.4" r="0.7" fill="#b9bdd0" opacity="1.0"/><circle cx="424.5" cy="652.9" r="0.8" fill="#9aa1ba" opacity="0.9"/><circle cx="391.7" cy="657.4" r="0.7" fill="#9aa1ba" opacity="1.0"/><circle cx="424.2" cy="691.3" r="0.8" fill="#a9aec4" opacity="0.8"/><circle cx="392.8" cy="636.7" r="0.7" fill="#a0a3b4" opacity="0.8"/><circle cx="392.4" cy="645.1" r="0.6" fill="#a9aec4" opacity="0.7"/><circle cx="429.7" cy="717.5" r="0.6" fill="#a9aec4" opacity="0.9"/><circle cx="419.3" cy="718.9" r="0.7" fill="#b9bdd0" opacity="0.7"/><circle cx="489.4" cy="706.2" r="0.7" fill="#b9bdd0" opacity="1.0"/><circle cx="495.6" cy="695.5" r="0.7" fill="#8286a2" opacity="0.7"/><circle cx="400.8" cy="681.7" r="0.7" fill="#a0a3b4" opacity="0.8"/><circle cx="500.3" cy="640.3" r="0.7" fill="#9aa1ba" opacity="0.8"/><circle cx="455.1" cy="680.4" r="0.7" fill="#a0a3b4" opacity="1.0"/><circle cx="399.2" cy="642.7" r="0.7" fill="#9aa1ba" opacity="0.6"/><circle cx="479.6" cy="666.6" r="0.7" fill="#a0a3b4" opacity="0.9"/><circle cx="393.6" cy="700.4" r="0.8" fill="#9aa1ba" opacity="0.8"/><circle cx="425.0" cy="681.5" r="0.6" fill="#8a90ac" opacity="0.8"/><circle cx="504.4" cy="682.7" r="0.5" fill="#a9aec4" opacity="1.0"/><circle cx="426.2" cy="697.2" r="0.6" fill="#a9aec4" opacity="0.7"/><circle cx="394.9" cy="678.7" r="0.7" fill="#8286a2" opacity="0.8"/><circle cx="410.6" cy="727.4" r="0.5" fill="#a0a3b4" opacity="0.8"/><circle cx="460.6" cy="727.1" r="0.5" fill="#8a90ac" opacity="0.8"/><circle cx="451.3" cy="731.0" r="0.5" fill="#a9aec4" opacity="0.9"/><circle cx="440.2" cy="714.4" r="0.8" fill="#8a90ac" opacity="0.8"/><circle cx="410.5" cy="678.7" r="0.8" fill="#a0a3b4" opacity="0.7"/><circle cx="468.1" cy="700.1" r="0.8" fill="#9aa1ba" opacity="0.9"/><circle cx="399.1" cy="645.9" r="0.8" fill="#8a90ac" opacity="0.9"/><circle cx="461.9" cy="641.3" r="0.8" fill="#b9bdd0" opacity="0.7"/><circle cx="428.9" cy="712.6" r="0.5" fill="#8a90ac" opacity="1.0"/><circle cx="425.9" cy="665.5" r="0.6" fill="#b9bdd0" opacity="0.6"/><circle cx="424.5" cy="654.2" r="0.8" fill="#8286a2" opacity="1.0"/><circle cx="451.7" cy="646.7" r="0.6" fill="#a9aec4" opacity="0.8"/><circle cx="509.3" cy="690.2" r="0.7" fill="#8286a2" opacity="0.8"/><circle cx="508.5" cy="730.5" r="0.6" fill="#9aa1ba" opacity="0.7"/><circle cx="417.1" cy="697.6" r="0.5" fill="#8286a2" opacity="1.0"/><circle cx="456.6" cy="679.9" r="0.6" fill="#a0a3b4" opacity="0.8"/><circle cx="493.6" cy="640.2" r="0.8" fill="#a9aec4" opacity="0.8"/><circle cx="468.7" cy="727.8" r="0.6" fill="#8286a2" opacity="0.8"/><circle cx="403.0" cy="641.6" r="0.8" fill="#b9bdd0" opacity="0.7"/><circle cx="457.9" cy="715.8" r="0.7" fill="#8a90ac" opacity="0.7"/><circle cx="483.4" cy="661.8" r="0.6" fill="#8286a2" opacity="0.8"/><circle cx="402.2" cy="656.5" r="0.7" fill="#8286a2" opacity="0.9"/><circle cx="443.6" cy="659.6" r="0.5" fill="#8286a2" opacity="0.6"/><circle cx="443.8" cy="698.0" r="0.8" fill="#a9aec4" opacity="0.9"/><circle cx="448.5" cy="666.0" r="0.8" fill="#8286a2" opacity="0.7"/><circle cx="391.4" cy="708.1" r="0.5" fill="#9aa1ba" opacity="0.7"/><circle cx="463.1" cy="700.0" r="0.6" fill="#a0a3b4" opacity="1.0"/><circle cx="421.9" cy="669.5" r="0.8" fill="#a9aec4" opacity="0.8"/><circle cx="423.5" cy="673.2" r="0.8" fill="#8a90ac" opacity="0.9"/><circle cx="485.1" cy="708.8" r="0.5" fill="#a9aec4" opacity="0.7"/><circle cx="497.9" cy="702.2" r="0.6" fill="#a0a3b4" opacity="0.9"/><circle cx="429.6" cy="709.2" r="0.7" fill="#8286a2" opacity="0.9"/><circle cx="489.3" cy="637.7" r="0.7" fill="#8286a2" opacity="0.6"/><circle cx="489.6" cy="713.1" r="0.8" fill="#9aa1ba" opacity="0.7"/><circle cx="384.7" cy="733.0" r="0.7" fill="#a9aec4" opacity="1.0"/><circle cx="497.8" cy="660.0" r="0.8" fill="#8286a2" opacity="0.6"/><circle cx="439.9" cy="722.3" r="0.7" fill="#9aa1ba" opacity="0.7"/><circle cx="415.8" cy="643.0" r="0.8" fill="#8a90ac" opacity="0.8"/><circle cx="425.2" cy="709.5" r="0.6" fill="#a0a3b4" opacity="0.8"/><circle cx="491.4" cy="714.4" r="0.7" fill="#8a90ac" opacity="0.8"/><circle cx="384.8" cy="678.7" r="0.6" fill="#a9aec4" opacity="0.9"/><circle cx="398.5" cy="681.9" r="0.6" fill="#b9bdd0" opacity="0.8"/><circle cx="453.8" cy="638.8" r="0.8" fill="#a0a3b4" opacity="0.8"/><circle cx="495.4" cy="697.5" r="0.7" fill="#a0a3b4" opacity="0.7"/><circle cx="471.0" cy="680.5" r="0.7" fill="#9aa1ba" opacity="0.9"/><circle cx="411.1" cy="689.5" r="0.8" fill="#a9aec4" opacity="0.7"/><circle cx="384.8" cy="679.0" r="0.6" fill="#8286a2" opacity="0.9"/><circle cx="436.5" cy="713.2" r="0.5" fill="#b9bdd0" opacity="0.9"/><circle cx="413.3" cy="676.4" r="0.6" fill="#b9bdd0" opacity="1.0"/><circle cx="420.8" cy="688.6" r="0.5" fill="#8286a2" opacity="0.9"/><circle cx="475.2" cy="712.3" r="0.8" fill="#b9bdd0" opacity="0.9"/><circle cx="439.7" cy="702.0" r="0.7" fill="#8286a2" opacity="0.9"/><circle cx="481.8" cy="656.5" r="0.7" fill="#8286a2" opacity="0.9"/><circle cx="486.7" cy="655.4" r="0.7" fill="#a9aec4" opacity="0.7"/><circle cx="397.0" cy="696.6" r="0.6" fill="#a9aec4" opacity="0.9"/><circle cx="408.6" cy="690.5" r="0.7" fill="#9aa1ba" opacity="0.9"/><circle cx="477.6" cy="682.8" r="0.8" fill="#8a90ac" opacity="0.9"/><circle cx="502.2" cy="684.9" r="0.6" fill="#9aa1ba" opacity="0.9"/><circle cx="433.6" cy="724.5" r="0.6" fill="#a0a3b4" opacity="0.8"/><circle cx="506.6" cy="696.9" r="0.7" fill="#a9aec4" opacity="0.8"/><circle cx="458.7" cy="733.7" r="0.5" fill="#b9bdd0" opacity="0.7"/><circle cx="493.0" cy="643.4" r="0.7" fill="#a9aec4" opacity="0.6"/><circle cx="471.5" cy="667.6" r="0.5" fill="#8a90ac" opacity="0.8"/><circle cx="427.1" cy="721.6" r="0.8" fill="#8a90ac" opacity="0.9"/><circle cx="488.1" cy="728.6" r="0.8" fill="#8286a2" opacity="0.9"/><circle cx="475.0" cy="644.8" r="0.6" fill="#b9bdd0" opacity="0.7"/><circle cx="424.8" cy="678.5" r="0.7" fill="#a0a3b4" opacity="0.6"/><circle cx="474.1" cy="660.6" r="0.6" fill="#9aa1ba" opacity="0.8"/><circle cx="394.1" cy="673.8" r="0.6" fill="#a9aec4" opacity="0.7"/><circle cx="510.1" cy="645.1" r="0.6" fill="#a9aec4" opacity="0.7"/><circle cx="398.2" cy="668.7" r="0.8" fill="#b9bdd0" opacity="0.7"/><circle cx="475.6" cy="681.4" r="0.8" fill="#9aa1ba" opacity="0.8"/><circle cx="502.7" cy="667.1" r="0.6" fill="#a0a3b4" opacity="0.8"/><circle cx="452.7" cy="645.6" r="0.7" fill="#b9bdd0" opacity="0.8"/><circle cx="410.5" cy="708.9" r="0.8" fill="#9aa1ba" opacity="0.7"/><circle cx="442.8" cy="723.8" r="0.6" fill="#8a90ac" opacity="0.8"/><circle cx="509.4" cy="647.1" r="0.5" fill="#a9aec4" opacity="0.9"/><circle cx="389.9" cy="647.1" r="0.8" fill="#9aa1ba" opacity="0.6"/><circle cx="395.2" cy="698.7" r="0.6" fill="#8286a2" opacity="0.7"/><circle cx="442.1" cy="665.8" r="0.7" fill="#a0a3b4" opacity="0.9"/><circle cx="452.2" cy="721.3" r="0.8" fill="#a0a3b4" opacity="0.8"/><circle cx="389.5" cy="672.7" r="0.8" fill="#a0a3b4" opacity="0.6"/><circle cx="442.6" cy="663.5" r="0.8" fill="#8a90ac" opacity="1.0"/><circle cx="509.4" cy="675.2" r="0.8" fill="#8a90ac" opacity="0.7"/><circle cx="483.8" cy="708.7" r="0.6" fill="#8a90ac" opacity="0.7"/><circle cx="515.3" cy="637.2" r="0.7" fill="#8a90ac" opacity="0.7"/><circle cx="466.8" cy="679.9" r="0.7" fill="#b9bdd0" opacity="0.6"/><circle cx="434.7" cy="655.6" r="0.5" fill="#b9bdd0" opacity="0.7"/><circle cx="450.8" cy="694.2" r="0.7" fill="#9aa1ba" opacity="0.9"/><circle cx="425.2" cy="670.0" r="0.7" fill="#a9aec4" opacity="0.9"/><circle cx="386.1" cy="655.8" r="0.5" fill="#b9bdd0" opacity="0.8"/><circle cx="390.5" cy="658.6" r="0.8" fill="#8a90ac" opacity="0.7"/><circle cx="445.1" cy="639.5" r="0.5" fill="#a9aec4" opacity="0.6"/><circle cx="476.6" cy="648.2" r="0.8" fill="#8286a2" opacity="0.6"/><circle cx="516.8" cy="710.0" r="0.8" fill="#8a90ac" opacity="0.9"/><circle cx="418.3" cy="653.1" r="0.6" fill="#9aa1ba" opacity="0.8"/><circle cx="416.5" cy="732.2" r="0.8" fill="#8a90ac" opacity="0.8"/><circle cx="415.3" cy="641.8" r="0.7" fill="#a0a3b4" opacity="0.7"/><circle cx="472.9" cy="646.0" r="0.6" fill="#8286a2" opacity="0.7"/><circle cx="445.3" cy="648.3" r="0.5" fill="#a9aec4" opacity="0.7"/><circle cx="416.5" cy="697.5" r="0.5" fill="#8286a2" opacity="0.9"/><circle cx="463.2" cy="668.4" r="0.6" fill="#8a90ac" opacity="0.7"/><circle cx="413.1" cy="720.0" r="0.7" fill="#b9bdd0" opacity="0.7"/><circle cx="385.6" cy="694.5" r="0.5" fill="#9aa1ba" opacity="0.8"/><circle cx="396.3" cy="659.9" r="0.6" fill="#8286a2" opacity="0.8"/><circle cx="421.9" cy="709.1" r="0.5" fill="#a9aec4" opacity="0.6"/><circle cx="463.1" cy="706.5" r="0.7" fill="#b9bdd0" opacity="0.7"/><circle cx="442.8" cy="666.8" r="0.6" fill="#a0a3b4" opacity="0.7"/><circle cx="446.3" cy="690.6" r="0.5" fill="#8286a2" opacity="0.9"/><circle cx="459.9" cy="730.4" r="0.8" fill="#9aa1ba" opacity="0.7"/><circle cx="458.8" cy="696.6" r="0.7" fill="#8a90ac" opacity="0.8"/><circle cx="495.9" cy="721.2" r="0.7" fill="#8a90ac" opacity="0.7"/><circle cx="443.7" cy="692.1" r="0.5" fill="#9aa1ba" opacity="0.8"/><circle cx="496.4" cy="727.3" r="0.5" fill="#a0a3b4" opacity="0.6"/><circle cx="420.3" cy="652.4" r="0.6" fill="#8a90ac" opacity="0.6"/><circle cx="431.2" cy="705.5" r="0.7" fill="#9aa1ba" opacity="0.8"/><circle cx="509.9" cy="716.6" r="0.6" fill="#8a90ac" opacity="0.6"/><circle cx="436.9" cy="733.8" r="0.6" fill="#8286a2" opacity="1.0"/><circle cx="509.3" cy="642.5" r="0.8" fill="#b9bdd0" opacity="0.8"/><circle cx="390.3" cy="686.6" r="0.7" fill="#8a90ac" opacity="0.8"/><circle cx="407.7" cy="679.3" r="0.8" fill="#8286a2" opacity="0.9"/><circle cx="507.5" cy="706.8" r="0.7" fill="#8286a2" opacity="1.0"/><circle cx="459.7" cy="714.5" r="0.7" fill="#8a90ac" opacity="0.9"/><circle cx="414.6" cy="685.3" r="0.7" fill="#8286a2" opacity="0.7"/><circle cx="492.3" cy="684.2" r="0.6" fill="#8286a2" opacity="0.8"/><circle cx="516.3" cy="668.5" r="0.7" fill="#a9aec4" opacity="0.6"/><circle cx="487.8" cy="701.2" r="0.7" fill="#9aa1ba" opacity="0.9"/><circle cx="403.9" cy="684.8" r="0.7" fill="#8286a2" opacity="0.7"/><circle cx="399.3" cy="641.0" r="0.8" fill="#b9bdd0" opacity="0.8"/><circle cx="408.8" cy="648.2" r="0.5" fill="#b9bdd0" opacity="0.8"/><circle cx="473.2" cy="699.8" r="0.8" fill="#8286a2" opacity="0.7"/><circle cx="406.2" cy="687.3" r="0.8" fill="#a0a3b4" opacity="0.7"/><circle cx="486.8" cy="694.8" r="0.5" fill="#9aa1ba" opacity="0.7"/><circle cx="457.3" cy="661.5" r="0.8" fill="#a9aec4" opacity="0.9"/><circle cx="416.5" cy="702.8" r="0.7" fill="#b9bdd0" opacity="0.7"/><circle cx="439.5" cy="657.8" r="0.6" fill="#8a90ac" opacity="0.6"/><circle cx="404.2" cy="667.6" r="0.8" fill="#8a90ac" opacity="0.9"/><circle cx="516.5" cy="646.7" r="0.7" fill="#8a90ac" opacity="0.6"/><circle cx="454.1" cy="663.1" r="0.5" fill="#9aa1ba" opacity="0.6"/><circle cx="424.4" cy="650.8" r="0.8" fill="#a9aec4" opacity="0.7"/><circle cx="510.3" cy="640.6" r="0.8" fill="#b9bdd0" opacity="0.8"/><circle cx="399.6" cy="719.4" r="0.7" fill="#b9bdd0" opacity="0.9"/><circle cx="492.3" cy="636.9" r="0.6" fill="#b9bdd0" opacity="0.7"/><circle cx="480.1" cy="698.8" r="0.6" fill="#a0a3b4" opacity="0.9"/><circle cx="421.4" cy="679.8" r="0.8" fill="#9aa1ba" opacity="0.8"/><circle cx="425.7" cy="730.7" r="0.6" fill="#8a90ac" opacity="0.8"/><circle cx="394.3" cy="735.1" r="0.5" fill="#a0a3b4" opacity="0.7"/><circle cx="517.0" cy="698.2" r="0.7" fill="#8286a2" opacity="0.9"/><circle cx="447.4" cy="688.2" r="0.5" fill="#8286a2" opacity="0.6"/><circle cx="400.5" cy="676.7" r="0.5" fill="#8286a2" opacity="0.8"/><circle cx="459.0" cy="725.7" r="0.8" fill="#8a90ac" opacity="0.7"/><circle cx="497.8" cy="684.4" r="0.5" fill="#9aa1ba" opacity="0.8"/><circle cx="512.9" cy="690.9" r="0.8" fill="#b9bdd0" opacity="0.6"/><circle cx="502.6" cy="729.6" r="0.7" fill="#9aa1ba" opacity="0.7"/><circle cx="453.2" cy="723.0" r="0.5" fill="#8a90ac" opacity="0.7"/><circle cx="392.9" cy="688.3" r="0.5" fill="#b9bdd0" opacity="1.0"/><circle cx="513.2" cy="700.8" r="0.7" fill="#a9aec4" opacity="0.8"/><circle cx="406.1" cy="672.4" r="0.5" fill="#b9bdd0" opacity="0.7"/><circle cx="514.8" cy="668.5" r="0.8" fill="#a0a3b4" opacity="1.0"/><circle cx="481.1" cy="643.6" r="0.6" fill="#8286a2" opacity="0.7"/><circle cx="425.2" cy="688.0" r="0.7" fill="#8a90ac" opacity="0.7"/><circle cx="407.2" cy="658.7" r="0.7" fill="#8a90ac" opacity="0.8"/><circle cx="440.4" cy="719.6" r="0.5" fill="#a9aec4" opacity="0.9"/><circle cx="508.4" cy="639.4" r="0.8" fill="#9aa1ba" opacity="0.9"/><circle cx="505.4" cy="678.9" r="0.7" fill="#b9bdd0" opacity="0.9"/><circle cx="399.5" cy="735.7" r="0.6" fill="#b9bdd0" opacity="0.6"/><circle cx="389.3" cy="731.1" r="0.8" fill="#8a90ac" opacity="0.7"/><circle cx="428.6" cy="719.9" r="0.6" fill="#8a90ac" opacity="0.7"/><circle cx="502.0" cy="728.8" r="0.5" fill="#b9bdd0" opacity="0.7"/><circle cx="396.0" cy="685.8" r="0.8" fill="#9aa1ba" opacity="0.7"/><circle cx="465.2" cy="686.4" r="0.6" fill="#8286a2" opacity="0.7"/><circle cx="410.7" cy="675.5" r="0.8" fill="#8a90ac" opacity="1.0"/><circle cx="467.1" cy="695.0" r="0.8" fill="#8286a2" opacity="0.8"/><circle cx="398.5" cy="711.5" r="0.7" fill="#8286a2" opacity="0.9"/><circle cx="428.1" cy="661.7" r="0.5" fill="#9aa1ba" opacity="0.9"/><circle cx="458.8" cy="730.2" r="0.7" fill="#9aa1ba" opacity="0.9"/><circle cx="413.6" cy="734.8" r="0.5" fill="#a0a3b4" opacity="1.0"/><circle cx="426.8" cy="705.9" r="0.5" fill="#b9bdd0" opacity="0.9"/><circle cx="402.8" cy="719.2" r="0.6" fill="#a0a3b4" opacity="0.8"/><circle cx="444.8" cy="707.8" r="0.6" fill="#9aa1ba" opacity="1.0"/><circle cx="471.9" cy="683.2" r="0.7" fill="#8286a2" opacity="0.7"/><circle cx="488.8" cy="715.7" r="0.5" fill="#9aa1ba" opacity="0.8"/><circle cx="514.5" cy="698.1" r="0.8" fill="#a9aec4" opacity="0.8"/><circle cx="440.5" cy="683.2" r="0.6" fill="#8286a2" opacity="0.8"/><circle cx="400.7" cy="731.5" r="0.7" fill="#8286a2" opacity="0.9"/><circle cx="410.3" cy="730.6" r="0.7" fill="#b9bdd0" opacity="0.7"/><circle cx="481.6" cy="671.1" r="0.5" fill="#a0a3b4" opacity="0.9"/><circle cx="486.0" cy="674.9" r="0.5" fill="#9aa1ba" opacity="0.7"/><circle cx="473.3" cy="705.7" r="0.6" fill="#9aa1ba" opacity="0.6"/><circle cx="453.5" cy="657.2" r="0.7" fill="#8286a2" opacity="0.7"/><circle cx="481.6" cy="679.7" r="0.7" fill="#8a90ac" opacity="0.6"/><circle cx="403.0" cy="684.6" r="0.6" fill="#8286a2" opacity="0.8"/><circle cx="450.9" cy="701.1" r="0.7" fill="#b9bdd0" opacity="0.9"/><circle cx="402.2" cy="639.6" r="0.8" fill="#b9bdd0" opacity="0.7"/><circle cx="432.1" cy="704.7" r="0.7" fill="#b9bdd0" opacity="0.8"/><circle cx="414.6" cy="717.9" r="0.6" fill="#8286a2" opacity="1.0"/><circle cx="400.4" cy="708.2" r="0.8" fill="#8286a2" opacity="0.9"/><circle cx="501.3" cy="655.5" r="0.8" fill="#a0a3b4" opacity="0.8"/><circle cx="402.9" cy="668.8" r="0.8" fill="#b9bdd0" opacity="1.0"/><circle cx="429.5" cy="675.1" r="0.5" fill="#8286a2" opacity="0.6"/><circle cx="473.8" cy="687.6" r="0.5" fill="#b9bdd0" opacity="0.8"/><circle cx="495.6" cy="674.4" r="0.7" fill="#a9aec4" opacity="1.0"/><circle cx="409.9" cy="726.4" r="0.8" fill="#8286a2" opacity="0.7"/><circle cx="389.1" cy="677.5" r="0.8" fill="#b9bdd0" opacity="0.7"/><circle cx="465.5" cy="731.6" r="0.7" fill="#a9aec4" opacity="0.6"/><circle cx="443.1" cy="655.8" r="0.8" fill="#8286a2" opacity="0.7"/><circle cx="418.6" cy="685.5" r="0.5" fill="#a0a3b4" opacity="0.6"/><circle cx="500.2" cy="653.6" r="0.8" fill="#9aa1ba" opacity="0.9"/><circle cx="461.0" cy="699.9" r="0.7" fill="#9aa1ba" opacity="0.9"/><circle cx="447.4" cy="725.7" r="0.8" fill="#a0a3b4" opacity="1.0"/><circle cx="465.4" cy="721.6" r="0.7" fill="#b9bdd0" opacity="0.7"/><circle cx="389.7" cy="647.4" r="0.5" fill="#8a90ac" opacity="0.7"/><circle cx="432.8" cy="729.5" r="0.6" fill="#a9aec4" opacity="0.7"/><circle cx="410.1" cy="729.3" r="0.8" fill="#9aa1ba" opacity="0.9"/><circle cx="435.9" cy="683.5" r="0.7" fill="#8a90ac" opacity="1.0"/><circle cx="448.3" cy="637.8" r="0.5" fill="#8286a2" opacity="0.8"/><circle cx="503.4" cy="650.6" r="0.8" fill="#8a90ac" opacity="0.7"/><circle cx="455.8" cy="705.1" r="0.6" fill="#a9aec4" opacity="0.7"/><circle cx="495.6" cy="733.6" r="0.7" fill="#a9aec4" opacity="0.9"/><circle cx="480.8" cy="685.1" r="0.8" fill="#9aa1ba" opacity="0.7"/><circle cx="474.8" cy="688.4" r="0.6" fill="#8a90ac" opacity="0.9"/><circle cx="513.8" cy="726.8" r="0.8" fill="#9aa1ba" opacity="0.8"/><circle cx="418.4" cy="713.2" r="0.6" fill="#b9bdd0" opacity="1.0"/><circle cx="508.0" cy="659.0" r="0.8" fill="#b9bdd0" opacity="0.9"/><circle cx="415.5" cy="653.8" r="0.5" fill="#8286a2" opacity="0.7"/><circle cx="501.9" cy="706.8" r="0.6" fill="#9aa1ba" opacity="0.6"/><circle cx="429.6" cy="659.0" r="0.5" fill="#9aa1ba" opacity="0.9"/><circle cx="482.0" cy="693.8" r="0.6" fill="#a0a3b4" opacity="0.9"/><circle cx="464.6" cy="735.8" r="0.8" fill="#b9bdd0" opacity="0.9"/><circle cx="436.1" cy="712.9" r="0.5" fill="#8286a2" opacity="0.7"/><circle cx="472.7" cy="684.9" r="0.8" fill="#b9bdd0" opacity="1.0"/><circle cx="510.9" cy="640.6" r="0.5" fill="#8a90ac" opacity="0.8"/><circle cx="433.5" cy="735.7" r="0.5" fill="#8a90ac" opacity="0.9"/><circle cx="418.9" cy="733.1" r="0.5" fill="#9aa1ba" opacity="0.7"/><circle cx="466.8" cy="649.3" r="0.8" fill="#8286a2" opacity="0.8"/><circle cx="419.0" cy="694.0" r="0.8" fill="#8286a2" opacity="0.8"/><circle cx="434.9" cy="675.3" r="0.8" fill="#b9bdd0" opacity="0.7"/><circle cx="513.1" cy="727.5" r="0.5" fill="#a0a3b4" opacity="0.7"/><circle cx="495.5" cy="686.5" r="0.6" fill="#a9aec4" opacity="0.8"/><circle cx="440.3" cy="728.4" r="0.7" fill="#8a90ac" opacity="0.9"/><circle cx="395.0" cy="669.4" r="0.7" fill="#9aa1ba" opacity="0.9"/><circle cx="468.5" cy="697.9" r="0.8" fill="#a0a3b4" opacity="0.8"/><circle cx="458.9" cy="691.6" r="0.5" fill="#a0a3b4" opacity="0.9"/><circle cx="452.3" cy="638.0" r="0.6" fill="#9aa1ba" opacity="0.9"/><circle cx="428.2" cy="660.1" r="0.7" fill="#a0a3b4" opacity="0.6"/><circle cx="405.4" cy="646.2" r="0.8" fill="#8a90ac" opacity="1.0"/><circle cx="434.0" cy="689.9" r="0.7" fill="#8286a2" opacity="0.7"/><circle cx="468.0" cy="654.4" r="0.8" fill="#8286a2" opacity="0.9"/><circle cx="419.0" cy="685.2" r="0.6" fill="#a9aec4" opacity="1.0"/><circle cx="439.4" cy="688.8" r="0.8" fill="#a9aec4" opacity="0.9"/><circle cx="433.8" cy="655.7" r="0.8" fill="#a9aec4" opacity="0.9"/><circle cx="513.0" cy="698.4" r="0.8" fill="#a0a3b4" opacity="1.0"/><circle cx="472.6" cy="649.4" r="0.6" fill="#8286a2" opacity="0.9"/><circle cx="504.2" cy="707.7" r="0.6" fill="#8a90ac" opacity="0.9"/><circle cx="392.8" cy="706.1" r="0.8" fill="#8286a2" opacity="1.0"/><circle cx="410.0" cy="704.3" r="0.6" fill="#b9bdd0" opacity="0.6"/><circle cx="403.7" cy="731.2" r="0.7" fill="#a9aec4" opacity="0.6"/><circle cx="395.3" cy="662.2" r="0.8" fill="#a9aec4" opacity="0.7"/><circle cx="485.9" cy="714.1" r="0.7" fill="#b9bdd0" opacity="0.9"/><circle cx="393.6" cy="721.0" r="0.6" fill="#a9aec4" opacity="0.8"/><circle cx="512.4" cy="716.1" r="0.5" fill="#8286a2" opacity="0.9"/><circle cx="420.7" cy="727.9" r="0.7" fill="#a0a3b4" opacity="0.6"/><circle cx="467.5" cy="674.2" r="0.6" fill="#a0a3b4" opacity="0.8"/><circle cx="464.4" cy="718.1" r="0.6" fill="#8a90ac" opacity="0.9"/><circle cx="436.5" cy="654.5" r="0.8" fill="#a0a3b4" opacity="0.9"/><circle cx="506.7" cy="656.3" r="0.7" fill="#9aa1ba" opacity="1.0"/><circle cx="427.9" cy="690.5" r="0.7" fill="#8a90ac" opacity="0.7"/><circle cx="419.7" cy="709.0" r="0.6" fill="#8a90ac" opacity="0.9"/><circle cx="466.2" cy="673.0" r="0.7" fill="#b9bdd0" opacity="0.7"/><circle cx="473.2" cy="693.9" r="0.8" fill="#a9aec4" opacity="0.6"/><circle cx="426.0" cy="650.2" r="0.8" fill="#8a90ac" opacity="0.8"/><circle cx="416.3" cy="724.1" r="0.8" fill="#a9aec4" opacity="0.8"/><circle cx="510.3" cy="734.7" r="0.7" fill="#8286a2" opacity="0.8"/><circle cx="400.3" cy="650.7" r="0.7" fill="#8a90ac" opacity="0.8"/><circle cx="472.6" cy="640.2" r="0.5" fill="#a0a3b4" opacity="0.7"/><circle cx="500.1" cy="678.5" r="0.7" fill="#9aa1ba" opacity="0.9"/><circle cx="484.5" cy="670.4" r="0.5" fill="#8a90ac" opacity="0.8"/><circle cx="500.3" cy="653.2" r="0.8" fill="#b9bdd0" opacity="0.6"/><circle cx="387.6" cy="694.0" r="0.5" fill="#9aa1ba" opacity="0.7"/><circle cx="481.0" cy="681.4" r="0.7" fill="#a0a3b4" opacity="0.8"/><circle cx="437.4" cy="726.7" r="0.8" fill="#8a90ac" opacity="0.9"/><circle cx="397.4" cy="656.5" r="0.8" fill="#a0a3b4" opacity="0.7"/><circle cx="387.0" cy="657.1" r="0.7" fill="#9aa1ba" opacity="0.7"/><circle cx="402.8" cy="710.7" r="0.8" fill="#8a90ac" opacity="0.9"/><circle cx="509.1" cy="729.9" r="0.5" fill="#a9aec4" opacity="0.7"/><circle cx="509.9" cy="724.7" r="0.8" fill="#a9aec4" opacity="0.8"/><circle cx="481.3" cy="706.5" r="0.5" fill="#8286a2" opacity="0.8"/><circle cx="496.4" cy="685.2" r="0.6" fill="#8286a2" opacity="0.7"/><circle cx="414.4" cy="721.6" r="0.7" fill="#a9aec4" opacity="1.0"/><circle cx="487.1" cy="697.1" r="0.8" fill="#a0a3b4" opacity="0.8"/><circle cx="503.7" cy="689.9" r="0.6" fill="#a9aec4" opacity="0.6"/><circle cx="469.7" cy="735.3" r="0.7" fill="#b9bdd0" opacity="0.9"/><circle cx="392.0" cy="663.1" r="0.6" fill="#8a90ac" opacity="1.0"/><circle cx="502.3" cy="714.2" r="0.7" fill="#8286a2" opacity="0.7"/><circle cx="409.5" cy="725.2" r="0.8" fill="#a9aec4" opacity="1.0"/><circle cx="415.1" cy="717.5" r="0.8" fill="#b9bdd0" opacity="0.8"/><circle cx="431.0" cy="648.4" r="0.5" fill="#8286a2" opacity="0.7"/><circle cx="464.1" cy="652.5" r="0.7" fill="#8286a2" opacity="0.9"/><circle cx="459.3" cy="693.4" r="0.5" fill="#8a90ac" opacity="0.7"/><circle cx="479.0" cy="712.3" r="0.5" fill="#a0a3b4" opacity="0.9"/><circle cx="459.2" cy="705.0" r="0.8" fill="#8286a2" opacity="1.0"/><circle cx="412.3" cy="679.6" r="0.8" fill="#b9bdd0" opacity="0.7"/><circle cx="493.2" cy="700.3" r="0.6" fill="#8286a2" opacity="0.7"/><circle cx="477.8" cy="666.9" r="0.6" fill="#9aa1ba" opacity="0.6"/><circle cx="504.5" cy="731.5" r="0.8" fill="#8a90ac" opacity="0.7"/><circle cx="396.8" cy="650.8" r="0.8" fill="#b9bdd0" opacity="1.0"/><circle cx="413.1" cy="640.8" r="0.5" fill="#a0a3b4" opacity="0.7"/><circle cx="428.5" cy="648.7" r="0.5" fill="#8286a2" opacity="0.6"/><circle cx="503.2" cy="678.1" r="0.5" fill="#b9bdd0" opacity="0.8"/><circle cx="429.9" cy="698.2" r="0.7" fill="#9aa1ba" opacity="0.7"/><circle cx="479.0" cy="720.4" r="0.5" fill="#b9bdd0" opacity="0.7"/><circle cx="465.6" cy="671.7" r="0.7" fill="#8a90ac" opacity="0.7"/><circle cx="441.4" cy="655.8" r="0.8" fill="#a0a3b4" opacity="0.8"/><circle cx="427.7" cy="684.0" r="0.7" fill="#8a90ac" opacity="0.9"/><circle cx="452.0" cy="717.1" r="0.7" fill="#a9aec4" opacity="0.9"/><circle cx="490.0" cy="730.2" r="0.8" fill="#a9aec4" opacity="0.8"/><circle cx="388.7" cy="672.2" r="0.8" fill="#a0a3b4" opacity="0.8"/><circle cx="468.8" cy="695.6" r="0.8" fill="#b9bdd0" opacity="0.9"/><circle cx="476.2" cy="689.4" r="0.7" fill="#a0a3b4" opacity="0.9"/><circle cx="430.7" cy="699.9" r="0.5" fill="#b9bdd0" opacity="0.9"/><circle cx="433.6" cy="640.7" r="0.6" fill="#8286a2" opacity="0.9"/><circle cx="492.3" cy="720.4" r="0.8" fill="#8a90ac" opacity="0.7"/><circle cx="404.5" cy="650.1" r="0.8" fill="#a9aec4" opacity="0.7"/><circle cx="481.2" cy="682.9" r="0.6" fill="#8286a2" opacity="0.7"/><circle cx="463.5" cy="706.3" r="0.5" fill="#a0a3b4" opacity="0.6"/><circle cx="474.5" cy="689.7" r="0.7" fill="#8286a2" opacity="0.9"/><circle cx="498.9" cy="669.3" r="0.5" fill="#b9bdd0" opacity="1.0"/><circle cx="410.4" cy="729.6" r="0.5" fill="#8286a2" opacity="0.9"/><circle cx="481.8" cy="705.4" r="0.6" fill="#8286a2" opacity="0.9"/><circle cx="499.7" cy="646.0" r="0.7" fill="#a9aec4" opacity="0.8"/><circle cx="410.7" cy="719.1" r="0.6" fill="#8286a2" opacity="0.6"/><circle cx="509.6" cy="715.1" r="0.7" fill="#a0a3b4" opacity="0.7"/><circle cx="490.7" cy="728.0" r="0.5" fill="#9aa1ba" opacity="0.7"/><circle cx="486.7" cy="676.6" r="0.5" fill="#a0a3b4" opacity="0.7"/><circle cx="487.5" cy="694.2" r="0.8" fill="#a9aec4" opacity="0.7"/><circle cx="516.8" cy="690.6" r="0.8" fill="#a9aec4" opacity="0.8"/><circle cx="485.1" cy="657.7" r="0.8" fill="#8286a2" opacity="0.9"/><circle cx="495.3" cy="679.0" r="0.7" fill="#9aa1ba" opacity="0.9"/><circle cx="437.6" cy="655.1" r="0.7" fill="#8a90ac" opacity="0.8"/><circle cx="453.3" cy="667.8" r="0.7" fill="#8286a2" opacity="1.0"/><circle cx="462.8" cy="684.5" r="0.8" fill="#a9aec4" opacity="0.6"/><circle cx="456.8" cy="695.5" r="0.5" fill="#a0a3b4" opacity="0.6"/><circle cx="388.0" cy="709.2" r="0.6" fill="#9aa1ba" opacity="0.9"/><circle cx="398.6" cy="692.7" r="0.8" fill="#8a90ac" opacity="1.0"/><circle cx="480.4" cy="662.1" r="0.7" fill="#b9bdd0" opacity="0.6"/><circle cx="402.2" cy="726.3" r="0.6" fill="#a0a3b4" opacity="0.8"/><circle cx="477.3" cy="639.1" r="0.5" fill="#b9bdd0" opacity="0.6"/><circle cx="433.8" cy="706.4" r="0.7" fill="#8a90ac" opacity="0.9"/><circle cx="485.5" cy="690.4" r="0.8" fill="#a9aec4" opacity="0.8"/><circle cx="446.4" cy="653.0" r="0.7" fill="#b9bdd0" opacity="0.9"/><circle cx="503.0" cy="644.9" r="0.6" fill="#8286a2" opacity="0.6"/><circle cx="500.6" cy="671.6" r="0.6" fill="#a0a3b4" opacity="0.8"/><circle cx="394.9" cy="655.7" r="0.6" fill="#a9aec4" opacity="1.0"/><circle cx="472.5" cy="732.8" r="0.6" fill="#9aa1ba" opacity="0.9"/><circle cx="510.1" cy="639.9" r="0.6" fill="#9aa1ba" opacity="1.0"/><circle cx="503.5" cy="649.5" r="0.5" fill="#a9aec4" opacity="0.9"/><circle cx="443.7" cy="717.6" r="0.5" fill="#b9bdd0" opacity="0.7"/><circle cx="501.7" cy="708.7" r="0.7" fill="#a0a3b4" opacity="0.9"/><circle cx="504.7" cy="723.4" r="0.7" fill="#a9aec4" opacity="1.0"/><circle cx="498.6" cy="700.2" r="0.5" fill="#8a90ac" opacity="1.0"/><circle cx="412.0" cy="705.4" r="0.5" fill="#b9bdd0" opacity="0.7"/><circle cx="490.4" cy="674.7" r="0.6" fill="#a0a3b4" opacity="0.7"/><circle cx="466.1" cy="656.0" r="0.7" fill="#a9aec4" opacity="1.0"/><circle cx="478.4" cy="690.9" r="0.7" fill="#9aa1ba" opacity="0.7"/><circle cx="456.4" cy="659.0" r="0.5" fill="#9aa1ba" opacity="0.7"/><circle cx="413.1" cy="676.1" r="0.8" fill="#8286a2" opacity="0.6"/><circle cx="439.1" cy="730.4" r="0.7" fill="#9aa1ba" opacity="0.6"/><circle cx="475.2" cy="719.9" r="0.8" fill="#a0a3b4" opacity="0.9"/><circle cx="491.4" cy="665.3" r="0.7" fill="#a9aec4" opacity="0.9"/><circle cx="483.4" cy="705.1" r="0.5" fill="#a0a3b4" opacity="0.7"/><circle cx="516.4" cy="682.4" r="0.8" fill="#8a90ac" opacity="1.0"/><circle cx="426.4" cy="664.0" r="0.7" fill="#a9aec4" opacity="0.8"/><circle cx="417.0" cy="659.3" r="0.6" fill="#a9aec4" opacity="0.9"/><circle cx="419.3" cy="641.4" r="0.5" fill="#8286a2" opacity="0.8"/><circle cx="490.9" cy="669.2" r="0.6" fill="#8286a2" opacity="0.7"/><circle cx="467.3" cy="692.8" r="0.5" fill="#a0a3b4" opacity="1.0"/><circle cx="491.4" cy="647.9" r="0.5" fill="#9aa1ba" opacity="0.7"/><circle cx="439.4" cy="727.5" r="0.6" fill="#b9bdd0" opacity="0.8"/><circle cx="494.2" cy="658.6" r="0.5" fill="#a9aec4" opacity="1.0"/><circle cx="414.7" cy="690.8" r="0.7" fill="#8a90ac" opacity="0.9"/><circle cx="390.9" cy="646.8" r="0.8" fill="#8286a2" opacity="0.7"/><circle cx="512.4" cy="651.0" r="0.5" fill="#9aa1ba" opacity="0.7"/><circle cx="475.2" cy="692.5" r="0.7" fill="#8a90ac" opacity="0.7"/><circle cx="479.5" cy="657.6" r="0.5" fill="#9aa1ba" opacity="1.0"/><circle cx="408.0" cy="689.8" r="0.6" fill="#8a90ac" opacity="0.6"/><circle cx="469.7" cy="667.8" r="0.5" fill="#b9bdd0" opacity="1.0"/><circle cx="473.6" cy="644.4" r="0.6" fill="#a9aec4" opacity="0.8"/><circle cx="390.0" cy="728.2" r="0.8" fill="#a0a3b4" opacity="0.7"/><circle cx="423.4" cy="694.8" r="0.8" fill="#a0a3b4" opacity="0.9"/><circle cx="443.3" cy="676.1" r="0.7" fill="#a9aec4" opacity="0.8"/><circle cx="415.0" cy="682.7" r="0.8" fill="#b9bdd0" opacity="0.7"/><circle cx="482.4" cy="641.1" r="0.8" fill="#b9bdd0" opacity="0.9"/><circle cx="463.3" cy="723.9" r="0.8" fill="#8a90ac" opacity="1.0"/><circle cx="446.4" cy="699.5" r="0.8" fill="#9aa1ba" opacity="0.6"/><circle cx="427.5" cy="727.5" r="0.6" fill="#9aa1ba" opacity="0.8"/><circle cx="468.3" cy="646.4" r="0.8" fill="#a0a3b4" opacity="0.9"/><circle cx="409.6" cy="709.0" r="0.8" fill="#a0a3b4" opacity="0.8"/><circle cx="436.8" cy="733.9" r="0.8" fill="#a9aec4" opacity="0.8"/><circle cx="503.2" cy="723.4" r="0.7" fill="#a9aec4" opacity="0.9"/><circle cx="474.3" cy="700.9" r="0.5" fill="#a0a3b4" opacity="0.9"/><circle cx="516.5" cy="730.2" r="0.8" fill="#a0a3b4" opacity="0.7"/><circle cx="430.8" cy="711.6" r="0.8" fill="#a0a3b4" opacity="1.0"/><circle cx="411.7" cy="677.1" r="0.7" fill="#a0a3b4" opacity="1.0"/><circle cx="387.1" cy="648.7" r="0.8" fill="#a0a3b4" opacity="0.8"/><circle cx="499.0" cy="637.3" r="0.5" fill="#9aa1ba" opacity="0.7"/><circle cx="485.6" cy="700.2" r="0.6" fill="#9aa1ba" opacity="0.9"/><circle cx="391.1" cy="691.9" r="0.7" fill="#9aa1ba" opacity="1.0"/><circle cx="475.9" cy="674.4" r="0.7" fill="#8286a2" opacity="0.9"/><circle cx="437.1" cy="645.3" r="0.7" fill="#8a90ac" opacity="0.9"/><circle cx="455.4" cy="718.5" r="0.8" fill="#b9bdd0" opacity="0.6"/><circle cx="500.7" cy="655.5" r="0.6" fill="#8a90ac" opacity="0.8"/><circle cx="398.0" cy="639.1" r="0.5" fill="#8286a2" opacity="1.0"/><circle cx="404.3" cy="658.1" r="0.5" fill="#9aa1ba" opacity="0.8"/><circle cx="424.3" cy="711.9" r="0.5" fill="#a0a3b4" opacity="0.9"/><circle cx="398.6" cy="727.7" r="0.6" fill="#8286a2" opacity="0.8"/><circle cx="476.1" cy="654.9" r="0.8" fill="#a0a3b4" opacity="0.7"/><circle cx="464.9" cy="710.0" r="0.5" fill="#8286a2" opacity="0.8"/><circle cx="497.6" cy="646.2" r="0.5" fill="#8286a2" opacity="0.7"/><circle cx="397.7" cy="686.4" r="0.6" fill="#a0a3b4" opacity="0.7"/><circle cx="386.4" cy="715.6" r="0.7" fill="#8286a2" opacity="0.9"/><circle cx="389.5" cy="728.0" r="0.8" fill="#8a90ac" opacity="0.6"/><circle cx="386.3" cy="697.3" r="0.6" fill="#b9bdd0" opacity="0.8"/><circle cx="514.5" cy="683.3" r="0.8" fill="#b9bdd0" opacity="1.0"/><circle cx="445.5" cy="687.0" r="0.5" fill="#8a90ac" opacity="0.6"/><circle cx="461.7" cy="696.3" r="0.5" fill="#8a90ac" opacity="1.0"/><circle cx="481.3" cy="726.2" r="0.7" fill="#8286a2" opacity="1.0"/><circle cx="501.2" cy="716.2" r="0.8" fill="#9aa1ba" opacity="0.8"/><circle cx="476.5" cy="714.9" r="0.5" fill="#8a90ac" opacity="0.9"/><circle cx="429.0" cy="682.7" r="0.7" fill="#a0a3b4" opacity="0.9"/><circle cx="393.5" cy="725.7" r="0.8" fill="#a0a3b4" opacity="0.7"/><circle cx="495.2" cy="734.2" r="0.5" fill="#9aa1ba" opacity="0.7"/><circle cx="471.1" cy="662.7" r="0.7" fill="#9aa1ba" opacity="0.9"/><circle cx="447.6" cy="650.5" r="0.7" fill="#b9bdd0" opacity="0.9"/><circle cx="490.3" cy="669.6" r="0.7" fill="#a0a3b4" opacity="0.9"/><circle cx="434.1" cy="659.7" r="0.6" fill="#a9aec4" opacity="0.6"/><circle cx="440.4" cy="651.6" r="0.8" fill="#9aa1ba" opacity="0.9"/><circle cx="419.5" cy="670.9" r="0.7" fill="#8a90ac" opacity="0.9"/><circle cx="481.8" cy="698.8" r="0.7" fill="#a0a3b4" opacity="1.0"/><circle cx="510.4" cy="647.6" r="0.5" fill="#a9aec4" opacity="0.8"/><circle cx="496.9" cy="674.8" r="0.7" fill="#8286a2" opacity="0.9"/><circle cx="415.6" cy="696.8" r="0.6" fill="#a0a3b4" opacity="0.6"/><circle cx="449.2" cy="678.3" r="0.5" fill="#9aa1ba" opacity="0.8"/><circle cx="464.9" cy="680.2" r="0.7" fill="#8a90ac" opacity="0.9"/><circle cx="473.8" cy="696.2" r="0.8" fill="#8a90ac" opacity="0.6"/><circle cx="499.4" cy="680.5" r="0.7" fill="#a0a3b4" opacity="0.6"/><circle cx="510.9" cy="675.7" r="0.5" fill="#8a90ac" opacity="0.7"/><circle cx="479.6" cy="647.3" r="0.7" fill="#a0a3b4" opacity="0.8"/><circle cx="475.0" cy="653.8" r="0.8" fill="#8a90ac" opacity="0.8"/><circle cx="477.0" cy="686.7" r="0.5" fill="#8286a2" opacity="0.9"/><circle cx="393.9" cy="717.3" r="0.5" fill="#8286a2" opacity="0.7"/><circle cx="399.4" cy="705.3" r="0.6" fill="#8286a2" opacity="0.9"/><circle cx="388.7" cy="679.7" r="0.5" fill="#a9aec4" opacity="0.7"/><circle cx="390.1" cy="654.9" r="0.5" fill="#a9aec4" opacity="0.8"/><circle cx="472.4" cy="732.6" r="0.7" fill="#a0a3b4" opacity="0.8"/><circle cx="452.4" cy="661.4" r="0.8" fill="#a9aec4" opacity="0.8"/><circle cx="428.2" cy="683.3" r="0.6" fill="#8286a2" opacity="0.9"/><circle cx="459.9" cy="698.9" r="0.8" fill="#a0a3b4" opacity="1.0"/><circle cx="511.1" cy="650.4" r="0.7" fill="#8286a2" opacity="0.9"/><circle cx="457.0" cy="725.1" r="0.5" fill="#b9bdd0" opacity="0.7"/><circle cx="474.9" cy="724.1" r="0.8" fill="#8a90ac" opacity="0.7"/><circle cx="427.3" cy="675.8" r="0.6" fill="#8286a2" opacity="0.6"/><circle cx="389.0" cy="679.2" r="0.5" fill="#a9aec4" opacity="0.7"/><circle cx="428.6" cy="680.3" r="0.5" fill="#a0a3b4" opacity="1.0"/><circle cx="440.8" cy="697.8" r="0.7" fill="#9aa1ba" opacity="0.9"/><circle cx="507.6" cy="723.1" r="0.7" fill="#8286a2" opacity="0.7"/><circle cx="465.2" cy="669.3" r="0.8" fill="#8a90ac" opacity="1.0"/><circle cx="400.3" cy="698.2" r="0.8" fill="#8286a2" opacity="0.8"/><circle cx="412.9" cy="649.0" r="0.8" fill="#a9aec4" opacity="0.8"/><circle cx="503.6" cy="706.3" r="0.5" fill="#b9bdd0" opacity="0.7"/><circle cx="508.9" cy="696.2" r="0.7" fill="#b9bdd0" opacity="0.8"/><circle cx="461.0" cy="686.8" r="0.7" fill="#a0a3b4" opacity="0.9"/><circle cx="499.3" cy="687.5" r="0.7" fill="#a9aec4" opacity="0.9"/><circle cx="514.2" cy="661.5" r="0.8" fill="#8286a2" opacity="0.8"/><circle cx="463.2" cy="653.0" r="0.5" fill="#9aa1ba" opacity="0.8"/><circle cx="426.0" cy="713.8" r="0.8" fill="#8286a2" opacity="1.0"/><circle cx="482.4" cy="673.6" r="0.7" fill="#a9aec4" opacity="0.9"/><circle cx="492.4" cy="662.4" r="0.6" fill="#9aa1ba" opacity="0.7"/><circle cx="515.2" cy="656.1" r="0.7" fill="#8a90ac" opacity="0.9"/><circle cx="400.6" cy="656.8" r="0.7" fill="#9aa1ba" opacity="0.9"/><circle cx="469.8" cy="652.0" r="0.8" fill="#8a90ac" opacity="0.9"/><circle cx="501.2" cy="728.0" r="0.8" fill="#b9bdd0" opacity="0.6"/><circle cx="478.9" cy="636.6" r="0.8" fill="#9aa1ba" opacity="0.7"/><circle cx="399.4" cy="673.0" r="0.7" fill="#8286a2" opacity="0.8"/><circle cx="437.6" cy="735.2" r="0.7" fill="#a9aec4" opacity="0.8"/><circle cx="513.4" cy="672.8" r="0.7" fill="#9aa1ba" opacity="0.7"/><circle cx="418.7" cy="700.0" r="0.8" fill="#a9aec4" opacity="0.6"/><circle cx="506.7" cy="694.8" r="0.6" fill="#a0a3b4" opacity="0.7"/><circle cx="385.4" cy="641.9" r="0.7" fill="#8a90ac" opacity="0.6"/><circle cx="384.4" cy="639.8" r="0.7" fill="#9aa1ba" opacity="0.7"/><circle cx="406.4" cy="703.3" r="0.6" fill="#8286a2" opacity="1.0"/><circle cx="511.3" cy="711.5" r="0.7" fill="#8286a2" opacity="0.7"/><circle cx="459.5" cy="657.0" r="0.5" fill="#b9bdd0" opacity="0.9"/><circle cx="450.9" cy="689.7" r="0.7" fill="#9aa1ba" opacity="0.8"/><circle cx="501.4" cy="725.1" r="0.8" fill="#8a90ac" opacity="0.6"/><circle cx="425.2" cy="732.5" r="0.8" fill="#b9bdd0" opacity="0.7"/><circle cx="456.3" cy="662.5" r="0.8" fill="#a9aec4" opacity="0.8"/><circle cx="416.5" cy="656.5" r="0.5" fill="#a0a3b4" opacity="1.0"/><circle cx="468.9" cy="661.4" r="0.7" fill="#8a90ac" opacity="0.9"/><circle cx="497.0" cy="728.2" r="0.7" fill="#9aa1ba" opacity="0.9"/><circle cx="455.5" cy="726.9" r="0.7" fill="#a0a3b4" opacity="0.8"/><circle cx="405.0" cy="718.9" r="0.7" fill="#a9aec4" opacity="0.9"/><circle cx="458.1" cy="668.7" r="0.5" fill="#a9aec4" opacity="0.9"/><circle cx="416.1" cy="722.5" r="0.8" fill="#b9bdd0" opacity="0.8"/><circle cx="399.7" cy="701.7" r="0.8" fill="#a0a3b4" opacity="0.9"/><circle cx="459.7" cy="657.3" r="0.8" fill="#8a90ac" opacity="0.8"/><circle cx="497.5" cy="715.9" r="0.6" fill="#9aa1ba" opacity="0.7"/><circle cx="434.8" cy="656.1" r="0.5" fill="#9aa1ba" opacity="0.7"/><circle cx="436.9" cy="703.3" r="0.8" fill="#9aa1ba" opacity="0.9"/><circle cx="387.0" cy="703.1" r="0.5" fill="#8286a2" opacity="0.7"/><circle cx="429.5" cy="705.9" r="0.8" fill="#8286a2" opacity="0.8"/><circle cx="392.0" cy="664.8" r="0.5" fill="#b9bdd0" opacity="0.7"/><circle cx="492.3" cy="677.4" r="0.7" fill="#9aa1ba" opacity="0.8"/><circle cx="462.1" cy="726.8" r="0.7" fill="#8286a2" opacity="0.7"/><circle cx="423.6" cy="710.7" r="0.7" fill="#8286a2" opacity="1.0"/><circle cx="395.1" cy="735.9" r="0.5" fill="#8286a2" opacity="0.8"/><circle cx="407.6" cy="726.6" r="0.7" fill="#8286a2" opacity="0.6"/><circle cx="399.6" cy="653.2" r="0.8" fill="#a0a3b4" opacity="0.6"/><circle cx="433.9" cy="679.7" r="0.7" fill="#b9bdd0" opacity="1.0"/><circle cx="399.4" cy="687.5" r="0.8" fill="#9aa1ba" opacity="0.9"/><circle cx="485.9" cy="716.8" r="0.6" fill="#a9aec4" opacity="0.9"/><circle cx="458.1" cy="713.7" r="0.5" fill="#a0a3b4" opacity="0.7"/><circle cx="478.9" cy="722.4" r="0.8" fill="#9aa1ba" opacity="0.9"/><circle cx="389.2" cy="692.3" r="0.5" fill="#b9bdd0" opacity="0.6"/><circle cx="505.9" cy="695.6" r="0.6" fill="#9aa1ba" opacity="0.7"/><circle cx="487.9" cy="642.8" r="0.7" fill="#8286a2" opacity="0.9"/><circle cx="415.4" cy="700.6" r="0.5" fill="#a0a3b4" opacity="0.9"/><circle cx="515.4" cy="706.0" r="0.6" fill="#9aa1ba" opacity="0.7"/><circle cx="399.2" cy="675.2" r="0.5" fill="#a0a3b4" opacity="0.8"/><circle cx="434.0" cy="707.6" r="0.8" fill="#9aa1ba" opacity="0.9"/><circle cx="489.5" cy="715.9" r="0.7" fill="#9aa1ba" opacity="0.9"/><circle cx="425.6" cy="674.3" r="0.5" fill="#a0a3b4" opacity="0.8"/><circle cx="420.5" cy="644.5" r="0.6" fill="#b9bdd0" opacity="0.9"/><circle cx="401.4" cy="659.4" r="0.6" fill="#8286a2" opacity="0.8"/><circle cx="466.7" cy="639.2" r="0.7" fill="#b9bdd0" opacity="0.7"/><circle cx="465.5" cy="645.9" r="0.8" fill="#b9bdd0" opacity="0.9"/><circle cx="495.5" cy="725.5" r="0.6" fill="#b9bdd0" opacity="1.0"/><circle cx="389.9" cy="726.6" r="0.6" fill="#a0a3b4" opacity="0.9"/><circle cx="386.7" cy="686.5" r="0.8" fill="#9aa1ba" opacity="0.7"/><circle cx="491.7" cy="715.7" r="0.5" fill="#8286a2" opacity="1.0"/><circle cx="412.9" cy="683.6" r="0.8" fill="#9aa1ba" opacity="1.0"/><circle cx="398.9" cy="665.5" r="0.6" fill="#b9bdd0" opacity="0.9"/><circle cx="486.5" cy="695.6" r="0.5" fill="#9aa1ba" opacity="0.7"/><circle cx="517.3" cy="691.2" r="0.8" fill="#a0a3b4" opacity="0.8"/><circle cx="442.7" cy="701.1" r="0.6" fill="#b9bdd0" opacity="1.0"/><circle cx="401.4" cy="721.8" r="0.8" fill="#a9aec4" opacity="0.6"/><circle cx="442.1" cy="636.3" r="0.6" fill="#8a90ac" opacity="0.9"/><circle cx="490.2" cy="734.6" r="0.5" fill="#8a90ac" opacity="0.6"/><circle cx="399.2" cy="720.6" r="0.5" fill="#8286a2" opacity="0.8"/><circle cx="457.5" cy="706.3" r="0.6" fill="#8286a2" opacity="0.9"/><circle cx="515.3" cy="705.1" r="0.6" fill="#9aa1ba" opacity="0.7"/><circle cx="482.6" cy="726.0" r="0.8" fill="#9aa1ba" opacity="0.7"/><circle cx="442.9" cy="652.1" r="0.5" fill="#b9bdd0" opacity="0.7"/><circle cx="396.6" cy="713.6" r="0.6" fill="#8286a2" opacity="0.9"/><circle cx="417.6" cy="713.5" r="0.7" fill="#9aa1ba" opacity="0.7"/><circle cx="395.6" cy="693.5" r="0.8" fill="#a0a3b4" opacity="1.0"/><circle cx="440.2" cy="688.9" r="0.5" fill="#9aa1ba" opacity="0.6"/><circle cx="409.2" cy="681.6" r="0.7" fill="#9aa1ba" opacity="0.8"/><circle cx="392.6" cy="730.9" r="0.5" fill="#8a90ac" opacity="0.9"/><circle cx="426.6" cy="669.5" r="0.7" fill="#a0a3b4" opacity="0.8"/><circle cx="456.4" cy="662.9" r="0.7" fill="#9aa1ba" opacity="0.7"/><circle cx="440.1" cy="682.3" r="0.6" fill="#8a90ac" opacity="0.8"/><circle cx="431.7" cy="668.6" r="0.6" fill="#9aa1ba" opacity="0.7"/><circle cx="408.9" cy="700.2" r="0.8" fill="#8286a2" opacity="0.7"/><circle cx="393.2" cy="700.0" r="0.8" fill="#b9bdd0" opacity="0.8"/><circle cx="411.4" cy="671.9" r="0.6" fill="#8a90ac" opacity="0.9"/><circle cx="470.9" cy="704.6" r="0.7" fill="#8a90ac" opacity="0.9"/><circle cx="509.5" cy="636.8" r="0.6" fill="#b9bdd0" opacity="0.7"/><circle cx="416.3" cy="727.4" r="0.5" fill="#8a90ac" opacity="0.8"/><circle cx="421.0" cy="642.9" r="0.8" fill="#8286a2" opacity="0.9"/><circle cx="402.7" cy="684.3" r="0.5" fill="#9aa1ba" opacity="0.8"/><circle cx="410.3" cy="732.8" r="0.5" fill="#a9aec4" opacity="0.7"/><circle cx="453.0" cy="729.0" r="0.8" fill="#b9bdd0" opacity="0.9"/><circle cx="477.2" cy="666.2" r="0.7" fill="#8a90ac" opacity="0.7"/><circle cx="409.9" cy="709.9" r="0.8" fill="#b9bdd0" opacity="0.8"/><circle cx="458.7" cy="720.3" r="0.5" fill="#8a90ac" opacity="0.7"/><circle cx="463.9" cy="706.4" r="0.7" fill="#8a90ac" opacity="0.7"/><circle cx="411.6" cy="699.3" r="0.5" fill="#a0a3b4" opacity="0.9"/><circle cx="447.9" cy="680.0" r="0.6" fill="#8286a2" opacity="0.7"/><circle cx="460.9" cy="708.2" r="0.5" fill="#8a90ac" opacity="0.7"/><circle cx="403.4" cy="641.6" r="0.7" fill="#a9aec4" opacity="0.8"/><circle cx="430.8" cy="724.4" r="0.6" fill="#8a90ac" opacity="0.8"/><circle cx="394.1" cy="715.7" r="0.5" fill="#8286a2" opacity="0.6"/><circle cx="396.1" cy="651.8" r="0.8" fill="#8a90ac" opacity="1.0"/><circle cx="512.2" cy="710.6" r="0.5" fill="#8a90ac" opacity="0.9"/><circle cx="481.6" cy="708.9" r="0.8" fill="#a9aec4" opacity="0.7"/><circle cx="414.5" cy="735.2" r="0.6" fill="#a0a3b4" opacity="0.8"/><circle cx="452.7" cy="665.2" r="0.7" fill="#a0a3b4" opacity="1.0"/><circle cx="476.8" cy="671.3" r="0.7" fill="#a9aec4" opacity="0.8"/><circle cx="497.7" cy="686.4" r="0.5" fill="#9aa1ba" opacity="0.9"/><circle cx="486.7" cy="726.2" r="0.8" fill="#9aa1ba" opacity="0.9"/><circle cx="395.5" cy="656.2" r="0.8" fill="#9aa1ba" opacity="0.8"/><circle cx="492.4" cy="682.6" r="0.7" fill="#b9bdd0" opacity="0.9"/><circle cx="413.2" cy="670.5" r="0.7" fill="#a0a3b4" opacity="0.8"/><circle cx="395.8" cy="719.0" r="0.5" fill="#a9aec4" opacity="1.0"/><circle cx="497.5" cy="679.8" r="0.5" fill="#a0a3b4" opacity="0.9"/><circle cx="478.5" cy="724.3" r="0.7" fill="#a0a3b4" opacity="0.6"/><circle cx="400.7" cy="667.2" r="0.7" fill="#8286a2" opacity="0.7"/><circle cx="502.4" cy="685.8" r="0.8" fill="#8a90ac" opacity="0.7"/><circle cx="392.2" cy="729.6" r="0.7" fill="#a0a3b4" opacity="0.8"/><circle cx="486.1" cy="652.7" r="0.8" fill="#9aa1ba" opacity="0.9"/><circle cx="440.9" cy="647.2" r="0.6" fill="#a9aec4" opacity="1.0"/><circle cx="393.0" cy="678.1" r="0.8" fill="#8286a2" opacity="0.8"/><circle cx="505.1" cy="678.6" r="0.7" fill="#9aa1ba" opacity="0.8"/><circle cx="409.6" cy="691.4" r="0.7" fill="#8a90ac" opacity="0.6"/><circle cx="444.1" cy="659.3" r="0.7" fill="#9aa1ba" opacity="0.8"/><circle cx="467.0" cy="636.9" r="0.5" fill="#8286a2" opacity="0.6"/><circle cx="490.8" cy="695.2" r="0.5" fill="#a0a3b4" opacity="0.9"/><circle cx="416.2" cy="648.9" r="0.7" fill="#8a90ac" opacity="0.7"/><circle cx="449.1" cy="648.6" r="0.8" fill="#8286a2" opacity="1.0"/><circle cx="495.3" cy="701.3" r="0.8" fill="#8286a2" opacity="0.9"/><circle cx="500.5" cy="686.1" r="0.8" fill="#8a90ac" opacity="0.8"/><circle cx="445.9" cy="709.9" r="0.5" fill="#8286a2" opacity="0.9"/><circle cx="474.8" cy="647.4" r="0.7" fill="#9aa1ba" opacity="0.7"/><circle cx="393.2" cy="642.3" r="0.5" fill="#8a90ac" opacity="0.7"/><circle cx="450.7" cy="716.9" r="0.8" fill="#b9bdd0" opacity="0.7"/><circle cx="444.3" cy="728.7" r="0.6" fill="#9aa1ba" opacity="0.9"/><circle cx="460.3" cy="646.9" r="0.6" fill="#a9aec4" opacity="0.7"/><circle cx="396.5" cy="716.5" r="0.8" fill="#a0a3b4" opacity="0.7"/><circle cx="477.9" cy="714.5" r="0.5" fill="#8286a2" opacity="0.7"/><circle cx="423.0" cy="712.8" r="0.8" fill="#a0a3b4" opacity="0.7"/><circle cx="482.6" cy="706.0" r="0.7" fill="#b9bdd0" opacity="0.8"/><circle cx="465.0" cy="725.9" r="0.7" fill="#a0a3b4" opacity="0.9"/><circle cx="467.0" cy="714.7" r="0.6" fill="#a0a3b4" opacity="0.9"/><circle cx="440.3" cy="710.3" r="0.6" fill="#8a90ac" opacity="0.9"/><circle cx="444.1" cy="685.1" r="0.7" fill="#a0a3b4" opacity="1.0"/><circle cx="461.6" cy="727.0" r="0.6" fill="#9aa1ba" opacity="0.8"/><circle cx="446.9" cy="636.4" r="0.5" fill="#a0a3b4" opacity="1.0"/><circle cx="483.6" cy="695.9" r="0.6" fill="#a0a3b4" opacity="0.7"/><circle cx="434.2" cy="660.7" r="0.7" fill="#9aa1ba" opacity="0.8"/><circle cx="484.9" cy="717.6" r="0.5" fill="#9aa1ba" opacity="0.8"/><circle cx="490.9" cy="653.7" r="0.8" fill="#8286a2" opacity="0.7"/><circle cx="448.2" cy="715.9" r="0.7" fill="#9aa1ba" opacity="0.9"/><circle cx="506.7" cy="666.5" r="0.5" fill="#a0a3b4" opacity="1.0"/><circle cx="454.6" cy="724.0" r="0.6" fill="#a0a3b4" opacity="0.7"/><circle cx="385.0" cy="725.5" r="0.7" fill="#8a90ac" opacity="1.0"/><circle cx="493.6" cy="637.5" r="0.7" fill="#a0a3b4" opacity="0.9"/><circle cx="510.0" cy="666.6" r="0.5" fill="#a9aec4" opacity="0.8"/><circle cx="387.4" cy="708.4" r="0.8" fill="#8a90ac" opacity="0.9"/><circle cx="449.6" cy="656.6" r="0.8" fill="#a9aec4" opacity="0.9"/><circle cx="507.7" cy="716.9" r="0.7" fill="#b9bdd0" opacity="0.8"/><circle cx="389.8" cy="682.7" r="0.6" fill="#8286a2" opacity="0.8"/><circle cx="444.8" cy="651.7" r="0.7" fill="#8a90ac" opacity="0.7"/><circle cx="456.9" cy="640.8" r="0.7" fill="#9aa1ba" opacity="0.7"/><circle cx="396.3" cy="647.8" r="0.6" fill="#a9aec4" opacity="0.7"/><circle cx="485.1" cy="675.2" r="0.7" fill="#8286a2" opacity="0.8"/><circle cx="433.7" cy="718.9" r="0.7" fill="#9aa1ba" opacity="0.6"/><circle cx="450.5" cy="684.3" r="0.5" fill="#8a90ac" opacity="0.9"/><circle cx="397.4" cy="730.3" r="0.7" fill="#8286a2" opacity="1.0"/><circle cx="481.5" cy="687.0" r="0.6" fill="#8286a2" opacity="0.7"/><circle cx="399.5" cy="668.8" r="0.5" fill="#9aa1ba" opacity="0.7"/><circle cx="489.8" cy="734.0" r="0.5" fill="#a9aec4" opacity="0.9"/><circle cx="406.3" cy="692.8" r="0.8" fill="#8286a2" opacity="1.0"/><circle cx="505.6" cy="642.6" r="0.7" fill="#b9bdd0" opacity="0.6"/><circle cx="447.7" cy="721.0" r="0.5" fill="#a9aec4" opacity="0.7"/><circle cx="388.7" cy="641.2" r="0.6" fill="#8286a2" opacity="0.6"/><circle cx="510.0" cy="695.5" r="0.6" fill="#8a90ac" opacity="0.8"/><circle cx="453.0" cy="705.4" r="0.7" fill="#a9aec4" opacity="1.0"/><circle cx="496.7" cy="639.7" r="0.5" fill="#8a90ac" opacity="0.8"/><circle cx="465.0" cy="667.4" r="0.5" fill="#a0a3b4" opacity="0.7"/><circle cx="494.5" cy="714.4" r="0.6" fill="#8a90ac" opacity="0.8"/><circle cx="466.1" cy="714.7" r="0.5" fill="#a0a3b4" opacity="1.0"/><circle cx="468.4" cy="733.4" r="0.5" fill="#a0a3b4" opacity="0.6"/><circle cx="478.7" cy="664.7" r="0.8" fill="#a9aec4" opacity="0.8"/><circle cx="508.8" cy="644.6" r="0.8" fill="#a0a3b4" opacity="0.8"/><circle cx="409.0" cy="656.2" r="0.5" fill="#9aa1ba" opacity="0.7"/><circle cx="405.3" cy="651.7" r="0.5" fill="#a0a3b4" opacity="0.9"/><circle cx="425.6" cy="700.6" r="0.5" fill="#a9aec4" opacity="0.7"/><circle cx="418.5" cy="648.1" r="0.7" fill="#a0a3b4" opacity="0.6"/><circle cx="429.3" cy="703.0" r="0.5" fill="#a9aec4" opacity="0.6"/><circle cx="454.8" cy="727.2" r="0.6" fill="#b9bdd0" opacity="0.7"/><circle cx="492.9" cy="725.4" r="0.6" fill="#8286a2" opacity="0.6"/><circle cx="437.9" cy="688.5" r="0.7" fill="#a0a3b4" opacity="1.0"/><circle cx="483.6" cy="640.5" r="0.8" fill="#a0a3b4" opacity="0.8"/><circle cx="484.1" cy="636.5" r="0.8" fill="#9aa1ba" opacity="0.8"/><circle cx="397.9" cy="719.5" r="0.6" fill="#a9aec4" opacity="1.0"/><circle cx="427.3" cy="716.2" r="0.8" fill="#b9bdd0" opacity="0.9"/><circle cx="397.5" cy="659.8" r="0.5" fill="#8286a2" opacity="0.8"/><circle cx="433.7" cy="729.3" r="0.5" fill="#8286a2" opacity="1.0"/><circle cx="464.5" cy="642.3" r="0.7" fill="#8a90ac" opacity="0.7"/><circle cx="510.0" cy="653.1" r="0.6" fill="#b9bdd0" opacity="0.7"/><circle cx="461.9" cy="658.3" r="0.8" fill="#8286a2" opacity="0.7"/><circle cx="445.6" cy="682.2" r="0.6" fill="#a9aec4" opacity="0.8"/><circle cx="480.4" cy="728.4" r="0.8" fill="#b9bdd0" opacity="1.0"/><circle cx="429.7" cy="712.0" r="0.6" fill="#b9bdd0" opacity="0.6"/><circle cx="504.8" cy="667.2" r="0.8" fill="#8a90ac" opacity="1.0"/><circle cx="468.4" cy="664.3" r="0.8" fill="#a0a3b4" opacity="0.7"/><circle cx="481.0" cy="691.9" r="0.6" fill="#a0a3b4" opacity="0.9"/><circle cx="483.1" cy="711.9" r="0.7" fill="#a9aec4" opacity="1.0"/><circle cx="488.1" cy="735.3" r="0.5" fill="#a9aec4" opacity="0.7"/><circle cx="501.6" cy="735.7" r="0.7" fill="#a9aec4" opacity="1.0"/><circle cx="397.9" cy="649.9" r="0.5" fill="#a9aec4" opacity="0.8"/><circle cx="507.6" cy="705.0" r="0.8" fill="#a9aec4" opacity="0.8"/><circle cx="460.7" cy="674.2" r="0.8" fill="#b9bdd0" opacity="0.7"/><circle cx="386.0" cy="706.2" r="0.5" fill="#8286a2" opacity="0.9"/><circle cx="443.0" cy="702.8" r="0.7" fill="#b9bdd0" opacity="0.7"/><circle cx="503.0" cy="727.7" r="0.6" fill="#8286a2" opacity="0.7"/><circle cx="464.2" cy="685.6" r="0.8" fill="#8286a2" opacity="0.9"/><circle cx="403.6" cy="650.4" r="0.6" fill="#8a90ac" opacity="0.8"/><circle cx="420.0" cy="679.1" r="0.7" fill="#8286a2" opacity="0.8"/><circle cx="385.2" cy="691.0" r="0.8" fill="#9aa1ba" opacity="0.8"/><circle cx="411.0" cy="656.7" r="0.6" fill="#a0a3b4" opacity="1.0"/><circle cx="445.2" cy="671.4" r="0.6" fill="#a0a3b4" opacity="0.6"/><circle cx="451.0" cy="713.6" r="0.5" fill="#b9bdd0" opacity="0.8"/><circle cx="446.2" cy="731.9" r="0.5" fill="#8a90ac" opacity="0.7"/><circle cx="392.0" cy="732.3" r="0.6" fill="#8a90ac" opacity="0.8"/><circle cx="399.1" cy="681.6" r="0.8" fill="#b9bdd0" opacity="0.8"/><circle cx="462.4" cy="653.6" r="0.6" fill="#b9bdd0" opacity="1.0"/><circle cx="406.8" cy="644.8" r="0.8" fill="#b9bdd0" opacity="0.8"/><circle cx="512.5" cy="695.5" r="0.8" fill="#9aa1ba" opacity="0.6"/><circle cx="387.9" cy="728.3" r="0.6" fill="#8a90ac" opacity="0.9"/><circle cx="384.6" cy="655.6" r="0.7" fill="#8286a2" opacity="0.9"/><circle cx="477.9" cy="656.2" r="0.8" fill="#a9aec4" opacity="0.7"/><circle cx="467.1" cy="659.6" r="0.8" fill="#b9bdd0" opacity="0.9"/><circle cx="406.4" cy="664.6" r="0.7" fill="#b9bdd0" opacity="1.0"/><circle cx="391.9" cy="672.5" r="0.6" fill="#9aa1ba" opacity="1.0"/><circle cx="503.8" cy="735.1" r="0.7" fill="#8286a2" opacity="0.7"/><circle cx="468.3" cy="696.6" r="0.5" fill="#a0a3b4" opacity="0.8"/><circle cx="423.8" cy="703.5" r="0.5" fill="#a9aec4" opacity="0.8"/><circle cx="439.9" cy="656.8" r="0.5" fill="#b9bdd0" opacity="0.7"/><circle cx="502.2" cy="725.4" r="0.5" fill="#a9aec4" opacity="0.9"/><circle cx="410.5" cy="716.9" r="0.7" fill="#8286a2" opacity="0.8"/><circle cx="441.3" cy="715.4" r="0.8" fill="#a9aec4" opacity="0.9"/><circle cx="485.0" cy="645.0" r="0.5" fill="#8286a2" opacity="0.8"/><circle cx="390.9" cy="642.4" r="0.5" fill="#b9bdd0" opacity="0.9"/><circle cx="440.9" cy="726.1" r="0.7" fill="#b9bdd0" opacity="0.9"/><circle cx="403.8" cy="648.1" r="0.7" fill="#a9aec4" opacity="0.9"/><circle cx="477.9" cy="665.7" r="0.5" fill="#a9aec4" opacity="0.8"/><circle cx="431.9" cy="672.8" r="0.7" fill="#a9aec4" opacity="0.7"/><circle cx="465.9" cy="700.1" r="0.6" fill="#8286a2" opacity="0.8"/><circle cx="426.3" cy="716.0" r="0.5" fill="#a0a3b4" opacity="0.9"/><circle cx="502.5" cy="686.6" r="0.8" fill="#8a90ac" opacity="0.8"/><circle cx="488.3" cy="724.7" r="0.5" fill="#a0a3b4" opacity="0.9"/><circle cx="414.1" cy="681.8" r="0.7" fill="#9aa1ba" opacity="0.7"/><circle cx="417.1" cy="679.7" r="0.6" fill="#8a90ac" opacity="0.6"/><circle cx="450.8" cy="725.1" r="0.5" fill="#a0a3b4" opacity="0.9"/><circle cx="464.5" cy="693.2" r="0.5" fill="#a0a3b4" opacity="0.6"/><circle cx="397.8" cy="656.5" r="0.7" fill="#a9aec4" opacity="0.8"/><circle cx="419.0" cy="712.4" r="0.7" fill="#a0a3b4" opacity="0.8"/><circle cx="469.6" cy="700.1" r="0.6" fill="#a0a3b4" opacity="0.9"/><circle cx="387.7" cy="726.9" r="0.8" fill="#9aa1ba" opacity="0.9"/><circle cx="411.8" cy="734.9" r="0.6" fill="#a0a3b4" opacity="0.6"/><circle cx="428.5" cy="705.8" r="0.5" fill="#9aa1ba" opacity="1.0"/><circle cx="516.8" cy="694.3" r="0.5" fill="#8a90ac" opacity="0.8"/><circle cx="500.0" cy="712.3" r="0.7" fill="#b9bdd0" opacity="0.8"/><circle cx="511.8" cy="666.5" r="0.6" fill="#8286a2" opacity="0.9"/><circle cx="402.3" cy="714.7" r="0.8" fill="#8286a2" opacity="1.0"/><circle cx="440.2" cy="728.6" r="0.5" fill="#b9bdd0" opacity="0.7"/><circle cx="517.0" cy="645.0" r="0.8" fill="#8286a2" opacity="0.8"/><circle cx="484.2" cy="680.6" r="0.8" fill="#8286a2" opacity="0.9"/><circle cx="487.7" cy="713.6" r="0.6" fill="#a0a3b4" opacity="0.8"/><circle cx="422.6" cy="703.0" r="0.7" fill="#9aa1ba" opacity="0.7"/><circle cx="410.6" cy="734.7" r="0.7" fill="#8a90ac" opacity="0.8"/><circle cx="508.2" cy="675.5" r="0.6" fill="#8286a2" opacity="1.0"/><circle cx="390.1" cy="655.1" r="0.8" fill="#8286a2" opacity="0.6"/><circle cx="423.1" cy="725.6" r="0.7" fill="#a9aec4" opacity="0.7"/><circle cx="388.6" cy="725.4" r="0.8" fill="#a0a3b4" opacity="1.0"/><circle cx="471.9" cy="714.7" r="0.6" fill="#a9aec4" opacity="0.8"/><circle cx="415.2" cy="675.5" r="0.5" fill="#a9aec4" opacity="1.0"/><circle cx="504.8" cy="705.0" r="0.5" fill="#a9aec4" opacity="0.8"/><circle cx="463.0" cy="694.4" r="0.6" fill="#9aa1ba" opacity="0.7"/><circle cx="432.4" cy="664.2" r="0.8" fill="#8286a2" opacity="0.8"/><circle cx="414.3" cy="724.3" r="0.7" fill="#8286a2" opacity="0.8"/><circle cx="422.9" cy="677.8" r="0.7" fill="#b9bdd0" opacity="0.9"/><circle cx="398.7" cy="661.7" r="0.7" fill="#a0a3b4" opacity="0.7"/><circle cx="430.6" cy="639.2" r="0.7" fill="#9aa1ba" opacity="0.7"/><circle cx="474.2" cy="669.8" r="0.6" fill="#b9bdd0" opacity="0.6"/><circle cx="471.4" cy="685.7" r="0.6" fill="#b9bdd0" opacity="0.7"/><circle cx="387.6" cy="723.0" r="0.6" fill="#a9aec4" opacity="0.7"/><circle cx="411.3" cy="699.1" r="0.7" fill="#a0a3b4" opacity="0.7"/><circle cx="434.1" cy="710.0" r="0.5" fill="#9aa1ba" opacity="0.9"/><circle cx="438.0" cy="720.3" r="0.6" fill="#a9aec4" opacity="1.0"/><circle cx="481.2" cy="638.2" r="0.5" fill="#8286a2" opacity="0.6"/><circle cx="469.3" cy="666.3" r="0.8" fill="#9aa1ba" opacity="0.6"/><circle cx="410.4" cy="702.7" r="0.7" fill="#a9aec4" opacity="0.9"/><circle cx="427.6" cy="699.6" r="0.6" fill="#9aa1ba" opacity="0.9"/><circle cx="513.5" cy="701.7" r="0.6" fill="#a0a3b4" opacity="0.7"/><circle cx="385.9" cy="726.3" r="0.8" fill="#9aa1ba" opacity="0.6"/><circle cx="421.3" cy="733.1" r="0.7" fill="#8a90ac" opacity="0.8"/><circle cx="403.1" cy="718.5" r="0.6" fill="#8a90ac" opacity="1.0"/><circle cx="483.8" cy="642.1" r="0.7" fill="#8a90ac" opacity="0.8"/><circle cx="401.5" cy="641.3" r="0.7" fill="#8a90ac" opacity="0.7"/><circle cx="494.8" cy="656.4" r="0.5" fill="#a0a3b4" opacity="1.0"/><circle cx="408.1" cy="670.7" r="0.7" fill="#8a90ac" opacity="0.9"/><circle cx="509.2" cy="646.8" r="0.5" fill="#b9bdd0" opacity="0.8"/><circle cx="497.3" cy="699.8" r="0.6" fill="#9aa1ba" opacity="0.6"/><circle cx="491.5" cy="643.1" r="0.8" fill="#8a90ac" opacity="0.7"/><circle cx="456.2" cy="728.3" r="0.5" fill="#b9bdd0" opacity="0.7"/><circle cx="388.7" cy="683.0" r="0.8" fill="#a0a3b4" opacity="0.6"/><circle cx="384.8" cy="666.7" r="0.6" fill="#a9aec4" opacity="1.0"/><circle cx="410.3" cy="689.4" r="0.6" fill="#b9bdd0" opacity="0.8"/><circle cx="432.0" cy="732.9" r="0.7" fill="#a9aec4" opacity="0.8"/><circle cx="498.6" cy="667.1" r="0.5" fill="#a0a3b4" opacity="0.7"/><circle cx="390.0" cy="658.3" r="0.6" fill="#a9aec4" opacity="0.7"/><circle cx="400.6" cy="648.0" r="0.8" fill="#b9bdd0" opacity="0.7"/><circle cx="503.2" cy="652.2" r="0.6" fill="#a0a3b4" opacity="0.8"/><circle cx="416.5" cy="647.3" r="0.8" fill="#9aa1ba" opacity="0.8"/><circle cx="397.5" cy="667.9" r="0.6" fill="#8286a2" opacity="0.9"/><circle cx="475.0" cy="649.9" r="0.5" fill="#9aa1ba" opacity="0.7"/><circle cx="489.1" cy="661.0" r="0.5" fill="#a0a3b4" opacity="0.7"/><circle cx="441.2" cy="712.0" r="0.8" fill="#b9bdd0" opacity="0.8"/><circle cx="448.7" cy="647.9" r="0.7" fill="#8286a2" opacity="0.6"/><circle cx="470.9" cy="671.3" r="0.8" fill="#a9aec4" opacity="1.0"/><circle cx="396.2" cy="659.9" r="0.7" fill="#8286a2" opacity="0.7"/><circle cx="480.3" cy="700.8" r="0.8" fill="#a9aec4" opacity="0.6"/><circle cx="422.2" cy="693.9" r="0.7" fill="#b9bdd0" opacity="1.0"/><circle cx="391.5" cy="697.1" r="0.8" fill="#b9bdd0" opacity="0.7"/><circle cx="435.8" cy="669.1" r="0.8" fill="#b9bdd0" opacity="0.7"/><circle cx="408.5" cy="669.6" r="0.5" fill="#a0a3b4" opacity="0.6"/><circle cx="484.9" cy="730.4" r="0.7" fill="#b9bdd0" opacity="1.0"/><circle cx="459.6" cy="675.0" r="0.5" fill="#9aa1ba" opacity="0.6"/><circle cx="422.3" cy="699.1" r="0.5" fill="#9aa1ba" opacity="0.8"/><circle cx="401.5" cy="658.2" r="0.6" fill="#8286a2" opacity="0.7"/><circle cx="503.7" cy="649.8" r="0.6" fill="#8286a2" opacity="0.9"/><circle cx="470.5" cy="701.7" r="0.7" fill="#a0a3b4" opacity="0.6"/><circle cx="473.9" cy="638.0" r="0.5" fill="#9aa1ba" opacity="0.8"/><circle cx="412.4" cy="655.5" r="0.8" fill="#8286a2" opacity="0.8"/><circle cx="484.5" cy="638.9" r="0.7" fill="#8286a2" opacity="0.8"/><circle cx="400.5" cy="687.2" r="0.8" fill="#8286a2" opacity="0.9"/><circle cx="482.1" cy="709.2" r="0.7" fill="#b9bdd0" opacity="0.9"/><circle cx="507.0" cy="666.3" r="0.7" fill="#a0a3b4" opacity="0.7"/><circle cx="458.1" cy="723.6" r="0.7" fill="#8286a2" opacity="0.8"/><circle cx="385.7" cy="693.1" r="0.7" fill="#b9bdd0" opacity="0.7"/><circle cx="389.7" cy="719.7" r="0.6" fill="#a0a3b4" opacity="0.9"/><circle cx="456.9" cy="649.0" r="0.6" fill="#b9bdd0" opacity="0.9"/><circle cx="443.5" cy="670.9" r="0.7" fill="#9aa1ba" opacity="0.8"/><circle cx="497.1" cy="670.9" r="0.5" fill="#8a90ac" opacity="0.6"/><circle cx="481.5" cy="702.8" r="0.8" fill="#b9bdd0" opacity="0.9"/><circle cx="465.2" cy="658.6" r="0.7" fill="#8a90ac" opacity="0.9"/><circle cx="421.7" cy="672.3" r="0.8" fill="#a0a3b4" opacity="0.9"/><circle cx="488.4" cy="637.5" r="0.8" fill="#a9aec4" opacity="0.6"/><circle cx="478.5" cy="712.6" r="0.6" fill="#9aa1ba" opacity="0.9"/><circle cx="504.1" cy="689.2" r="0.8" fill="#9aa1ba" opacity="0.7"/><circle cx="475.8" cy="697.0" r="0.7" fill="#a9aec4" opacity="0.6"/><circle cx="440.9" cy="732.2" r="0.5" fill="#b9bdd0" opacity="0.9"/><circle cx="493.0" cy="687.0" r="0.6" fill="#a0a3b4" opacity="0.9"/><circle cx="488.5" cy="710.4" r="0.5" fill="#9aa1ba" opacity="0.7"/><circle cx="400.3" cy="715.8" r="0.8" fill="#a9aec4" opacity="0.7"/><circle cx="461.6" cy="693.0" r="0.5" fill="#9aa1ba" opacity="0.8"/><circle cx="448.9" cy="646.6" r="0.6" fill="#b9bdd0" opacity="0.7"/><circle cx="404.8" cy="683.1" r="0.5" fill="#a0a3b4" opacity="0.9"/><circle cx="485.1" cy="645.7" r="0.5" fill="#8a90ac" opacity="0.8"/><circle cx="424.6" cy="725.1" r="0.5" fill="#9aa1ba" opacity="0.7"/><circle cx="451.5" cy="669.2" r="0.5" fill="#b9bdd0" opacity="0.8"/><circle cx="451.0" cy="695.0" r="0.8" fill="#b9bdd0" opacity="0.7"/><circle cx="444.5" cy="674.6" r="0.5" fill="#a0a3b4" opacity="0.6"/><circle cx="423.2" cy="692.8" r="0.5" fill="#8286a2" opacity="0.8"/><circle cx="517.4" cy="699.9" r="0.5" fill="#a9aec4" opacity="0.9"/><circle cx="464.1" cy="721.3" r="0.6" fill="#8a90ac" opacity="0.8"/><circle cx="428.2" cy="644.1" r="0.6" fill="#a9aec4" opacity="0.9"/><circle cx="480.8" cy="735.3" r="0.8" fill="#a0a3b4" opacity="0.9"/><circle cx="494.5" cy="723.9" r="0.8" fill="#a0a3b4" opacity="0.9"/><circle cx="398.4" cy="696.2" r="0.7" fill="#8a90ac" opacity="0.9"/><circle cx="401.4" cy="656.0" r="0.5" fill="#a0a3b4" opacity="0.8"/><circle cx="463.7" cy="722.9" r="0.5" fill="#8a90ac" opacity="0.9"/><circle cx="416.7" cy="677.7" r="0.6" fill="#a0a3b4" opacity="1.0"/><circle cx="412.1" cy="649.0" r="0.7" fill="#b9bdd0" opacity="0.7"/><circle cx="457.9" cy="696.5" r="0.5" fill="#a9aec4" opacity="0.8"/><circle cx="495.3" cy="720.6" r="0.8" fill="#b9bdd0" opacity="0.8"/><circle cx="445.8" cy="640.2" r="0.6" fill="#8a90ac" opacity="0.9"/><circle cx="395.6" cy="724.7" r="0.8" fill="#9aa1ba" opacity="0.7"/><circle cx="419.4" cy="673.4" r="0.6" fill="#9aa1ba" opacity="0.8"/><circle cx="476.2" cy="638.3" r="0.8" fill="#8286a2" opacity="0.7"/><circle cx="416.6" cy="718.6" r="0.6" fill="#8a90ac" opacity="1.0"/><circle cx="511.3" cy="680.0" r="0.5" fill="#9aa1ba" opacity="0.9"/><circle cx="457.6" cy="700.0" r="0.6" fill="#a0a3b4" opacity="0.8"/><circle cx="466.0" cy="724.3" r="0.5" fill="#8a90ac" opacity="0.9"/><circle cx="483.1" cy="667.0" r="0.6" fill="#b9bdd0" opacity="0.8"/><circle cx="487.9" cy="672.1" r="0.7" fill="#b9bdd0" opacity="0.6"/><circle cx="422.9" cy="677.2" r="0.5" fill="#8286a2" opacity="0.9"/><circle cx="398.6" cy="687.9" r="0.7" fill="#8286a2" opacity="0.7"/><circle cx="434.0" cy="684.0" r="0.5" fill="#8a90ac" opacity="0.6"/><circle cx="442.9" cy="641.3" r="0.7" fill="#8286a2" opacity="0.8"/><circle cx="472.3" cy="711.5" r="0.5" fill="#b9bdd0" opacity="0.9"/><circle cx="503.3" cy="672.9" r="0.7" fill="#a0a3b4" opacity="0.7"/><circle cx="509.7" cy="678.7" r="0.5" fill="#a0a3b4" opacity="1.0"/><circle cx="491.4" cy="734.4" r="0.6" fill="#9aa1ba" opacity="0.9"/><circle cx="412.0" cy="733.4" r="0.6" fill="#a9aec4" opacity="0.7"/><circle cx="422.2" cy="716.6" r="0.8" fill="#8286a2" opacity="0.7"/><circle cx="437.5" cy="690.0" r="0.7" fill="#a0a3b4" opacity="0.9"/><circle cx="451.5" cy="650.5" r="0.8" fill="#b9bdd0" opacity="0.9"/><circle cx="484.4" cy="710.9" r="0.8" fill="#a9aec4" opacity="0.8"/><circle cx="456.6" cy="697.1" r="0.5" fill="#a0a3b4" opacity="1.0"/><circle cx="496.9" cy="645.8" r="0.5" fill="#8286a2" opacity="0.6"/><circle cx="463.8" cy="680.9" r="0.8" fill="#8a90ac" opacity="1.0"/><circle cx="395.8" cy="638.0" r="0.5" fill="#b9bdd0" opacity="0.9"/><circle cx="495.8" cy="686.9" r="0.6" fill="#9aa1ba" opacity="0.7"/><circle cx="493.7" cy="694.0" r="0.5" fill="#9aa1ba" opacity="0.6"/><circle cx="448.6" cy="663.2" r="0.8" fill="#a0a3b4" opacity="0.8"/><circle cx="483.8" cy="667.7" r="0.7" fill="#b9bdd0" opacity="0.9"/><circle cx="484.8" cy="717.4" r="0.6" fill="#a0a3b4" opacity="0.8"/><circle cx="422.3" cy="640.0" r="0.5" fill="#b9bdd0" opacity="0.6"/><circle cx="392.6" cy="720.6" r="0.8" fill="#a9aec4" opacity="1.0"/><circle cx="419.6" cy="679.2" r="0.5" fill="#b9bdd0" opacity="0.8"/><circle cx="456.1" cy="663.8" r="0.7" fill="#8286a2" opacity="0.8"/><circle cx="429.7" cy="640.2" r="0.7" fill="#b9bdd0" opacity="0.7"/><circle cx="515.3" cy="692.6" r="0.5" fill="#a9aec4" opacity="0.9"/><circle cx="394.5" cy="696.1" r="0.8" fill="#8a90ac" opacity="0.8"/><circle cx="483.4" cy="716.4" r="0.8" fill="#a9aec4" opacity="1.0"/><circle cx="421.5" cy="712.1" r="0.6" fill="#b9bdd0" opacity="0.6"/><circle cx="454.3" cy="650.8" r="0.6" fill="#8a90ac" opacity="0.8"/><circle cx="444.9" cy="637.8" r="0.7" fill="#a9aec4" opacity="1.0"/><circle cx="435.3" cy="700.2" r="0.5" fill="#9aa1ba" opacity="0.7"/><circle cx="516.8" cy="692.7" r="0.7" fill="#b9bdd0" opacity="1.0"/><circle cx="513.7" cy="673.6" r="0.7" fill="#9aa1ba" opacity="0.7"/><circle cx="418.8" cy="655.2" r="0.5" fill="#a0a3b4" opacity="0.7"/><circle cx="403.1" cy="678.8" r="0.7" fill="#9aa1ba" opacity="0.7"/><circle cx="427.6" cy="698.9" r="0.5" fill="#9aa1ba" opacity="0.9"/><circle cx="513.7" cy="686.4" r="0.7" fill="#a0a3b4" opacity="0.9"/><circle cx="511.8" cy="712.2" r="0.5" fill="#a0a3b4" opacity="0.9"/><circle cx="473.0" cy="727.4" r="0.5" fill="#b9bdd0" opacity="0.9"/><circle cx="384.9" cy="694.2" r="0.7" fill="#b9bdd0" opacity="0.6"/><circle cx="460.3" cy="692.2" r="0.6" fill="#b9bdd0" opacity="0.9"/><circle cx="386.7" cy="694.2" r="0.6" fill="#a9aec4" opacity="0.9"/><circle cx="435.9" cy="662.7" r="0.5" fill="#b9bdd0" opacity="1.0"/><circle cx="446.9" cy="689.0" r="0.5" fill="#a0a3b4" opacity="0.6"/><circle cx="401.6" cy="655.3" r="0.5" fill="#9aa1ba" opacity="1.0"/><circle cx="411.6" cy="702.1" r="0.6" fill="#8a90ac" opacity="0.8"/><circle cx="391.9" cy="677.0" r="0.7" fill="#9aa1ba" opacity="0.7"/><circle cx="500.7" cy="690.4" r="0.8" fill="#8a90ac" opacity="0.7"/><circle cx="447.6" cy="711.5" r="0.7" fill="#a0a3b4" opacity="0.8"/><circle cx="390.0" cy="708.7" r="0.8" fill="#8286a2" opacity="0.7"/><circle cx="508.7" cy="717.4" r="0.5" fill="#8286a2" opacity="1.0"/><circle cx="497.5" cy="653.0" r="0.8" fill="#9aa1ba" opacity="1.0"/><circle cx="474.4" cy="670.0" r="0.5" fill="#a0a3b4" opacity="0.7"/><circle cx="435.4" cy="671.7" r="0.6" fill="#a0a3b4" opacity="1.0"/><circle cx="385.3" cy="679.5" r="0.7" fill="#8286a2" opacity="0.9"/><circle cx="452.9" cy="723.7" r="0.5" fill="#9aa1ba" opacity="0.9"/><circle cx="446.7" cy="732.1" r="0.5" fill="#a9aec4" opacity="0.8"/><circle cx="487.4" cy="726.5" r="0.8" fill="#8a90ac" opacity="0.8"/><circle cx="410.9" cy="679.3" r="0.6" fill="#a0a3b4" opacity="0.8"/><circle cx="471.7" cy="647.8" r="0.7" fill="#b9bdd0" opacity="0.7"/><circle cx="433.4" cy="671.4" r="0.5" fill="#a9aec4" opacity="0.8"/><circle cx="499.7" cy="649.0" r="0.6" fill="#a0a3b4" opacity="0.6"/><circle cx="478.3" cy="672.4" r="0.8" fill="#a9aec4" opacity="0.8"/><circle cx="385.9" cy="662.9" r="0.5" fill="#8286a2" opacity="1.0"/><circle cx="404.2" cy="733.7" r="0.7" fill="#8a90ac" opacity="0.9"/><circle cx="491.3" cy="729.1" r="0.5" fill="#a9aec4" opacity="0.8"/><circle cx="430.5" cy="693.3" r="0.7" fill="#9aa1ba" opacity="0.6"/><circle cx="445.1" cy="699.7" r="0.6" fill="#9aa1ba" opacity="0.7"/><circle cx="398.1" cy="641.2" r="0.7" fill="#8a90ac" opacity="0.9"/><circle cx="460.8" cy="706.8" r="0.8" fill="#a0a3b4" opacity="0.9"/><circle cx="404.6" cy="735.9" r="0.7" fill="#b9bdd0" opacity="0.7"/><circle cx="496.7" cy="711.2" r="0.5" fill="#a9aec4" opacity="0.7"/><circle cx="510.6" cy="706.5" r="0.7" fill="#a9aec4" opacity="0.8"/><circle cx="425.7" cy="670.0" r="0.8" fill="#b9bdd0" opacity="0.6"/><circle cx="470.2" cy="641.5" r="0.6" fill="#b9bdd0" opacity="0.9"/><circle cx="477.5" cy="719.9" r="0.5" fill="#a9aec4" opacity="0.9"/><circle cx="417.1" cy="694.4" r="0.5" fill="#8286a2" opacity="0.8"/><circle cx="388.5" cy="659.7" r="0.8" fill="#8a90ac" opacity="0.6"/><circle cx="472.2" cy="704.2" r="0.7" fill="#8a90ac" opacity="0.8"/><circle cx="461.9" cy="719.5" r="0.7" fill="#9aa1ba" opacity="1.0"/><circle cx="427.7" cy="683.8" r="0.8" fill="#8a90ac" opacity="0.8"/><circle cx="412.9" cy="638.7" r="0.7" fill="#8286a2" opacity="0.9"/><circle cx="437.7" cy="641.6" r="0.6" fill="#b9bdd0" opacity="0.8"/><circle cx="444.7" cy="705.5" r="0.5" fill="#8286a2" opacity="0.9"/><circle cx="430.4" cy="707.4" r="0.8" fill="#b9bdd0" opacity="0.6"/><circle cx="478.8" cy="689.4" r="0.7" fill="#a9aec4" opacity="0.6"/><circle cx="489.0" cy="689.2" r="0.8" fill="#b9bdd0" opacity="0.7"/><circle cx="444.0" cy="640.8" r="0.6" fill="#a9aec4" opacity="0.6"/><circle cx="434.9" cy="729.2" r="0.7" fill="#b9bdd0" opacity="0.8"/><circle cx="446.7" cy="699.9" r="0.7" fill="#b9bdd0" opacity="0.8"/><circle cx="457.3" cy="712.5" r="0.5" fill="#8286a2" opacity="0.9"/><circle cx="496.8" cy="650.5" r="0.5" fill="#a0a3b4" opacity="0.8"/><circle cx="461.2" cy="659.6" r="0.5" fill="#9aa1ba" opacity="0.6"/><circle cx="385.4" cy="646.9" r="0.6" fill="#a9aec4" opacity="0.6"/><circle cx="484.8" cy="653.5" r="0.6" fill="#a9aec4" opacity="0.7"/><circle cx="408.3" cy="693.0" r="0.7" fill="#9aa1ba" opacity="0.7"/><circle cx="468.2" cy="684.7" r="0.6" fill="#8a90ac" opacity="0.9"/><circle cx="438.1" cy="713.9" r="0.6" fill="#8a90ac" opacity="0.9"/><circle cx="425.4" cy="700.6" r="0.6" fill="#8286a2" opacity="0.7"/><circle cx="398.7" cy="704.9" r="0.7" fill="#a9aec4" opacity="0.8"/><circle cx="410.9" cy="661.6" r="0.6" fill="#a9aec4" opacity="0.8"/><circle cx="407.3" cy="687.4" r="0.7" fill="#8a90ac" opacity="0.8"/><circle cx="390.9" cy="705.0" r="0.7" fill="#b9bdd0" opacity="0.8"/><circle cx="511.4" cy="680.5" r="0.7" fill="#9aa1ba" opacity="0.9"/><circle cx="466.7" cy="692.9" r="0.8" fill="#8a90ac" opacity="1.0"/><circle cx="439.9" cy="701.1" r="0.8" fill="#a0a3b4" opacity="1.0"/><circle cx="425.6" cy="723.6" r="0.7" fill="#a0a3b4" opacity="0.8"/><circle cx="459.1" cy="703.5" r="0.6" fill="#9aa1ba" opacity="0.9"/><circle cx="407.0" cy="712.3" r="0.5" fill="#8a90ac" opacity="0.9"/><circle cx="466.0" cy="668.5" r="0.5" fill="#9aa1ba" opacity="0.8"/><circle cx="455.7" cy="729.3" r="0.6" fill="#b9bdd0" opacity="0.9"/><circle cx="450.1" cy="683.7" r="0.8" fill="#9aa1ba" opacity="0.9"/><circle cx="481.1" cy="672.4" r="0.6" fill="#a0a3b4" opacity="0.9"/><circle cx="404.7" cy="721.8" r="0.8" fill="#9aa1ba" opacity="0.7"/><circle cx="488.8" cy="648.4" r="0.7" fill="#8286a2" opacity="0.8"/><circle cx="468.5" cy="670.4" r="0.5" fill="#9aa1ba" opacity="0.8"/><circle cx="422.8" cy="655.4" r="0.8" fill="#a9aec4" opacity="0.7"/><circle cx="409.0" cy="691.2" r="0.8" fill="#a0a3b4" opacity="0.7"/><circle cx="428.5" cy="729.7" r="0.5" fill="#a0a3b4" opacity="0.9"/><circle cx="415.6" cy="660.3" r="0.8" fill="#a9aec4" opacity="0.7"/><circle cx="477.5" cy="726.1" r="0.8" fill="#b9bdd0" opacity="1.0"/><circle cx="504.9" cy="671.6" r="0.7" fill="#a0a3b4" opacity="0.7"/><circle cx="400.9" cy="645.2" r="0.7" fill="#8a90ac" opacity="0.7"/><circle cx="494.3" cy="644.1" r="0.5" fill="#a0a3b4" opacity="0.9"/><circle cx="424.7" cy="637.0" r="0.8" fill="#8a90ac" opacity="0.9"/><circle cx="425.1" cy="667.7" r="0.5" fill="#8a90ac" opacity="0.9"/><circle cx="394.0" cy="708.4" r="0.7" fill="#8286a2" opacity="0.8"/><circle cx="506.4" cy="691.7" r="0.6" fill="#a0a3b4" opacity="1.0"/><circle cx="419.8" cy="655.1" r="0.5" fill="#a0a3b4" opacity="0.9"/><circle cx="451.6" cy="679.6" r="0.8" fill="#a9aec4" opacity="0.7"/><circle cx="407.1" cy="682.0" r="0.8" fill="#a9aec4" opacity="1.0"/><circle cx="423.6" cy="661.6" r="0.7" fill="#a0a3b4" opacity="0.8"/><circle cx="475.1" cy="707.6" r="0.7" fill="#a0a3b4" opacity="0.6"/><circle cx="484.5" cy="700.2" r="0.7" fill="#8a90ac" opacity="0.9"/><circle cx="466.6" cy="646.8" r="0.7" fill="#b9bdd0" opacity="0.8"/><circle cx="456.7" cy="725.3" r="0.7" fill="#8a90ac" opacity="0.8"/><circle cx="400.9" cy="682.7" r="0.7" fill="#9aa1ba" opacity="0.7"/><circle cx="502.3" cy="685.3" r="0.7" fill="#9aa1ba" opacity="0.9"/><circle cx="440.1" cy="676.8" r="0.7" fill="#b9bdd0" opacity="0.8"/><circle cx="417.5" cy="722.3" r="0.8" fill="#a9aec4" opacity="0.8"/><circle cx="505.8" cy="637.6" r="0.8" fill="#a9aec4" opacity="0.6"/><circle cx="499.8" cy="653.0" r="0.8" fill="#a0a3b4" opacity="0.7"/><circle cx="496.2" cy="693.5" r="0.6" fill="#8286a2" opacity="0.9"/><circle cx="506.1" cy="675.6" r="0.5" fill="#9aa1ba" opacity="1.0"/><circle cx="400.8" cy="649.1" r="0.7" fill="#8a90ac" opacity="0.8"/><circle cx="506.0" cy="665.3" r="0.6" fill="#a9aec4" opacity="0.9"/><circle cx="404.1" cy="673.5" r="0.5" fill="#8286a2" opacity="0.9"/><circle cx="460.5" cy="687.0" r="0.8" fill="#9aa1ba" opacity="0.7"/><circle cx="452.7" cy="658.5" r="0.5" fill="#a9aec4" opacity="0.8"/><circle cx="493.7" cy="698.8" r="0.5" fill="#8a90ac" opacity="0.7"/><circle cx="388.4" cy="665.7" r="0.5" fill="#b9bdd0" opacity="0.9"/><circle cx="504.5" cy="719.8" r="0.8" fill="#8286a2" opacity="0.8"/><circle cx="511.0" cy="704.9" r="0.6" fill="#a9aec4" opacity="0.7"/><circle cx="411.1" cy="726.6" r="0.6" fill="#b9bdd0" opacity="0.7"/><circle cx="490.9" cy="668.6" r="0.6" fill="#b9bdd0" opacity="0.9"/><circle cx="468.3" cy="698.0" r="0.6" fill="#8286a2" opacity="0.7"/><circle cx="506.0" cy="708.9" r="0.6" fill="#a9aec4" opacity="0.9"/><circle cx="481.5" cy="726.3" r="0.6" fill="#a9aec4" opacity="0.8"/><circle cx="447.9" cy="714.9" r="0.5" fill="#9aa1ba" opacity="0.7"/><circle cx="432.8" cy="714.4" r="0.6" fill="#a9aec4" opacity="0.8"/><circle cx="421.1" cy="655.8" r="0.5" fill="#9aa1ba" opacity="0.7"/><circle cx="453.2" cy="676.5" r="0.5" fill="#8a90ac" opacity="0.9"/><circle cx="469.7" cy="734.2" r="0.8" fill="#8a90ac" opacity="0.7"/><circle cx="471.5" cy="728.7" r="0.6" fill="#8a90ac" opacity="0.7"/><circle cx="491.0" cy="643.5" r="0.8" fill="#a9aec4" opacity="0.9"/><circle cx="418.8" cy="642.0" r="0.8" fill="#b9bdd0" opacity="0.7"/><circle cx="478.7" cy="659.4" r="0.8" fill="#a0a3b4" opacity="0.8"/><circle cx="475.8" cy="682.5" r="0.7" fill="#8286a2" opacity="0.9"/><circle cx="505.3" cy="698.7" r="0.5" fill="#b9bdd0" opacity="1.0"/><circle cx="427.2" cy="658.2" r="0.6" fill="#a0a3b4" opacity="0.9"/><circle cx="399.9" cy="650.5" r="0.7" fill="#a9aec4" opacity="0.9"/><circle cx="415.0" cy="704.6" r="0.8" fill="#9aa1ba" opacity="0.7"/><circle cx="512.2" cy="643.7" r="0.8" fill="#8a90ac" opacity="0.7"/><circle cx="499.1" cy="693.1" r="0.6" fill="#a9aec4" opacity="0.9"/><circle cx="438.4" cy="689.4" r="0.5" fill="#8286a2" opacity="0.6"/><circle cx="385.0" cy="660.9" r="0.7" fill="#8286a2" opacity="0.8"/><circle cx="436.3" cy="661.5" r="0.8" fill="#a9aec4" opacity="0.7"/><circle cx="425.9" cy="654.2" r="0.8" fill="#b9bdd0" opacity="1.0"/><circle cx="388.1" cy="702.7" r="0.6" fill="#9aa1ba" opacity="0.7"/><circle cx="505.2" cy="713.0" r="0.6" fill="#a9aec4" opacity="0.8"/><circle cx="426.8" cy="686.4" r="0.8" fill="#9aa1ba" opacity="0.9"/><circle cx="404.0" cy="723.1" r="0.5" fill="#8a90ac" opacity="0.8"/><circle cx="468.1" cy="652.3" r="0.8" fill="#8286a2" opacity="0.7"/><circle cx="471.7" cy="652.0" r="0.5" fill="#9aa1ba" opacity="1.0"/><circle cx="401.8" cy="706.3" r="0.6" fill="#8286a2" opacity="0.7"/><circle cx="493.9" cy="693.3" r="0.6" fill="#9aa1ba" opacity="1.0"/><circle cx="470.4" cy="676.5" r="0.7" fill="#9aa1ba" opacity="0.7"/><circle cx="502.5" cy="729.1" r="0.5" fill="#b9bdd0" opacity="0.8"/><circle cx="452.1" cy="703.1" r="0.7" fill="#8a90ac" opacity="0.8"/><circle cx="433.6" cy="704.9" r="0.6" fill="#9aa1ba" opacity="0.6"/><circle cx="398.8" cy="666.1" r="0.6" fill="#8a90ac" opacity="0.9"/><circle cx="442.9" cy="726.9" r="0.5" fill="#a9aec4" opacity="0.9"/><circle cx="464.4" cy="685.3" r="0.5" fill="#a0a3b4" opacity="0.8"/><circle cx="471.2" cy="712.7" r="0.8" fill="#a9aec4" opacity="0.9"/><circle cx="406.3" cy="700.8" r="0.6" fill="#8286a2" opacity="0.9"/><circle cx="411.0" cy="721.3" r="0.7" fill="#8a90ac" opacity="0.9"/><circle cx="446.6" cy="637.8" r="0.6" fill="#9aa1ba" opacity="1.0"/><circle cx="387.7" cy="710.7" r="0.8" fill="#a0a3b4" opacity="0.6"/><circle cx="503.4" cy="648.7" r="0.5" fill="#b9bdd0" opacity="0.7"/><circle cx="439.2" cy="670.5" r="0.5" fill="#8a90ac" opacity="0.9"/><circle cx="508.4" cy="652.6" r="0.5" fill="#b9bdd0" opacity="0.9"/><circle cx="396.4" cy="693.7" r="0.7" fill="#9aa1ba" opacity="0.7"/><circle cx="457.6" cy="733.3" r="0.7" fill="#a9aec4" opacity="0.7"/><circle cx="502.0" cy="690.5" r="0.7" fill="#8286a2" opacity="0.7"/><circle cx="504.4" cy="655.3" r="0.5" fill="#8a90ac" opacity="0.7"/><circle cx="459.2" cy="661.8" r="0.8" fill="#a9aec4" opacity="0.9"/><circle cx="474.9" cy="657.1" r="0.6" fill="#8286a2" opacity="0.6"/><circle cx="386.6" cy="656.6" r="0.7" fill="#a0a3b4" opacity="0.7"/><circle cx="404.8" cy="670.3" r="0.5" fill="#9aa1ba" opacity="1.0"/><circle cx="494.4" cy="663.0" r="0.8" fill="#9aa1ba" opacity="0.6"/><circle cx="392.5" cy="662.3" r="0.8" fill="#b9bdd0" opacity="0.7"/><circle cx="494.2" cy="730.6" r="0.8" fill="#8a90ac" opacity="0.9"/><circle cx="475.4" cy="712.0" r="0.5" fill="#8a90ac" opacity="1.0"/><circle cx="475.5" cy="725.1" r="0.6" fill="#9aa1ba" opacity="0.9"/><circle cx="407.2" cy="735.2" r="0.8" fill="#8286a2" opacity="0.8"/><circle cx="452.2" cy="676.0" r="0.7" fill="#a0a3b4" opacity="0.8"/><circle cx="429.8" cy="722.6" r="0.6" fill="#b9bdd0" opacity="1.0"/><circle cx="387.1" cy="672.4" r="0.6" fill="#a9aec4" opacity="0.8"/><circle cx="409.9" cy="641.7" r="0.5" fill="#a0a3b4" opacity="0.9"/><circle cx="496.4" cy="639.3" r="0.8" fill="#8a90ac" opacity="0.9"/><circle cx="471.9" cy="662.4" r="0.6" fill="#b9bdd0" opacity="0.8"/><circle cx="403.6" cy="708.8" r="0.7" fill="#a0a3b4" opacity="0.8"/><circle cx="389.4" cy="652.1" r="0.5" fill="#a9aec4" opacity="0.9"/><circle cx="440.5" cy="662.2" r="0.5" fill="#8286a2" opacity="0.7"/><circle cx="409.3" cy="734.2" r="0.5" fill="#b9bdd0" opacity="0.8"/><circle cx="459.8" cy="719.5" r="0.5" fill="#9aa1ba" opacity="0.8"/><circle cx="396.4" cy="665.9" r="0.8" fill="#8a90ac" opacity="0.9"/><circle cx="423.6" cy="732.8" r="0.6" fill="#8286a2" opacity="0.9"/><circle cx="487.6" cy="723.5" r="0.8" fill="#9aa1ba" opacity="0.9"/><circle cx="494.3" cy="645.8" r="0.7" fill="#9aa1ba" opacity="0.9"/><circle cx="490.7" cy="647.1" r="0.8" fill="#8a90ac" opacity="0.7"/><circle cx="483.0" cy="727.4" r="0.6" fill="#9aa1ba" opacity="0.7"/><circle cx="438.9" cy="722.0" r="0.5" fill="#8286a2" opacity="0.9"/><circle cx="492.1" cy="699.1" r="0.6" fill="#b9bdd0" opacity="0.6"/><circle cx="427.5" cy="730.6" r="0.5" fill="#a0a3b4" opacity="0.8"/><circle cx="443.5" cy="711.9" r="0.8" fill="#8286a2" opacity="0.6"/><circle cx="392.0" cy="647.1" r="0.7" fill="#a0a3b4" opacity="0.9"/><circle cx="493.1" cy="711.9" r="0.7" fill="#a0a3b4" opacity="0.6"/><circle cx="507.5" cy="639.6" r="0.8" fill="#b9bdd0" opacity="0.9"/><circle cx="473.9" cy="643.9" r="0.7" fill="#b9bdd0" opacity="0.7"/><circle cx="467.6" cy="671.5" r="0.6" fill="#9aa1ba" opacity="0.9"/><circle cx="475.5" cy="688.0" r="0.7" fill="#8286a2" opacity="0.6"/><circle cx="450.0" cy="725.2" r="0.6" fill="#9aa1ba" opacity="0.9"/><circle cx="415.5" cy="675.3" r="0.6" fill="#a9aec4" opacity="0.8"/><circle cx="395.6" cy="680.4" r="0.8" fill="#8286a2" opacity="1.0"/><circle cx="423.4" cy="661.8" r="0.5" fill="#a0a3b4" opacity="0.9"/><circle cx="417.0" cy="656.2" r="0.6" fill="#b9bdd0" opacity="0.8"/><circle cx="456.8" cy="647.8" r="0.6" fill="#b9bdd0" opacity="0.9"/><circle cx="479.1" cy="726.0" r="0.5" fill="#8286a2" opacity="0.6"/><circle cx="512.2" cy="659.2" r="0.5" fill="#b9bdd0" opacity="0.9"/><circle cx="406.8" cy="684.5" r="0.8" fill="#a9aec4" opacity="0.7"/><circle cx="508.8" cy="676.4" r="0.7" fill="#a9aec4" opacity="0.9"/><circle cx="460.8" cy="643.8" r="0.7" fill="#8286a2" opacity="0.9"/><circle cx="419.6" cy="669.3" r="0.8" fill="#a9aec4" opacity="0.8"/><circle cx="509.8" cy="728.1" r="0.7" fill="#b9bdd0" opacity="0.7"/><circle cx="484.8" cy="661.5" r="0.7" fill="#a9aec4" opacity="0.8"/><circle cx="414.9" cy="650.2" r="0.6" fill="#8286a2" opacity="0.7"/><circle cx="418.2" cy="662.1" r="0.6" fill="#8286a2" opacity="0.7"/><circle cx="437.5" cy="666.2" r="0.5" fill="#8286a2" opacity="0.7"/><circle cx="406.2" cy="693.4" r="0.7" fill="#b9bdd0" opacity="0.9"/><circle cx="476.8" cy="666.3" r="0.6" fill="#8a90ac" opacity="0.6"/><circle cx="492.8" cy="696.8" r="0.7" fill="#8a90ac" opacity="0.9"/><circle cx="504.7" cy="639.4" r="0.7" fill="#8a90ac" opacity="0.6"/><circle cx="439.7" cy="706.2" r="0.7" fill="#a9aec4" opacity="0.9"/><circle cx="431.1" cy="701.9" r="0.5" fill="#8a90ac" opacity="0.8"/><circle cx="459.6" cy="692.5" r="0.6" fill="#b9bdd0" opacity="0.8"/><circle cx="509.4" cy="728.9" r="0.8" fill="#a9aec4" opacity="0.7"/><circle cx="476.3" cy="726.2" r="0.7" fill="#a9aec4" opacity="1.0"/><circle cx="495.3" cy="703.2" r="0.8" fill="#b9bdd0" opacity="0.6"/><circle cx="440.0" cy="731.5" r="0.6" fill="#a9aec4" opacity="0.8"/><circle cx="456.3" cy="647.0" r="0.8" fill="#a0a3b4" opacity="0.6"/><circle cx="390.0" cy="707.3" r="0.8" fill="#b9bdd0" opacity="0.8"/><circle cx="434.3" cy="715.6" r="0.5" fill="#9aa1ba" opacity="0.7"/><circle cx="502.0" cy="693.1" r="0.7" fill="#a9aec4" opacity="0.7"/><circle cx="411.8" cy="710.3" r="0.8" fill="#9aa1ba" opacity="0.8"/><circle cx="503.7" cy="733.3" r="0.5" fill="#b9bdd0" opacity="0.9"/><circle cx="405.7" cy="652.5" r="0.5" fill="#a9aec4" opacity="0.6"/><circle cx="423.6" cy="643.1" r="0.6" fill="#8286a2" opacity="0.9"/><circle cx="488.5" cy="674.6" r="0.7" fill="#9aa1ba" opacity="0.8"/><circle cx="409.8" cy="670.4" r="0.8" fill="#9aa1ba" opacity="0.7"/><circle cx="465.8" cy="690.8" r="0.8" fill="#b9bdd0" opacity="1.0"/><circle cx="435.5" cy="692.8" r="0.5" fill="#a0a3b4" opacity="0.7"/><circle cx="419.7" cy="685.2" r="0.8" fill="#9aa1ba" opacity="0.7"/><circle cx="410.4" cy="642.5" r="0.7" fill="#8a90ac" opacity="0.8"/><circle cx="469.4" cy="679.6" r="0.8" fill="#9aa1ba" opacity="0.7"/><circle cx="491.8" cy="649.0" r="0.7" fill="#a0a3b4" opacity="0.6"/><circle cx="473.4" cy="657.8" r="0.5" fill="#8286a2" opacity="0.9"/><circle cx="433.4" cy="673.8" r="0.6" fill="#8a90ac" opacity="0.8"/><circle cx="414.0" cy="723.0" r="0.6" fill="#9aa1ba" opacity="0.8"/><circle cx="421.9" cy="717.8" r="0.8" fill="#a9aec4" opacity="0.7"/><circle cx="404.8" cy="643.0" r="0.5" fill="#9aa1ba" opacity="0.8"/><circle cx="444.2" cy="683.8" r="0.7" fill="#8a90ac" opacity="0.7"/><circle cx="515.1" cy="683.0" r="0.6" fill="#9aa1ba" opacity="0.8"/><circle cx="407.0" cy="679.0" r="0.7" fill="#8286a2" opacity="0.9"/><circle cx="399.8" cy="650.4" r="0.5" fill="#8a90ac" opacity="0.8"/><circle cx="445.5" cy="723.4" r="0.5" fill="#8286a2" opacity="0.7"/><circle cx="412.8" cy="724.6" r="0.8" fill="#a0a3b4" opacity="0.9"/><circle cx="473.5" cy="677.8" r="0.6" fill="#8a90ac" opacity="0.7"/><circle cx="514.4" cy="706.6" r="0.6" fill="#a9aec4" opacity="0.7"/><circle cx="438.4" cy="711.7" r="0.8" fill="#b9bdd0" opacity="0.8"/><circle cx="471.1" cy="724.9" r="0.7" fill="#a0a3b4" opacity="0.8"/><circle cx="465.6" cy="643.6" r="0.6" fill="#b9bdd0" opacity="0.6"/><circle cx="421.4" cy="706.8" r="0.7" fill="#8a90ac" opacity="0.8"/><circle cx="514.2" cy="709.0" r="0.8" fill="#b9bdd0" opacity="0.8"/><circle cx="496.5" cy="722.3" r="0.5" fill="#9aa1ba" opacity="0.9"/><circle cx="397.4" cy="636.9" r="0.6" fill="#9aa1ba" opacity="0.8"/><circle cx="515.5" cy="639.3" r="0.7" fill="#a0a3b4" opacity="0.7"/><circle cx="512.5" cy="703.1" r="0.7" fill="#9aa1ba" opacity="0.7"/><circle cx="438.3" cy="687.7" r="0.5" fill="#8a90ac" opacity="0.8"/><circle cx="395.1" cy="664.4" r="0.5" fill="#8286a2" opacity="1.0"/><circle cx="433.2" cy="672.9" r="0.7" fill="#a0a3b4" opacity="0.6"/><circle cx="410.7" cy="696.2" r="0.8" fill="#9aa1ba" opacity="0.8"/><circle cx="451.5" cy="686.0" r="0.6" fill="#8a90ac" opacity="0.8"/><circle cx="508.3" cy="699.6" r="0.6" fill="#8286a2" opacity="0.8"/><circle cx="436.2" cy="731.2" r="0.5" fill="#a9aec4" opacity="0.9"/><circle cx="497.3" cy="666.0" r="0.5" fill="#8286a2" opacity="0.9"/><circle cx="394.3" cy="659.2" r="0.6" fill="#8286a2" opacity="0.8"/><circle cx="510.8" cy="669.5" r="0.8" fill="#a9aec4" opacity="0.6"/><circle cx="481.5" cy="723.2" r="0.7" fill="#9aa1ba" opacity="0.9"/><circle cx="491.7" cy="697.6" r="0.8" fill="#b9bdd0" opacity="0.7"/><circle cx="402.4" cy="638.0" r="0.6" fill="#a9aec4" opacity="0.7"/><circle cx="456.9" cy="642.1" r="0.6" fill="#a9aec4" opacity="0.7"/><circle cx="425.5" cy="716.9" r="0.7" fill="#b9bdd0" opacity="0.9"/><circle cx="510.4" cy="683.3" r="0.5" fill="#a9aec4" opacity="0.7"/><circle cx="434.7" cy="713.5" r="0.5" fill="#a0a3b4" opacity="0.9"/><circle cx="389.9" cy="650.3" r="0.5" fill="#b9bdd0" opacity="1.0"/><circle cx="437.5" cy="702.8" r="0.6" fill="#a9aec4" opacity="0.9"/><circle cx="426.2" cy="726.4" r="0.6" fill="#9aa1ba" opacity="1.0"/><circle cx="470.8" cy="683.0" r="0.6" fill="#a0a3b4" opacity="0.6"/><circle cx="502.6" cy="725.0" r="0.6" fill="#8286a2" opacity="0.9"/><circle cx="422.4" cy="707.7" r="0.5" fill="#8286a2" opacity="0.6"/><circle cx="417.0" cy="648.4" r="0.6" fill="#a9aec4" opacity="0.9"/><circle cx="477.8" cy="661.7" r="0.5" fill="#9aa1ba" opacity="0.8"/><circle cx="424.3" cy="687.1" r="0.5" fill="#a9aec4" opacity="0.7"/><circle cx="388.2" cy="698.6" r="0.8" fill="#b9bdd0" opacity="0.7"/><circle cx="513.2" cy="718.1" r="0.5" fill="#a0a3b4" opacity="1.0"/><circle cx="443.2" cy="714.3" r="0.8" fill="#a9aec4" opacity="0.8"/><circle cx="474.1" cy="677.2" r="0.8" fill="#a9aec4" opacity="0.8"/><circle cx="459.7" cy="700.1" r="0.8" fill="#9aa1ba" opacity="1.0"/><circle cx="501.6" cy="725.4" r="0.6" fill="#b9bdd0" opacity="0.7"/><circle cx="427.1" cy="643.0" r="0.5" fill="#b9bdd0" opacity="0.7"/><circle cx="482.9" cy="660.2" r="0.7" fill="#8a90ac" opacity="0.9"/><circle cx="413.4" cy="686.6" r="0.8" fill="#a0a3b4" opacity="0.8"/><circle cx="469.7" cy="695.8" r="0.6" fill="#8286a2" opacity="0.7"/><circle cx="442.6" cy="653.8" r="0.7" fill="#9aa1ba" opacity="1.0"/><circle cx="515.9" cy="645.1" r="0.8" fill="#a9aec4" opacity="1.0"/><circle cx="462.1" cy="643.7" r="0.7" fill="#b9bdd0" opacity="0.9"/><circle cx="414.3" cy="666.8" r="0.5" fill="#a0a3b4" opacity="0.7"/><circle cx="512.0" cy="714.3" r="0.6" fill="#b9bdd0" opacity="1.0"/><circle cx="456.7" cy="714.3" r="0.7" fill="#a0a3b4" opacity="0.9"/><circle cx="454.1" cy="715.7" r="0.8" fill="#a0a3b4" opacity="0.8"/><circle cx="512.4" cy="722.5" r="0.7" fill="#b9bdd0" opacity="0.9"/><circle cx="480.8" cy="671.4" r="0.7" fill="#9aa1ba" opacity="0.8"/><circle cx="389.0" cy="642.7" r="0.7" fill="#a0a3b4" opacity="0.7"/><circle cx="442.5" cy="667.8" r="0.7" fill="#a9aec4" opacity="0.6"/><circle cx="494.5" cy="637.1" r="0.6" fill="#b9bdd0" opacity="0.8"/><circle cx="470.0" cy="678.4" r="0.6" fill="#9aa1ba" opacity="0.8"/><circle cx="402.0" cy="695.7" r="0.8" fill="#a9aec4" opacity="0.8"/><circle cx="487.6" cy="650.3" r="0.8" fill="#9aa1ba" opacity="0.8"/><circle cx="420.3" cy="714.3" r="0.6" fill="#8a90ac" opacity="0.9"/><circle cx="462.2" cy="695.0" r="0.5" fill="#9aa1ba" opacity="0.6"/><circle cx="413.9" cy="688.8" r="0.7" fill="#8a90ac" opacity="0.7"/><circle cx="514.4" cy="684.2" r="0.6" fill="#8286a2" opacity="1.0"/><circle cx="397.1" cy="638.0" r="0.7" fill="#a0a3b4" opacity="1.0"/><circle cx="390.4" cy="666.7" r="0.6" fill="#a9aec4" opacity="0.7"/><circle cx="385.5" cy="701.9" r="0.7" fill="#a9aec4" opacity="1.0"/><circle cx="500.8" cy="713.6" r="0.8" fill="#a9aec4" opacity="0.9"/><circle cx="436.2" cy="726.7" r="0.5" fill="#8286a2" opacity="0.7"/><circle cx="455.6" cy="712.2" r="0.7" fill="#8a90ac" opacity="0.7"/><circle cx="514.8" cy="699.7" r="0.5" fill="#a9aec4" opacity="1.0"/><circle cx="386.5" cy="676.1" r="0.6" fill="#8a90ac" opacity="0.7"/><circle cx="407.0" cy="700.3" r="0.6" fill="#8286a2" opacity="0.7"/><circle cx="411.5" cy="720.9" r="0.7" fill="#8286a2" opacity="1.0"/><circle cx="390.0" cy="651.2" r="0.6" fill="#b9bdd0" opacity="0.8"/><circle cx="428.4" cy="644.8" r="0.5" fill="#8286a2" opacity="0.9"/><circle cx="450.0" cy="685.6" r="0.5" fill="#8286a2" opacity="0.7"/><circle cx="393.3" cy="702.3" r="0.5" fill="#a0a3b4" opacity="0.7"/><circle cx="396.1" cy="734.0" r="0.7" fill="#b9bdd0" opacity="0.8"/><circle cx="465.6" cy="663.7" r="0.8" fill="#b9bdd0" opacity="0.9"/><circle cx="389.0" cy="689.5" r="0.5" fill="#8286a2" opacity="0.7"/><circle cx="499.7" cy="720.6" r="0.5" fill="#a9aec4" opacity="0.9"/><circle cx="510.8" cy="679.7" r="0.7" fill="#8286a2" opacity="0.7"/><circle cx="388.8" cy="670.1" r="0.7" fill="#8a90ac" opacity="0.6"/><circle cx="408.4" cy="665.6" r="0.6" fill="#8a90ac" opacity="0.8"/><circle cx="387.6" cy="721.6" r="0.5" fill="#8a90ac" opacity="0.6"/><circle cx="386.3" cy="669.6" r="0.6" fill="#8a90ac" opacity="0.7"/><circle cx="441.7" cy="661.1" r="0.7" fill="#a9aec4" opacity="0.8"/><circle cx="444.1" cy="732.4" r="0.7" fill="#a0a3b4" opacity="0.8"/><circle cx="448.8" cy="693.2" r="0.7" fill="#8a90ac" opacity="0.7"/><circle cx="404.9" cy="637.5" r="0.7" fill="#a0a3b4" opacity="0.7"/><circle cx="466.7" cy="700.0" r="0.7" fill="#a9aec4" opacity="0.9"/><circle cx="489.5" cy="659.6" r="0.8" fill="#a9aec4" opacity="0.8"/><circle cx="406.7" cy="681.4" r="0.6" fill="#9aa1ba" opacity="0.8"/><circle cx="494.7" cy="650.8" r="0.7" fill="#9aa1ba" opacity="1.0"/><circle cx="412.0" cy="656.3" r="0.6" fill="#a9aec4" opacity="1.0"/><circle cx="469.0" cy="719.5" r="0.8" fill="#8286a2" opacity="1.0"/><circle cx="434.2" cy="639.5" r="0.7" fill="#8a90ac" opacity="0.9"/><circle cx="478.9" cy="719.0" r="0.5" fill="#8a90ac" opacity="0.9"/><circle cx="397.2" cy="651.3" r="0.5" fill="#a0a3b4" opacity="0.9"/><circle cx="433.3" cy="652.4" r="0.5" fill="#a0a3b4" opacity="0.7"/><circle cx="512.4" cy="704.3" r="0.5" fill="#a9aec4" opacity="0.9"/><circle cx="387.1" cy="703.3" r="0.6" fill="#8286a2" opacity="1.0"/><circle cx="441.7" cy="639.7" r="0.6" fill="#a9aec4" opacity="0.9"/><circle cx="407.4" cy="687.8" r="0.8" fill="#a0a3b4" opacity="0.6"/><circle cx="396.7" cy="649.2" r="0.5" fill="#9aa1ba" opacity="0.8"/>
<circle cx="489.9" cy="718.2" r="0.8" fill="#c79a5a" opacity="0.6"/><circle cx="403.8" cy="694.7" r="1.1" fill="#caa56a" opacity="0.7"/><circle cx="486.8" cy="663.5" r="1.0" fill="#caa56a" opacity="0.9"/><circle cx="505.5" cy="690.0" r="0.6" fill="#6b4520" opacity="0.8"/><circle cx="491.5" cy="662.7" r="1.0" fill="#caa56a" opacity="0.6"/><circle cx="440.9" cy="734.9" r="0.7" fill="#8a5a28" opacity="0.9"/><circle cx="443.6" cy="645.6" r="0.6" fill="#caa56a" opacity="0.9"/><circle cx="397.4" cy="640.9" r="1.0" fill="#caa56a" opacity="1.0"/><circle cx="449.1" cy="719.2" r="0.6" fill="#6b4520" opacity="0.9"/><circle cx="477.2" cy="716.5" r="1.1" fill="#b98a4a" opacity="0.9"/><circle cx="417.0" cy="679.1" r="0.7" fill="#b98a4a" opacity="0.6"/><circle cx="501.5" cy="688.6" r="0.6" fill="#caa56a" opacity="0.7"/><circle cx="480.0" cy="674.1" r="0.6" fill="#6b4520" opacity="0.7"/><circle cx="499.5" cy="705.8" r="0.5" fill="#a87838" opacity="0.6"/><circle cx="428.7" cy="726.4" r="0.9" fill="#c79a5a" opacity="0.7"/><circle cx="454.5" cy="665.1" r="0.9" fill="#8a5a28" opacity="0.6"/><circle cx="440.6" cy="710.6" r="0.7" fill="#8a5a28" opacity="0.7"/><circle cx="514.6" cy="725.2" r="0.9" fill="#8a5a28" opacity="0.8"/><circle cx="495.0" cy="715.6" r="0.8" fill="#8a5a28" opacity="0.7"/><circle cx="493.0" cy="730.0" r="0.6" fill="#caa56a" opacity="0.7"/><circle cx="449.3" cy="714.4" r="0.6" fill="#b98a4a" opacity="0.8"/><circle cx="417.8" cy="716.2" r="0.6" fill="#6b4520" opacity="0.8"/><circle cx="507.8" cy="661.7" r="0.7" fill="#8a5a28" opacity="0.8"/><circle cx="420.0" cy="683.6" r="0.8" fill="#a87838" opacity="0.9"/><circle cx="450.5" cy="699.5" r="0.8" fill="#c79a5a" opacity="0.9"/><circle cx="513.5" cy="728.2" r="0.7" fill="#6b4520" opacity="0.7"/><circle cx="470.3" cy="733.4" r="0.9" fill="#a87838" opacity="1.0"/><circle cx="423.1" cy="636.9" r="0.8" fill="#b98a4a" opacity="0.7"/><circle cx="465.5" cy="693.0" r="0.9" fill="#c79a5a" opacity="0.7"/><circle cx="509.2" cy="721.3" r="0.5" fill="#a87838" opacity="0.7"/><circle cx="420.2" cy="637.8" r="1.0" fill="#6b4520" opacity="0.8"/><circle cx="446.8" cy="646.3" r="0.7" fill="#a87838" opacity="0.9"/><circle cx="416.8" cy="668.0" r="0.5" fill="#caa56a" opacity="0.6"/><circle cx="398.4" cy="700.6" r="0.8" fill="#b98a4a" opacity="0.9"/><circle cx="477.7" cy="648.9" r="1.0" fill="#b98a4a" opacity="0.7"/><circle cx="468.3" cy="662.7" r="1.0" fill="#caa56a" opacity="0.8"/><circle cx="476.7" cy="715.1" r="0.6" fill="#a87838" opacity="1.0"/><circle cx="443.0" cy="713.8" r="0.8" fill="#c79a5a" opacity="0.8"/><circle cx="461.4" cy="719.1" r="0.7" fill="#c79a5a" opacity="0.7"/><circle cx="509.4" cy="644.6" r="1.0" fill="#c79a5a" opacity="0.7"/><circle cx="447.3" cy="680.5" r="0.7" fill="#caa56a" opacity="0.6"/><circle cx="493.0" cy="699.9" r="0.8" fill="#b98a4a" opacity="0.9"/><circle cx="429.1" cy="639.5" r="1.1" fill="#caa56a" opacity="0.9"/><circle cx="510.7" cy="706.1" r="0.7" fill="#b98a4a" opacity="0.7"/><circle cx="474.3" cy="676.1" r="0.6" fill="#caa56a" opacity="0.8"/><circle cx="394.4" cy="643.7" r="0.8" fill="#b98a4a" opacity="0.7"/><circle cx="478.6" cy="654.6" r="0.9" fill="#6b4520" opacity="0.8"/><circle cx="436.0" cy="658.5" r="0.6" fill="#6b4520" opacity="0.9"/><circle cx="401.1" cy="705.1" r="1.0" fill="#a87838" opacity="0.8"/><circle cx="385.0" cy="716.5" r="0.7" fill="#c79a5a" opacity="0.9"/><circle cx="454.4" cy="637.3" r="1.0" fill="#6b4520" opacity="0.8"/><circle cx="472.5" cy="707.7" r="0.9" fill="#caa56a" opacity="0.7"/><circle cx="473.1" cy="733.2" r="0.6" fill="#caa56a" opacity="0.7"/><circle cx="394.3" cy="637.5" r="0.8" fill="#b98a4a" opacity="0.6"/><circle cx="479.0" cy="646.3" r="0.7" fill="#b98a4a" opacity="0.6"/><circle cx="414.3" cy="676.8" r="1.0" fill="#caa56a" opacity="1.0"/><circle cx="423.4" cy="683.2" r="0.9" fill="#b98a4a" opacity="0.7"/><circle cx="472.4" cy="648.3" r="0.6" fill="#a87838" opacity="0.6"/><circle cx="506.7" cy="711.0" r="0.9" fill="#caa56a" opacity="0.8"/><circle cx="478.6" cy="661.8" r="0.6" fill="#caa56a" opacity="0.9"/><circle cx="489.1" cy="657.6" r="0.9" fill="#c79a5a" opacity="0.8"/><circle cx="481.7" cy="733.3" r="1.1" fill="#caa56a" opacity="0.7"/><circle cx="453.2" cy="694.6" r="0.9" fill="#c79a5a" opacity="0.7"/><circle cx="400.0" cy="730.8" r="0.5" fill="#caa56a" opacity="1.0"/><circle cx="442.3" cy="719.2" r="0.5" fill="#a87838" opacity="0.6"/><circle cx="429.1" cy="684.6" r="0.8" fill="#c79a5a" opacity="0.6"/><circle cx="463.0" cy="663.5" r="0.6" fill="#8a5a28" opacity="0.8"/><circle cx="416.7" cy="702.3" r="1.1" fill="#8a5a28" opacity="0.8"/><circle cx="467.8" cy="684.2" r="0.7" fill="#a87838" opacity="0.7"/><circle cx="388.8" cy="711.8" r="0.6" fill="#a87838" opacity="0.8"/><circle cx="510.5" cy="716.9" r="0.8" fill="#b98a4a" opacity="0.7"/><circle cx="436.7" cy="684.7" r="1.0" fill="#caa56a" opacity="0.8"/><circle cx="490.2" cy="657.8" r="0.9" fill="#8a5a28" opacity="0.7"/><circle cx="506.6" cy="722.9" r="1.0" fill="#c79a5a" opacity="0.8"/><circle cx="426.9" cy="664.8" r="0.9" fill="#caa56a" opacity="0.7"/><circle cx="385.1" cy="666.7" r="0.5" fill="#6b4520" opacity="0.8"/><circle cx="415.2" cy="700.3" r="0.6" fill="#8a5a28" opacity="0.7"/><circle cx="505.5" cy="719.7" r="0.8" fill="#b98a4a" opacity="0.8"/><circle cx="487.7" cy="684.9" r="0.7" fill="#c79a5a" opacity="0.9"/><circle cx="463.1" cy="722.7" r="0.9" fill="#b98a4a" opacity="0.7"/><circle cx="389.9" cy="695.0" r="0.9" fill="#a87838" opacity="0.9"/><circle cx="451.8" cy="714.2" r="1.0" fill="#b98a4a" opacity="0.6"/><circle cx="495.2" cy="711.5" r="0.6" fill="#c79a5a" opacity="0.7"/><circle cx="481.2" cy="727.6" r="0.6" fill="#a87838" opacity="0.7"/><circle cx="401.1" cy="684.0" r="1.1" fill="#6b4520" opacity="0.6"/><circle cx="466.1" cy="681.7" r="1.0" fill="#6b4520" opacity="0.7"/><circle cx="403.6" cy="669.4" r="0.7" fill="#b98a4a" opacity="0.7"/><circle cx="384.6" cy="724.2" r="0.5" fill="#caa56a" opacity="0.8"/><circle cx="392.6" cy="663.7" r="0.9" fill="#8a5a28" opacity="1.0"/><circle cx="429.1" cy="709.8" r="1.0" fill="#a87838" opacity="0.9"/><circle cx="404.0" cy="702.8" r="0.8" fill="#8a5a28" opacity="0.9"/><circle cx="510.2" cy="724.8" r="0.6" fill="#8a5a28" opacity="0.7"/><circle cx="503.1" cy="730.2" r="0.6" fill="#6b4520" opacity="0.8"/><circle cx="393.8" cy="648.4" r="0.9" fill="#6b4520" opacity="1.0"/><circle cx="499.0" cy="679.9" r="0.7" fill="#6b4520" opacity="0.9"/><circle cx="423.5" cy="704.9" r="0.7" fill="#6b4520" opacity="1.0"/><circle cx="479.9" cy="640.9" r="0.9" fill="#caa56a" opacity="1.0"/><circle cx="513.6" cy="688.8" r="1.0" fill="#6b4520" opacity="0.8"/><circle cx="407.0" cy="639.8" r="0.5" fill="#a87838" opacity="0.8"/><circle cx="409.8" cy="664.0" r="0.7" fill="#c79a5a" opacity="0.9"/><circle cx="501.7" cy="658.0" r="0.9" fill="#6b4520" opacity="0.6"/><circle cx="492.8" cy="718.7" r="0.8" fill="#c79a5a" opacity="0.7"/><circle cx="507.3" cy="658.3" r="0.7" fill="#6b4520" opacity="0.8"/><circle cx="400.7" cy="709.4" r="1.1" fill="#b98a4a" opacity="0.8"/><circle cx="466.7" cy="697.0" r="0.7" fill="#caa56a" opacity="1.0"/><circle cx="391.9" cy="702.3" r="0.8" fill="#6b4520" opacity="0.7"/><circle cx="419.7" cy="732.9" r="0.7" fill="#8a5a28" opacity="0.9"/><circle cx="397.0" cy="712.5" r="0.7" fill="#caa56a" opacity="0.7"/><circle cx="421.3" cy="701.0" r="0.7" fill="#caa56a" opacity="1.0"/><circle cx="392.0" cy="702.5" r="0.5" fill="#8a5a28" opacity="0.8"/><circle cx="407.9" cy="662.5" r="0.5" fill="#c79a5a" opacity="0.9"/><circle cx="430.4" cy="676.5" r="0.9" fill="#caa56a" opacity="0.6"/><circle cx="399.7" cy="716.2" r="0.8" fill="#c79a5a" opacity="1.0"/><circle cx="416.4" cy="637.8" r="0.5" fill="#6b4520" opacity="0.8"/><circle cx="435.0" cy="658.2" r="0.7" fill="#caa56a" opacity="0.9"/><circle cx="504.2" cy="647.0" r="1.0" fill="#a87838" opacity="0.8"/><circle cx="388.5" cy="661.9" r="0.6" fill="#caa56a" opacity="0.7"/><circle cx="407.7" cy="649.7" r="0.6" fill="#b98a4a" opacity="0.9"/><circle cx="463.5" cy="725.2" r="1.0" fill="#8a5a28" opacity="0.8"/><circle cx="449.3" cy="668.5" r="0.9" fill="#a87838" opacity="0.9"/><circle cx="455.1" cy="658.3" r="1.0" fill="#8a5a28" opacity="0.7"/><circle cx="431.2" cy="692.5" r="0.9" fill="#6b4520" opacity="0.9"/><circle cx="498.1" cy="693.0" r="0.6" fill="#b98a4a" opacity="0.8"/><circle cx="437.1" cy="693.8" r="0.6" fill="#caa56a" opacity="0.6"/><circle cx="426.3" cy="716.3" r="0.9" fill="#8a5a28" opacity="0.8"/><circle cx="432.4" cy="707.3" r="0.7" fill="#b98a4a" opacity="0.8"/><circle cx="462.7" cy="666.7" r="0.9" fill="#8a5a28" opacity="0.7"/><circle cx="445.7" cy="693.7" r="0.7" fill="#8a5a28" opacity="0.9"/><circle cx="446.7" cy="668.9" r="0.8" fill="#8a5a28" opacity="0.6"/><circle cx="502.1" cy="696.8" r="0.8" fill="#caa56a" opacity="0.6"/><circle cx="387.8" cy="709.2" r="1.0" fill="#6b4520" opacity="0.7"/><circle cx="432.6" cy="727.0" r="0.8" fill="#b98a4a" opacity="0.8"/><circle cx="464.1" cy="639.3" r="1.0" fill="#a87838" opacity="0.8"/><circle cx="455.8" cy="718.9" r="0.9" fill="#c79a5a" opacity="0.9"/><circle cx="435.8" cy="707.1" r="0.5" fill="#c79a5a" opacity="0.8"/><circle cx="407.7" cy="720.8" r="0.7" fill="#b98a4a" opacity="0.8"/><circle cx="411.6" cy="713.5" r="1.0" fill="#8a5a28" opacity="0.9"/><circle cx="459.2" cy="684.5" r="1.1" fill="#8a5a28" opacity="0.7"/><circle cx="434.2" cy="650.6" r="0.6" fill="#a87838" opacity="0.9"/><circle cx="420.2" cy="658.3" r="0.8" fill="#a87838" opacity="0.7"/><circle cx="484.9" cy="699.8" r="0.7" fill="#a87838" opacity="0.9"/><circle cx="504.5" cy="641.8" r="0.6" fill="#8a5a28" opacity="1.0"/><circle cx="454.7" cy="727.8" r="0.9" fill="#caa56a" opacity="1.0"/><circle cx="506.9" cy="730.3" r="0.9" fill="#caa56a" opacity="0.6"/><circle cx="474.2" cy="702.8" r="0.6" fill="#b98a4a" opacity="0.8"/><circle cx="460.1" cy="733.3" r="1.0" fill="#a87838" opacity="0.8"/><circle cx="486.4" cy="713.1" r="0.5" fill="#c79a5a" opacity="0.7"/><circle cx="459.9" cy="651.3" r="0.5" fill="#c79a5a" opacity="0.6"/><circle cx="452.5" cy="657.7" r="0.6" fill="#8a5a28" opacity="0.8"/><circle cx="456.6" cy="711.1" r="1.1" fill="#b98a4a" opacity="0.8"/>
<rect x="382.90" y="634.80" width="136.00" height="102.60" fill="none" stroke="#1a1a1a" stroke-width="1.7" />
<rect x="388.80" y="729.40" width="26.00" height="2.80" fill="none" stroke="#c4c4c4" stroke-width="0.4" />
<text x="390.20" y="647.72" font-size="10.4" font-weight="bold" text-anchor="start" fill="#000" textLength="102.4" lengthAdjust="spacingAndGlyphs" stroke="#000" stroke-width="0.25" stroke-linejoin="round">FT194 5-AZA 0.5 µmol/L</text>
</svg></body></html>
